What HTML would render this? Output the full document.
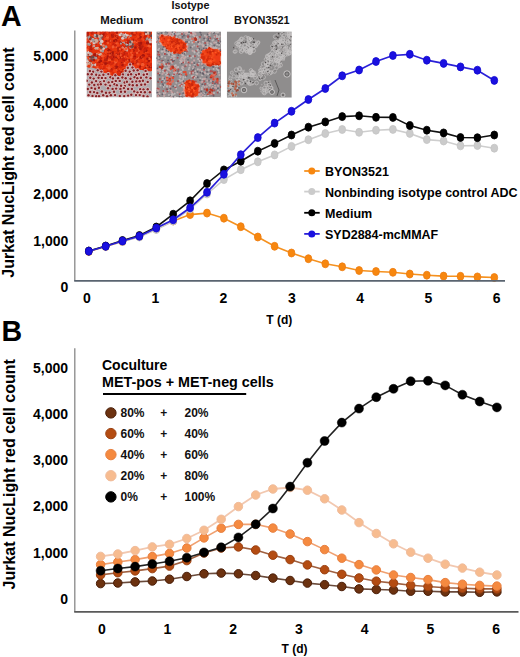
<!DOCTYPE html>
<html><head><meta charset="utf-8"><style>
html,body{margin:0;padding:0;background:#fff;width:520px;height:657px;overflow:hidden}
svg{display:block}
.b{font-family:"Liberation Sans",sans-serif;font-weight:bold;fill:#000}
.c{font-family:"Liberation Sans",sans-serif;font-weight:bold;fill:#111}
</style></head><body>
<svg width="520" height="657" viewBox="0 0 520 657"><rect width="520" height="657" fill="#fff"/><text x="1.1" y="25.5" class="b" font-size="28.6">A</text><text x="1.4" y="341.2" class="b" font-size="28.6">B</text><text transform="translate(13.7,162.5) rotate(-90)" text-anchor="middle" class="b" font-size="16">Jurkat NucLight red cell count</text><text transform="translate(14.6,474.3) rotate(-90)" text-anchor="middle" class="b" font-size="16">Jurkat NucLight red cell count</text><text x="68.3" y="61.4" text-anchor="end" class="b" font-size="14">5,000</text><text x="68.3" y="108" text-anchor="end" class="b" font-size="14">4,000</text><text x="68.3" y="155" text-anchor="end" class="b" font-size="14">3,000</text><text x="68.3" y="199" text-anchor="end" class="b" font-size="14">2,000</text><text x="68.3" y="246" text-anchor="end" class="b" font-size="14">1,000</text><text x="68.3" y="292" text-anchor="end" class="b" font-size="14">0</text><text x="68.1" y="373" text-anchor="end" class="b" font-size="14">5,000</text><text x="68.1" y="419.2" text-anchor="end" class="b" font-size="14">4,000</text><text x="68.1" y="465.2" text-anchor="end" class="b" font-size="14">3,000</text><text x="68.1" y="511.2" text-anchor="end" class="b" font-size="14">2,000</text><text x="68.1" y="558" text-anchor="end" class="b" font-size="14">1,000</text><text x="68.1" y="604" text-anchor="end" class="b" font-size="14">0</text><text x="87" y="302.8" text-anchor="middle" class="b" font-size="14">0</text><text x="101.8" y="633.9" text-anchor="middle" class="b" font-size="14">0</text><text x="155.3" y="302.8" text-anchor="middle" class="b" font-size="14">1</text><text x="167.5" y="633.9" text-anchor="middle" class="b" font-size="14">1</text><text x="223.5" y="302.8" text-anchor="middle" class="b" font-size="14">2</text><text x="233.2" y="633.9" text-anchor="middle" class="b" font-size="14">2</text><text x="291.8" y="302.8" text-anchor="middle" class="b" font-size="14">3</text><text x="299" y="633.9" text-anchor="middle" class="b" font-size="14">3</text><text x="360.1" y="302.8" text-anchor="middle" class="b" font-size="14">4</text><text x="364.7" y="633.9" text-anchor="middle" class="b" font-size="14">4</text><text x="428.3" y="302.8" text-anchor="middle" class="b" font-size="14">5</text><text x="430.4" y="633.9" text-anchor="middle" class="b" font-size="14">5</text><text x="496.6" y="302.8" text-anchor="middle" class="b" font-size="14">6</text><text x="496.1" y="633.9" text-anchor="middle" class="b" font-size="14">6</text><text x="279.3" y="323.5" text-anchor="middle" class="b" font-size="12">T (d)</text><text x="294.5" y="653" text-anchor="middle" class="b" font-size="12">T (d)</text><defs><filter id="soft" x="0" y="0" width="1" height="1"><feGaussianBlur stdDeviation="0.45"/></filter></defs><clipPath id="c1"><rect x="86.5" y="31.4" width="65.5" height="66"/></clipPath><g clip-path="url(#c1)"><g filter="url(#soft)"><rect x="86.5" y="31.4" width="65.5" height="66" fill="#aeaaae"/><path d="M86.5 31.4 L152 31.4 L152 71 L144 70 L137 70 L134 67 L130 63 L126 68 L124 72 L118.6 75.5 L111.7 75 L104 72.5 L97 69 L92 67.5 L86.5 67Z" fill="#e4300e"/><circle cx="116.1" cy="68.3" r="1.2" fill="#b82010"/><circle cx="119.8" cy="70.2" r="1.5" fill="#c82008"/><circle cx="117.7" cy="71.9" r="0.9" fill="#c82008"/><circle cx="106.4" cy="37.4" r="1.6" fill="#b82010"/><circle cx="112.4" cy="61.3" r="1.4" fill="#e83810"/><circle cx="96.8" cy="32.4" r="0.9" fill="#a81808"/><circle cx="107.9" cy="70.4" r="1.3" fill="#c82008"/><circle cx="128.4" cy="64.4" r="0.9" fill="#e83810"/><circle cx="129.4" cy="58.2" r="1.7" fill="#a81808"/><circle cx="107.2" cy="46.6" r="0.8" fill="#d82a0c"/><circle cx="123.4" cy="38.5" r="1.2" fill="#d8c8c4"/><circle cx="86.5" cy="45.2" r="1.2" fill="#f04018"/><circle cx="150.7" cy="57.6" r="1.3" fill="#f04018"/><circle cx="108.6" cy="51.9" r="1.7" fill="#f04018"/><circle cx="136.2" cy="39.2" r="1.4" fill="#c82008"/><circle cx="87.2" cy="62.1" r="1.1" fill="#d0a898"/><circle cx="136.9" cy="59.1" r="0.9" fill="#f25a30"/><circle cx="114.1" cy="45.4" r="1.6" fill="#d82a0c"/><circle cx="150.4" cy="70.5" r="1" fill="#f04018"/><circle cx="128.5" cy="38" r="1.2" fill="#c82008"/><circle cx="140.9" cy="56.9" r="0.9" fill="#f04018"/><circle cx="124.7" cy="47.4" r="1.4" fill="#d82a0c"/><circle cx="141" cy="40.4" r="1" fill="#f25a30"/><circle cx="140.1" cy="47.9" r="0.9" fill="#c82008"/><circle cx="131.5" cy="57" r="1.3" fill="#f25a30"/><circle cx="114.1" cy="38.3" r="1.3" fill="#f04018"/><circle cx="112.2" cy="59.2" r="1.2" fill="#a81808"/><circle cx="150.5" cy="39.7" r="1.4" fill="#d0a898"/><circle cx="99.9" cy="32.5" r="1.2" fill="#d82a0c"/><circle cx="102.8" cy="34.5" r="1.1" fill="#d82a0c"/><circle cx="124" cy="40.1" r="1.7" fill="#6a4a4a"/><circle cx="124.8" cy="40.7" r="1.3" fill="#b8b0b0"/><circle cx="109.9" cy="52" r="0.8" fill="#f04018"/><circle cx="128.2" cy="63.2" r="1.1" fill="#e83810"/><circle cx="95.4" cy="36.2" r="1.5" fill="#d8c8c4"/><circle cx="146.4" cy="54.6" r="1.2" fill="#e83810"/><circle cx="148.3" cy="33.4" r="1.4" fill="#b8b0b0"/><circle cx="111.5" cy="69.9" r="0.9" fill="#a81808"/><circle cx="92.4" cy="39" r="1.5" fill="#6a4a4a"/><circle cx="124.6" cy="60.5" r="1.3" fill="#b82010"/><circle cx="120.5" cy="65.4" r="1.3" fill="#d82a0c"/><circle cx="118" cy="46.6" r="0.9" fill="#e83810"/><circle cx="110.6" cy="40.9" r="1" fill="#a81808"/><circle cx="129.7" cy="60.6" r="1.1" fill="#c82008"/><circle cx="130.1" cy="44.5" r="1.6" fill="#a09a9c"/><circle cx="111.7" cy="69.9" r="1" fill="#d82a0c"/><circle cx="95.3" cy="54.5" r="0.8" fill="#b82010"/><circle cx="140.3" cy="38.8" r="1" fill="#f25a30"/><circle cx="100.5" cy="58.7" r="1.3" fill="#e83810"/><circle cx="104.7" cy="71.5" r="1.4" fill="#e83810"/><circle cx="123.9" cy="51.8" r="1.3" fill="#b82010"/><circle cx="128.5" cy="58.1" r="0.8" fill="#c82008"/><circle cx="140.8" cy="47.1" r="1.5" fill="#c82008"/><circle cx="151" cy="39" r="1.4" fill="#d0a898"/><circle cx="131.3" cy="44.6" r="1.5" fill="#a09a9c"/><circle cx="136" cy="66.7" r="1" fill="#f04018"/><circle cx="104.3" cy="54.2" r="1.7" fill="#e83810"/><circle cx="132.3" cy="46.2" r="1" fill="#6a4a4a"/><circle cx="116.2" cy="72.7" r="1.1" fill="#f04018"/><circle cx="116.9" cy="74.4" r="0.9" fill="#c82008"/><circle cx="147" cy="39.5" r="1.7" fill="#6a4a4a"/><circle cx="150.5" cy="66.8" r="1.6" fill="#b82010"/><circle cx="87.5" cy="64.7" r="1.3" fill="#d8c8c4"/><circle cx="136.8" cy="63.6" r="1" fill="#f04018"/><circle cx="143.3" cy="59.7" r="1" fill="#f04018"/><circle cx="95.7" cy="41.2" r="1.6" fill="#d0a898"/><circle cx="92.1" cy="46" r="1.6" fill="#d8c8c4"/><circle cx="123.3" cy="42.2" r="1.1" fill="#d0a898"/><circle cx="106.4" cy="40.7" r="1.3" fill="#a81808"/><circle cx="124" cy="44.7" r="0.9" fill="#d0a898"/><circle cx="111.2" cy="66.9" r="1.3" fill="#f04018"/><circle cx="123.4" cy="63.8" r="1" fill="#e83810"/><circle cx="147.5" cy="61.7" r="1.6" fill="#b82010"/><circle cx="104.1" cy="62.6" r="1.1" fill="#c82008"/><circle cx="146.8" cy="66" r="1" fill="#f04018"/><circle cx="88" cy="44.2" r="0.8" fill="#c82008"/><circle cx="102.5" cy="64.3" r="1.5" fill="#f25a30"/><circle cx="94.5" cy="65.1" r="1.5" fill="#a09a9c"/><circle cx="144.1" cy="32.9" r="1.2" fill="#e83810"/><circle cx="121.2" cy="41.9" r="1.4" fill="#d0a898"/><circle cx="107.2" cy="52.2" r="1" fill="#c82008"/><circle cx="95.3" cy="47.2" r="1.1" fill="#d82a0c"/><circle cx="138.8" cy="37.7" r="1.4" fill="#a81808"/><circle cx="94.1" cy="64.8" r="1.7" fill="#a81808"/><circle cx="118.1" cy="33" r="1.3" fill="#b82010"/><circle cx="120.2" cy="68.9" r="1" fill="#c82008"/><circle cx="94" cy="42.8" r="1.6" fill="#d8c8c4"/><circle cx="92.7" cy="35.5" r="0.9" fill="#f25a30"/><circle cx="92.8" cy="57.2" r="1.2" fill="#d8c8c4"/><circle cx="125.9" cy="32.3" r="0.8" fill="#e83810"/><circle cx="99.6" cy="58.3" r="1.5" fill="#d82a0c"/><circle cx="113" cy="44.3" r="0.9" fill="#c82008"/><circle cx="138.4" cy="52.8" r="1.5" fill="#f04018"/><circle cx="127.7" cy="58.1" r="1" fill="#a81808"/><circle cx="124.8" cy="53.9" r="1" fill="#b82010"/><circle cx="91.1" cy="54" r="1.6" fill="#b8b0b0"/><circle cx="89.7" cy="49.4" r="1.1" fill="#e83810"/><circle cx="100.7" cy="58.2" r="1.3" fill="#c82008"/><circle cx="134.9" cy="48.3" r="1.3" fill="#f25a30"/><circle cx="87.2" cy="48.5" r="1.6" fill="#d82a0c"/><circle cx="122.5" cy="64.9" r="1.3" fill="#a81808"/><circle cx="139.5" cy="36.4" r="1.4" fill="#a81808"/><circle cx="149.1" cy="56.9" r="1.1" fill="#c82008"/><circle cx="122" cy="70.8" r="1.7" fill="#f25a30"/><circle cx="114.1" cy="66.2" r="1.1" fill="#a81808"/><circle cx="121.2" cy="63.3" r="1.3" fill="#d82a0c"/><circle cx="105.9" cy="32.3" r="1.3" fill="#c82008"/><circle cx="128" cy="58.4" r="1.2" fill="#e83810"/><circle cx="148.4" cy="36.3" r="1.4" fill="#f25a30"/><circle cx="89.5" cy="37.9" r="0.9" fill="#f25a30"/><circle cx="149.4" cy="47.6" r="0.9" fill="#e83810"/><circle cx="127.4" cy="61.5" r="1.6" fill="#c82008"/><circle cx="109.9" cy="41.6" r="1.2" fill="#d82a0c"/><circle cx="130.2" cy="61.5" r="1.4" fill="#d82a0c"/><circle cx="131.2" cy="55.4" r="1.3" fill="#e83810"/><circle cx="134.6" cy="47.1" r="1.3" fill="#f04018"/><circle cx="106.7" cy="64.9" r="1.1" fill="#b82010"/><circle cx="123.5" cy="70.5" r="1.1" fill="#e83810"/><circle cx="119.4" cy="74.5" r="1.6" fill="#c82008"/><circle cx="89.1" cy="35.4" r="1" fill="#d82a0c"/><circle cx="88.3" cy="33.9" r="1.3" fill="#c82008"/><circle cx="91.2" cy="37.1" r="1" fill="#a81808"/><circle cx="150.8" cy="63.3" r="1" fill="#d82a0c"/><circle cx="141.4" cy="36.3" r="1.2" fill="#f04018"/><circle cx="136.9" cy="60.7" r="1" fill="#e83810"/><circle cx="139.5" cy="55.8" r="1.6" fill="#e83810"/><circle cx="125.6" cy="50.6" r="1.6" fill="#b82010"/><circle cx="114.5" cy="55.8" r="1.2" fill="#f04018"/><circle cx="107.7" cy="67.3" r="1.3" fill="#f25a30"/><circle cx="91.5" cy="45.5" r="1.4" fill="#f04018"/><circle cx="107.6" cy="60.5" r="1.6" fill="#a81808"/><circle cx="106.5" cy="52.4" r="1.7" fill="#f25a30"/><circle cx="134.3" cy="65.5" r="1.1" fill="#f04018"/><circle cx="110.4" cy="55.4" r="1.3" fill="#f25a30"/><circle cx="110.6" cy="57.2" r="1.6" fill="#c82008"/><circle cx="123.4" cy="43.1" r="1.1" fill="#b82010"/><circle cx="88" cy="65.4" r="1.1" fill="#d0a898"/><circle cx="114.2" cy="69.8" r="1.5" fill="#d82a0c"/><circle cx="92" cy="36.8" r="0.9" fill="#d82a0c"/><circle cx="128" cy="40.9" r="1.2" fill="#e83810"/><circle cx="133.1" cy="63.7" r="1.1" fill="#a81808"/><circle cx="116.6" cy="54.5" r="1.7" fill="#b82010"/><circle cx="114.1" cy="59.2" r="1" fill="#c82008"/><circle cx="131.3" cy="52.6" r="1.2" fill="#f25a30"/><circle cx="90.4" cy="51.8" r="1.5" fill="#a09a9c"/><circle cx="98.3" cy="35.5" r="1.3" fill="#d0a898"/><circle cx="138.9" cy="52" r="1" fill="#c82008"/><circle cx="100.7" cy="46.9" r="1.3" fill="#a81808"/><circle cx="148.2" cy="67.7" r="1" fill="#b82010"/><circle cx="108.9" cy="67.5" r="1.2" fill="#f04018"/><circle cx="101" cy="34.7" r="1.5" fill="#b82010"/><circle cx="145.8" cy="61.1" r="1.4" fill="#c82008"/><circle cx="126.2" cy="41.8" r="1" fill="#d8c8c4"/><circle cx="127.1" cy="65.5" r="0.9" fill="#f04018"/><circle cx="137" cy="31.5" r="1.6" fill="#b82010"/><circle cx="96.3" cy="39.9" r="1.5" fill="#d0a898"/><circle cx="92.9" cy="63.1" r="1.3" fill="#d0a898"/><circle cx="119.6" cy="32.7" r="1.2" fill="#c82008"/><circle cx="146.5" cy="37.4" r="0.8" fill="#c82008"/><circle cx="113.6" cy="64" r="1.7" fill="#b82010"/><circle cx="107.2" cy="58.2" r="1.1" fill="#a81808"/><circle cx="93.4" cy="57.4" r="1.4" fill="#b8b0b0"/><circle cx="87.3" cy="56.3" r="1.1" fill="#c82008"/><circle cx="122.9" cy="37.1" r="1.5" fill="#6a4a4a"/><circle cx="92.5" cy="40.7" r="1" fill="#a09a9c"/><circle cx="125.3" cy="37.3" r="1.7" fill="#a09a9c"/><circle cx="147.2" cy="40.6" r="1.6" fill="#a09a9c"/><circle cx="111.8" cy="53.3" r="1.4" fill="#f25a30"/><circle cx="121.2" cy="48.6" r="1.1" fill="#c82008"/><circle cx="129.1" cy="38.4" r="1.2" fill="#d0a898"/><circle cx="105.7" cy="38.2" r="0.9" fill="#e83810"/><circle cx="122.4" cy="54.7" r="1.3" fill="#a81808"/><circle cx="124.1" cy="44.5" r="1.4" fill="#e83810"/><circle cx="147.8" cy="68.8" r="1.4" fill="#f04018"/><circle cx="99.5" cy="36.9" r="1.2" fill="#d0a898"/><circle cx="108.3" cy="37.5" r="1.1" fill="#b82010"/><circle cx="116.8" cy="39.6" r="0.9" fill="#e83810"/><circle cx="145.7" cy="67.3" r="0.9" fill="#a81808"/><circle cx="146.4" cy="42.5" r="1.7" fill="#e83810"/><circle cx="102.3" cy="69.3" r="0.9" fill="#b82010"/><circle cx="116.3" cy="58" r="1.7" fill="#b82010"/><circle cx="134.8" cy="56.6" r="1.4" fill="#a81808"/><circle cx="136.5" cy="41.9" r="1.2" fill="#f25a30"/><circle cx="95.9" cy="56.9" r="1.2" fill="#a81808"/><circle cx="108.5" cy="40.1" r="1.3" fill="#c82008"/><circle cx="108.3" cy="73.8" r="1.4" fill="#f04018"/><circle cx="138.1" cy="58" r="1.3" fill="#f25a30"/><circle cx="117.3" cy="58.6" r="1.6" fill="#a81808"/><circle cx="123.5" cy="58.3" r="1.2" fill="#d82a0c"/><circle cx="142.5" cy="58.4" r="0.9" fill="#f25a30"/><circle cx="108.1" cy="65.8" r="1.6" fill="#f25a30"/><circle cx="107.5" cy="35" r="1.4" fill="#e83810"/><circle cx="114.9" cy="56.2" r="1.5" fill="#d82a0c"/><circle cx="106.5" cy="70.6" r="1" fill="#f04018"/><circle cx="141.8" cy="47.4" r="1.2" fill="#b82010"/><circle cx="121" cy="47.2" r="1.4" fill="#d82a0c"/><circle cx="143.6" cy="55.7" r="1.2" fill="#a81808"/><circle cx="139.2" cy="46" r="1.2" fill="#e83810"/><circle cx="94.5" cy="36.1" r="1" fill="#a09a9c"/><circle cx="86.5" cy="47.5" r="0.8" fill="#d82a0c"/><circle cx="97.8" cy="60.5" r="1.5" fill="#f25a30"/><circle cx="112.5" cy="54.9" r="1" fill="#a81808"/><circle cx="106.6" cy="61.4" r="1.1" fill="#d82a0c"/><circle cx="150.5" cy="62.6" r="1" fill="#c82008"/><circle cx="90.4" cy="52.2" r="0.8" fill="#f25a30"/><circle cx="123.2" cy="66.6" r="1" fill="#c82008"/><circle cx="144.2" cy="34.7" r="1.1" fill="#f04018"/><circle cx="104.4" cy="59.1" r="1.1" fill="#c82008"/><circle cx="113.7" cy="42.6" r="1.1" fill="#b82010"/><circle cx="133" cy="44.4" r="1.3" fill="#a09a9c"/><circle cx="105.9" cy="49.4" r="1.4" fill="#b82010"/><circle cx="101.5" cy="51.3" r="1" fill="#e83810"/><circle cx="116.8" cy="36.4" r="0.9" fill="#a81808"/><circle cx="145.9" cy="31.9" r="1.1" fill="#d0a898"/><circle cx="139.1" cy="37.2" r="1.7" fill="#d82a0c"/><circle cx="98.9" cy="43.2" r="1" fill="#f04018"/><circle cx="88.7" cy="61.9" r="0.8" fill="#f25a30"/><circle cx="144.9" cy="35.4" r="1.3" fill="#f04018"/><circle cx="128.7" cy="55.1" r="1.2" fill="#e83810"/><circle cx="88.6" cy="50.6" r="1.6" fill="#b82010"/><circle cx="148.8" cy="42.9" r="1.5" fill="#b82010"/><circle cx="93.8" cy="60.1" r="1.5" fill="#a81808"/><circle cx="102" cy="63.7" r="1.6" fill="#c82008"/><circle cx="126" cy="48.6" r="1.4" fill="#b8b0b0"/><circle cx="143.7" cy="43.3" r="1.3" fill="#c82008"/><circle cx="142.6" cy="33.4" r="1.6" fill="#f04018"/><circle cx="123.8" cy="67.3" r="1.4" fill="#b82010"/><circle cx="127.3" cy="35" r="1.6" fill="#d8c8c4"/><circle cx="136.6" cy="64.3" r="1.5" fill="#e83810"/><circle cx="97.7" cy="48.2" r="1.5" fill="#d0a898"/><circle cx="90.5" cy="58.5" r="1.5" fill="#a09a9c"/><circle cx="149.2" cy="39.9" r="1.7" fill="#a81808"/><circle cx="96" cy="61.5" r="0.8" fill="#f04018"/><circle cx="113.3" cy="66.1" r="1.2" fill="#f04018"/><circle cx="106" cy="59.4" r="1.7" fill="#f04018"/><circle cx="105.9" cy="39.2" r="1" fill="#b82010"/><circle cx="110.3" cy="53.6" r="1" fill="#a81808"/><circle cx="147.8" cy="45.5" r="1.5" fill="#f25a30"/><circle cx="100.6" cy="54.3" r="1.5" fill="#d0a898"/><circle cx="118" cy="57.8" r="1.2" fill="#a81808"/><circle cx="106.7" cy="60.9" r="1.4" fill="#e83810"/><circle cx="143" cy="44.9" r="1.2" fill="#f25a30"/><circle cx="89.6" cy="49.6" r="1.4" fill="#d82a0c"/><circle cx="120" cy="68.8" r="1.4" fill="#e83810"/><circle cx="104.1" cy="55.2" r="1.5" fill="#c82008"/><circle cx="137.4" cy="40.4" r="1.5" fill="#c82008"/><circle cx="145.9" cy="32.7" r="1.3" fill="#6a4a4a"/><circle cx="142.5" cy="56.6" r="1.5" fill="#d82a0c"/><circle cx="120.5" cy="35" r="1.3" fill="#a09a9c"/><circle cx="98.8" cy="65.3" r="0.8" fill="#c82008"/><circle cx="107" cy="59.4" r="1.4" fill="#a81808"/><circle cx="120.4" cy="67.6" r="1.5" fill="#d82a0c"/><circle cx="130.1" cy="41.1" r="1.3" fill="#d8c8c4"/><circle cx="115.9" cy="40.4" r="1.6" fill="#a81808"/><circle cx="101.3" cy="50.7" r="1" fill="#a09a9c"/><circle cx="118.1" cy="32.1" r="1.7" fill="#b82010"/><circle cx="146.7" cy="45.7" r="1.1" fill="#e83810"/><circle cx="94.3" cy="63.9" r="1.1" fill="#d8c8c4"/><circle cx="132.6" cy="46" r="1.2" fill="#c82008"/><circle cx="102.2" cy="37.5" r="1.5" fill="#6a4a4a"/><circle cx="117.8" cy="48.4" r="1.3" fill="#b82010"/><circle cx="132.4" cy="32.9" r="0.9" fill="#f25a30"/><circle cx="104.3" cy="56.3" r="1.3" fill="#b82010"/><circle cx="117.2" cy="52.9" r="0.9" fill="#d82a0c"/><circle cx="88.8" cy="52.8" r="1.1" fill="#d8c8c4"/><circle cx="130.3" cy="43.7" r="1.2" fill="#d0a898"/><circle cx="145.3" cy="33.4" r="1.5" fill="#c82008"/><circle cx="113.4" cy="58.8" r="0.9" fill="#d82a0c"/><circle cx="116.9" cy="61.1" r="0.8" fill="#f25a30"/><circle cx="95.4" cy="64.9" r="1.3" fill="#d8c8c4"/><circle cx="104.2" cy="48.4" r="0.9" fill="#d0a898"/><circle cx="122.1" cy="57.4" r="1.3" fill="#c82008"/><circle cx="138.7" cy="48.8" r="1.6" fill="#f04018"/><circle cx="118.6" cy="68.6" r="1.2" fill="#d82a0c"/><circle cx="119.1" cy="74.1" r="1.1" fill="#d82a0c"/><circle cx="98.1" cy="65.3" r="1.6" fill="#c82008"/><circle cx="144.5" cy="51.9" r="1.2" fill="#b82010"/><circle cx="137.1" cy="63.1" r="1.4" fill="#c82008"/><circle cx="113.5" cy="63.2" r="1" fill="#d82a0c"/><circle cx="107.9" cy="53.4" r="1" fill="#b82010"/><circle cx="123.4" cy="39.9" r="1.4" fill="#e83810"/><circle cx="139" cy="39.7" r="1.4" fill="#f25a30"/><circle cx="150.3" cy="62.5" r="1.6" fill="#e83810"/><circle cx="150.1" cy="40.2" r="1" fill="#f25a30"/><circle cx="130.1" cy="56.9" r="1.7" fill="#e83810"/><circle cx="94.3" cy="34.2" r="1.1" fill="#d82a0c"/><circle cx="97.7" cy="35.8" r="1.1" fill="#d8c8c4"/><circle cx="133.8" cy="58.3" r="1.7" fill="#c82008"/><circle cx="96.1" cy="43" r="1.6" fill="#d8c8c4"/><circle cx="114.8" cy="41.4" r="1" fill="#f04018"/><circle cx="123.8" cy="49.5" r="1" fill="#f25a30"/><circle cx="101.4" cy="63.2" r="1.3" fill="#d82a0c"/><circle cx="123.1" cy="41.4" r="1.4" fill="#d8c8c4"/><circle cx="86.8" cy="53.6" r="1.7" fill="#a09a9c"/><circle cx="113.3" cy="33.5" r="1.5" fill="#d82a0c"/><circle cx="112.4" cy="35.2" r="1.4" fill="#a81808"/><circle cx="140.7" cy="48.1" r="1.6" fill="#c82008"/><circle cx="134" cy="43" r="1.7" fill="#f04018"/><circle cx="104.3" cy="33" r="1.1" fill="#a81808"/><circle cx="120.2" cy="32.1" r="0.9" fill="#c82008"/><circle cx="103.9" cy="47.6" r="1.2" fill="#f25a30"/><circle cx="101.4" cy="57" r="1.3" fill="#d82a0c"/><circle cx="127.6" cy="61.1" r="1.1" fill="#d82a0c"/><circle cx="145.8" cy="52.6" r="1" fill="#f04018"/><circle cx="100.5" cy="43.3" r="1.3" fill="#a09a9c"/><circle cx="131.1" cy="43.1" r="1.2" fill="#a09a9c"/><circle cx="98.4" cy="32.9" r="1.3" fill="#f25a30"/><circle cx="112.9" cy="52.6" r="1.6" fill="#a81808"/><circle cx="136.4" cy="32.8" r="1.1" fill="#c82008"/><circle cx="135.9" cy="38.6" r="1.2" fill="#d82a0c"/><circle cx="149.6" cy="45.9" r="1.5" fill="#f25a30"/><circle cx="91.1" cy="57.1" r="1.5" fill="#c82008"/><circle cx="120.9" cy="32.1" r="1.4" fill="#e83810"/><circle cx="111.3" cy="73.9" r="1.4" fill="#c82008"/><circle cx="109.1" cy="60.4" r="1.4" fill="#e83810"/><circle cx="119.6" cy="68.9" r="0.9" fill="#f04018"/><circle cx="115.1" cy="62.2" r="1.1" fill="#b82010"/><circle cx="101.6" cy="71" r="0.8" fill="#a81808"/><circle cx="146.8" cy="66.3" r="1.2" fill="#f25a30"/><circle cx="147.5" cy="41.4" r="1.1" fill="#f25a30"/><circle cx="98.8" cy="62.4" r="1.2" fill="#a81808"/><circle cx="143.3" cy="39.8" r="0.9" fill="#f25a30"/><circle cx="138.2" cy="40.8" r="1.5" fill="#f04018"/><circle cx="133.1" cy="47.9" r="1" fill="#f25a30"/><circle cx="87.4" cy="59.6" r="1" fill="#a09a9c"/><circle cx="118.6" cy="47.4" r="1.2" fill="#b82010"/><circle cx="150.2" cy="35.7" r="1.1" fill="#b82010"/><circle cx="93.1" cy="33.8" r="1.7" fill="#d82a0c"/><circle cx="100.9" cy="50.4" r="1.2" fill="#d0a898"/><circle cx="145.6" cy="36.1" r="1.3" fill="#c82008"/><circle cx="150" cy="68.4" r="1.1" fill="#f25a30"/><circle cx="129.6" cy="45.2" r="1" fill="#a09a9c"/><circle cx="124.5" cy="34.1" r="1.7" fill="#d8c8c4"/><circle cx="126.5" cy="55" r="0.8" fill="#c82008"/><circle cx="91" cy="45" r="1.1" fill="#b82010"/><circle cx="113.2" cy="41.1" r="1" fill="#e83810"/><circle cx="111" cy="71.8" r="1.2" fill="#d82a0c"/><circle cx="101.9" cy="69.6" r="0.9" fill="#d82a0c"/><circle cx="101.3" cy="62.9" r="1.5" fill="#c82008"/><circle cx="125.9" cy="61" r="1.1" fill="#f04018"/><circle cx="108.3" cy="70" r="1.7" fill="#e83810"/><circle cx="130.5" cy="47.6" r="1.4" fill="#a09a9c"/><circle cx="143.2" cy="57" r="1.1" fill="#d82a0c"/><circle cx="125.2" cy="67.4" r="1.2" fill="#f04018"/><circle cx="87.6" cy="33.4" r="1.4" fill="#a81808"/><circle cx="148.7" cy="32.9" r="0.9" fill="#f25a30"/><circle cx="97.7" cy="64.8" r="1.4" fill="#f25a30"/><circle cx="151.8" cy="35.8" r="1.5" fill="#6a4a4a"/><circle cx="147.5" cy="65.6" r="1" fill="#a81808"/><circle cx="110.7" cy="40.8" r="0.9" fill="#f25a30"/><circle cx="138.5" cy="31.6" r="1.4" fill="#e83810"/><circle cx="114.9" cy="41.7" r="1.6" fill="#d82a0c"/><circle cx="88.1" cy="54.6" r="1.7" fill="#d0a898"/><circle cx="137.3" cy="37.6" r="1.3" fill="#a81808"/><circle cx="90.9" cy="47.1" r="1.3" fill="#a81808"/><circle cx="102.7" cy="58.7" r="1.7" fill="#f04018"/><circle cx="125.1" cy="42.6" r="1.6" fill="#a09a9c"/><circle cx="120.9" cy="58.2" r="1.7" fill="#a81808"/><circle cx="133.2" cy="39.2" r="0.8" fill="#b82010"/><circle cx="96.8" cy="66.5" r="1.2" fill="#f04018"/><circle cx="137.3" cy="57.1" r="0.9" fill="#d82a0c"/><circle cx="103.6" cy="38.8" r="1.6" fill="#d82a0c"/><circle cx="123.2" cy="40.5" r="1.2" fill="#f04018"/><circle cx="103.4" cy="55.7" r="1.5" fill="#f25a30"/><circle cx="111.7" cy="74.2" r="1.2" fill="#d82a0c"/><circle cx="90.5" cy="66.2" r="1.6" fill="#6a4a4a"/><circle cx="88.6" cy="55.1" r="1.5" fill="#a81808"/><circle cx="118.4" cy="32" r="1.3" fill="#f25a30"/><circle cx="109.9" cy="47.7" r="1.4" fill="#a81808"/><circle cx="141.5" cy="45.2" r="1.3" fill="#b82010"/><circle cx="107.1" cy="64.2" r="1.5" fill="#a81808"/><circle cx="100.5" cy="70.3" r="1.5" fill="#b82010"/><circle cx="112.9" cy="50.3" r="0.9" fill="#e83810"/><circle cx="112.5" cy="46.3" r="1.1" fill="#d82a0c"/><circle cx="128.3" cy="32.9" r="1.5" fill="#e83810"/><circle cx="124.5" cy="31.8" r="1.2" fill="#e83810"/><circle cx="108.5" cy="72.7" r="0.9" fill="#b82010"/><circle cx="137.7" cy="60.5" r="0.9" fill="#b82010"/><circle cx="139" cy="60.8" r="1.5" fill="#e83810"/><circle cx="129.3" cy="38.9" r="1.2" fill="#f04018"/><circle cx="117.4" cy="33.5" r="1.6" fill="#f25a30"/><circle cx="118.9" cy="60.2" r="1.1" fill="#b82010"/><circle cx="137.5" cy="38.3" r="1.6" fill="#e83810"/><circle cx="137.1" cy="52.8" r="1.1" fill="#f04018"/><circle cx="97.2" cy="54.5" r="1.4" fill="#d0a898"/><circle cx="116.2" cy="70.3" r="1.1" fill="#f25a30"/><circle cx="124.7" cy="63.1" r="1.1" fill="#f25a30"/><circle cx="132.2" cy="46.8" r="1.4" fill="#6a4a4a"/><circle cx="103.3" cy="35.6" r="1" fill="#b82010"/><circle cx="102.4" cy="45.5" r="1.3" fill="#f04018"/><circle cx="116.4" cy="63.5" r="1" fill="#c82008"/><circle cx="119.3" cy="41.3" r="1.3" fill="#d82a0c"/><circle cx="122.6" cy="53.4" r="1.2" fill="#c82008"/><circle cx="150.1" cy="54.9" r="0.9" fill="#d82a0c"/><circle cx="137.9" cy="45.8" r="1.6" fill="#c82008"/><circle cx="134.8" cy="54.1" r="1.5" fill="#c82008"/><circle cx="133.6" cy="50.6" r="1.5" fill="#b82010"/><circle cx="150.8" cy="38.7" r="1.3" fill="#a09a9c"/><circle cx="103.1" cy="50.7" r="1.1" fill="#a09a9c"/><circle cx="91.5" cy="33.3" r="1" fill="#b82010"/><circle cx="103.5" cy="35" r="1.1" fill="#b82010"/><circle cx="138.1" cy="46.8" r="1.4" fill="#f25a30"/><circle cx="109.1" cy="45.7" r="1.3" fill="#e83810"/><circle cx="123.6" cy="54.4" r="0.9" fill="#c82008"/><circle cx="122.5" cy="69.3" r="1.5" fill="#e83810"/><circle cx="106.3" cy="31.6" r="1.7" fill="#a81808"/><circle cx="99.3" cy="55.6" r="0.9" fill="#a09a9c"/><circle cx="130.1" cy="35.9" r="1" fill="#d0a898"/><circle cx="122" cy="60.2" r="1" fill="#e83810"/><circle cx="121" cy="54.8" r="1.6" fill="#f25a30"/><circle cx="144.1" cy="38.1" r="1.2" fill="#c82008"/><circle cx="91.7" cy="63.5" r="1" fill="#d0a898"/><circle cx="145.4" cy="48.3" r="1.4" fill="#c82008"/><circle cx="87.8" cy="63.7" r="1.4" fill="#d0a898"/><circle cx="92.2" cy="65.7" r="0.9" fill="#f04018"/><circle cx="106" cy="51.3" r="1.2" fill="#f04018"/><circle cx="96.3" cy="43.7" r="1.3" fill="#b82010"/><circle cx="86.5" cy="35.9" r="1" fill="#b82010"/><circle cx="112.4" cy="46.7" r="1.1" fill="#d82a0c"/><circle cx="109.2" cy="32.4" r="1" fill="#b82010"/><circle cx="89.6" cy="55.8" r="1.4" fill="#a81808"/><circle cx="116.3" cy="46.9" r="1" fill="#f25a30"/><circle cx="96.3" cy="48.1" r="1" fill="#d8c8c4"/><circle cx="124.1" cy="32.9" r="1" fill="#d82a0c"/><circle cx="106.2" cy="53.2" r="1" fill="#e83810"/><circle cx="88.8" cy="47.8" r="0.9" fill="#f04018"/><circle cx="136.5" cy="47.5" r="0.8" fill="#c82008"/><circle cx="123" cy="40.5" r="1.6" fill="#f04018"/><circle cx="151.4" cy="57" r="1.2" fill="#c82008"/><circle cx="130.4" cy="46.7" r="1.1" fill="#c82008"/><circle cx="105.3" cy="70.6" r="0.9" fill="#e83810"/><circle cx="89.9" cy="33.6" r="1.2" fill="#f04018"/><circle cx="96.9" cy="35.9" r="1.7" fill="#6a4a4a"/><circle cx="147.5" cy="54" r="0.9" fill="#c82008"/><circle cx="99.1" cy="40.4" r="1.5" fill="#b82010"/><circle cx="148.7" cy="61.3" r="1.5" fill="#d82a0c"/><circle cx="147" cy="41.1" r="0.9" fill="#b82010"/><circle cx="98.6" cy="54.3" r="1.2" fill="#d8c8c4"/><circle cx="124.7" cy="49.5" r="1.3" fill="#d0a898"/><circle cx="139.1" cy="48.7" r="0.9" fill="#f04018"/><circle cx="101.1" cy="36.5" r="1" fill="#d0a898"/><circle cx="93.4" cy="63.3" r="1.2" fill="#a81808"/><circle cx="117" cy="44" r="1.7" fill="#f25a30"/><circle cx="112.7" cy="34.8" r="0.8" fill="#c82008"/><circle cx="149.5" cy="33" r="1.4" fill="#6a4a4a"/><circle cx="90.6" cy="33" r="0.8" fill="#d82a0c"/><circle cx="106.4" cy="34.1" r="1.6" fill="#d82a0c"/><circle cx="97.4" cy="40.9" r="1.2" fill="#d0a898"/><circle cx="121.9" cy="61.8" r="1.7" fill="#d82a0c"/><circle cx="129.6" cy="62.3" r="1.7" fill="#a81808"/><circle cx="105.4" cy="42.7" r="1.3" fill="#c82008"/><circle cx="108.8" cy="73.6" r="1.4" fill="#e83810"/><circle cx="109.2" cy="68.3" r="1.5" fill="#f25a30"/><circle cx="112.8" cy="64.3" r="1.4" fill="#b82010"/><circle cx="116.8" cy="37.3" r="1.4" fill="#f25a30"/><circle cx="90.5" cy="40.8" r="1.3" fill="#d0a898"/><circle cx="138.8" cy="48.2" r="1.3" fill="#e83810"/><circle cx="114.4" cy="68" r="1.2" fill="#f04018"/><circle cx="118.1" cy="50.6" r="1.4" fill="#b82010"/><circle cx="115.7" cy="51.1" r="1.6" fill="#e83810"/><circle cx="139" cy="43" r="1.2" fill="#b82010"/><circle cx="133.3" cy="34.3" r="0.8" fill="#b82010"/><circle cx="120" cy="54" r="1.4" fill="#b82010"/><circle cx="130.7" cy="57.8" r="1.6" fill="#e83810"/><circle cx="150.4" cy="41.9" r="1.6" fill="#d8c8c4"/><circle cx="106.8" cy="43.7" r="1.5" fill="#e83810"/><circle cx="130.3" cy="60.2" r="1.5" fill="#f25a30"/><circle cx="128.4" cy="63.9" r="1.4" fill="#f25a30"/><circle cx="94.2" cy="41.5" r="1.1" fill="#6a4a4a"/><circle cx="146.2" cy="50.6" r="1.4" fill="#a81808"/><circle cx="108.3" cy="49.8" r="1.7" fill="#a81808"/><circle cx="90.8" cy="37.8" r="1.2" fill="#f04018"/><circle cx="135.3" cy="47.9" r="1.6" fill="#c82008"/><circle cx="110.4" cy="60" r="0.9" fill="#f25a30"/><circle cx="89.9" cy="54.9" r="1.2" fill="#d0a898"/><circle cx="113.1" cy="46.9" r="1.6" fill="#f25a30"/><circle cx="91.7" cy="59.7" r="1.5" fill="#6a4a4a"/><circle cx="103" cy="67.1" r="1.3" fill="#f04018"/><circle cx="90.2" cy="41.3" r="1.5" fill="#d8c8c4"/><circle cx="89.2" cy="35.2" r="1.2" fill="#f04018"/><circle cx="93.5" cy="62.7" r="1.3" fill="#f04018"/><circle cx="86.6" cy="62.1" r="0.9" fill="#b82010"/><circle cx="114.4" cy="69.2" r="1" fill="#e83810"/><circle cx="139.9" cy="47.2" r="1.4" fill="#b82010"/><circle cx="94.9" cy="35" r="1.2" fill="#b8b0b0"/><circle cx="127" cy="45.1" r="1.7" fill="#6a4a4a"/><circle cx="128.3" cy="53.6" r="1" fill="#f04018"/><circle cx="143.2" cy="65" r="1.5" fill="#f25a30"/><circle cx="143.5" cy="44" r="1.5" fill="#f04018"/><circle cx="132.9" cy="61" r="1.4" fill="#d82a0c"/><circle cx="99.9" cy="60.1" r="1.4" fill="#c82008"/><circle cx="113.4" cy="51.4" r="0.9" fill="#b82010"/><circle cx="144.5" cy="36.3" r="1.1" fill="#c82008"/><circle cx="115" cy="74.5" r="1.3" fill="#c82008"/><circle cx="109.1" cy="59.6" r="1.4" fill="#f04018"/><circle cx="101" cy="57.7" r="1.5" fill="#c82008"/><circle cx="114.9" cy="64.3" r="1.5" fill="#f04018"/><circle cx="141.3" cy="57.2" r="1.7" fill="#a81808"/><circle cx="133.2" cy="53.8" r="1.3" fill="#d82a0c"/><circle cx="123.3" cy="67.3" r="0.9" fill="#f04018"/><circle cx="137.6" cy="52.8" r="1.3" fill="#e83810"/><circle cx="138.5" cy="64" r="1.1" fill="#f25a30"/><circle cx="139.3" cy="59.1" r="0.9" fill="#c82008"/><circle cx="89.7" cy="61.9" r="1.4" fill="#6a4a4a"/><circle cx="149" cy="54.7" r="0.8" fill="#b82010"/><circle cx="97.5" cy="55.4" r="1.1" fill="#c82008"/><circle cx="104.4" cy="55.1" r="1.3" fill="#a81808"/><circle cx="121.8" cy="57.7" r="0.9" fill="#f25a30"/><circle cx="147.6" cy="47.9" r="0.8" fill="#c82008"/><circle cx="88.3" cy="44" r="1.5" fill="#b8b0b0"/><circle cx="142.8" cy="45.3" r="1.1" fill="#e83810"/><circle cx="132.4" cy="33.2" r="1.5" fill="#b82010"/><circle cx="104.9" cy="64.7" r="1" fill="#d82a0c"/><circle cx="108.9" cy="60.4" r="1" fill="#f25a30"/><circle cx="136.5" cy="62.6" r="1.4" fill="#a81808"/><circle cx="143.6" cy="46.3" r="0.9" fill="#d82a0c"/><circle cx="148.1" cy="33" r="1.2" fill="#d0a898"/><circle cx="143" cy="35.5" r="1.2" fill="#f04018"/><circle cx="122.8" cy="34.3" r="0.9" fill="#d8c8c4"/><circle cx="137.6" cy="46" r="1.1" fill="#f04018"/><circle cx="110.1" cy="47.8" r="1.1" fill="#d82a0c"/><circle cx="87.5" cy="55.4" r="1.1" fill="#a09a9c"/><circle cx="117.2" cy="65.2" r="1.3" fill="#d82a0c"/><circle cx="138.9" cy="60.7" r="1.3" fill="#e83810"/><circle cx="113.6" cy="57.1" r="1" fill="#a81808"/><circle cx="115.6" cy="69.4" r="1.5" fill="#b82010"/><circle cx="141.8" cy="50.2" r="1.1" fill="#d82a0c"/><circle cx="127.1" cy="50.2" r="1.4" fill="#d0a898"/><circle cx="116.3" cy="57.6" r="1" fill="#a81808"/><circle cx="143.7" cy="44.2" r="1" fill="#f04018"/><circle cx="150.1" cy="67.3" r="1.3" fill="#a81808"/><circle cx="89" cy="50.5" r="1.7" fill="#d82a0c"/><circle cx="87.4" cy="41.2" r="1.4" fill="#f25a30"/><circle cx="135.7" cy="60.9" r="1.3" fill="#f25a30"/><circle cx="122.3" cy="35.1" r="1.2" fill="#f04018"/><circle cx="100.7" cy="60.9" r="1.5" fill="#a81808"/><circle cx="126.8" cy="32.2" r="1.4" fill="#e83810"/><circle cx="100.5" cy="36.2" r="1" fill="#d82a0c"/><circle cx="144.9" cy="65.9" r="1" fill="#e83810"/><circle cx="101.2" cy="42.3" r="1.5" fill="#a09a9c"/><circle cx="107.4" cy="39" r="1.6" fill="#f04018"/><circle cx="98.6" cy="64.1" r="1" fill="#f04018"/><circle cx="130.7" cy="35.7" r="1.2" fill="#a09a9c"/><circle cx="147.8" cy="52.5" r="0.9" fill="#f04018"/><circle cx="118.7" cy="56.7" r="1" fill="#a81808"/><circle cx="94.2" cy="55.1" r="1.1" fill="#a81808"/><circle cx="146.4" cy="43.3" r="0.8" fill="#a81808"/><circle cx="127.5" cy="61" r="1.5" fill="#f25a30"/><circle cx="88.7" cy="43.9" r="1.4" fill="#6a4a4a"/><circle cx="133.8" cy="34.8" r="0.9" fill="#b82010"/><circle cx="104.6" cy="72" r="1" fill="#f04018"/><circle cx="128.9" cy="41" r="1.6" fill="#c82008"/><circle cx="88.9" cy="38.8" r="1.3" fill="#a09a9c"/><circle cx="115.1" cy="36.3" r="1" fill="#a81808"/><circle cx="97.5" cy="66.7" r="1.2" fill="#f25a30"/><circle cx="92.8" cy="31.8" r="0.8" fill="#d82a0c"/><circle cx="126.8" cy="44.2" r="1.2" fill="#b8b0b0"/><circle cx="105.5" cy="50.3" r="0.9" fill="#e83810"/><circle cx="146" cy="34.1" r="1.1" fill="#d8c8c4"/><circle cx="151.8" cy="37.9" r="1" fill="#e83810"/><circle cx="136.6" cy="38.8" r="1.5" fill="#f04018"/><circle cx="143.2" cy="55.3" r="1.4" fill="#a81808"/><circle cx="144.8" cy="49.7" r="1.6" fill="#c82008"/><circle cx="95.9" cy="58" r="1.5" fill="#a09a9c"/><circle cx="129.4" cy="60.1" r="1.1" fill="#a81808"/><circle cx="107.6" cy="71.5" r="1" fill="#c82008"/><circle cx="88.5" cy="43.7" r="1.1" fill="#d0a898"/><circle cx="142.1" cy="44.5" r="1.3" fill="#a81808"/><circle cx="134.5" cy="39" r="0.8" fill="#e83810"/><circle cx="108" cy="49.6" r="1.4" fill="#a81808"/><circle cx="101.7" cy="63.2" r="1.2" fill="#e83810"/><circle cx="104.1" cy="68.5" r="1.1" fill="#c82008"/><circle cx="135.1" cy="62" r="1.4" fill="#e83810"/><circle cx="149.3" cy="39.7" r="1.2" fill="#b8b0b0"/><circle cx="141.8" cy="67.4" r="1.3" fill="#c82008"/><circle cx="90.3" cy="37.9" r="1.4" fill="#6a4a4a"/><circle cx="103.3" cy="48.3" r="1.7" fill="#d8c8c4"/><circle cx="117.7" cy="38.1" r="0.9" fill="#a81808"/><circle cx="90.7" cy="66.5" r="1.5" fill="#d0a898"/><circle cx="110.9" cy="74.3" r="1.6" fill="#d82a0c"/><circle cx="122.8" cy="69.8" r="0.8" fill="#b82010"/><circle cx="121.8" cy="53" r="1.5" fill="#f25a30"/><circle cx="128" cy="62.3" r="1.2" fill="#f04018"/><circle cx="142.3" cy="63.2" r="0.9" fill="#a81808"/><circle cx="103.9" cy="67" r="1.3" fill="#d82a0c"/><circle cx="138.4" cy="50.5" r="1.3" fill="#f25a30"/><circle cx="114" cy="49.8" r="1.2" fill="#e83810"/><circle cx="112.6" cy="63.1" r="0.9" fill="#d82a0c"/><circle cx="148.9" cy="60.7" r="1.2" fill="#a81808"/><circle cx="115.6" cy="50.9" r="1.1" fill="#d82a0c"/><circle cx="86.7" cy="42.5" r="0.9" fill="#c82008"/><circle cx="135.6" cy="35.7" r="0.9" fill="#e83810"/><circle cx="108.3" cy="43.5" r="1.1" fill="#f04018"/><circle cx="114.3" cy="36.4" r="0.8" fill="#a81808"/><circle cx="129.2" cy="62.4" r="1.5" fill="#b82010"/><circle cx="98.2" cy="64.1" r="1.6" fill="#d82a0c"/><circle cx="89.2" cy="64.7" r="1.3" fill="#d0a898"/><circle cx="122.3" cy="50.1" r="1.3" fill="#c82008"/><circle cx="107.3" cy="42.5" r="1" fill="#e83810"/><circle cx="101.2" cy="35.5" r="1" fill="#a09a9c"/><circle cx="140.6" cy="64.2" r="1.2" fill="#e83810"/><circle cx="99.5" cy="36.5" r="1.4" fill="#d0a898"/><circle cx="113.1" cy="74.2" r="1.6" fill="#d82a0c"/><circle cx="137.7" cy="39.5" r="1.1" fill="#d82a0c"/><circle cx="141.8" cy="56.9" r="0.8" fill="#e83810"/><circle cx="111.7" cy="68.9" r="1" fill="#b82010"/><circle cx="150.7" cy="66.4" r="0.9" fill="#e83810"/><circle cx="109.6" cy="62.6" r="1.5" fill="#c82008"/><circle cx="106.5" cy="63.1" r="1.4" fill="#c82008"/><circle cx="139.1" cy="52.9" r="0.8" fill="#c82008"/><circle cx="114" cy="36.9" r="1.3" fill="#e83810"/><circle cx="87.5" cy="61.3" r="1.2" fill="#d8c8c4"/><circle cx="120.3" cy="60.3" r="1.7" fill="#d82a0c"/><circle cx="143.4" cy="69.3" r="1.1" fill="#c82008"/><circle cx="127.7" cy="43" r="0.9" fill="#a81808"/><circle cx="113.4" cy="41.7" r="1.3" fill="#d82a0c"/><circle cx="130.3" cy="41.8" r="1.5" fill="#6a4a4a"/><circle cx="136.6" cy="60.8" r="0.9" fill="#b82010"/><circle cx="89.6" cy="42" r="0.9" fill="#d82a0c"/><circle cx="95.7" cy="42.5" r="1.2" fill="#d0a898"/><circle cx="91" cy="49" r="1.5" fill="#a81808"/><circle cx="98.4" cy="53.1" r="1.2" fill="#f25a30"/><circle cx="93.5" cy="40.5" r="1.3" fill="#d0a898"/><circle cx="127.5" cy="62.8" r="1.7" fill="#e83810"/><circle cx="100.2" cy="39.4" r="1.6" fill="#a09a9c"/><circle cx="92.5" cy="31.7" r="0.9" fill="#b82010"/><circle cx="109.6" cy="47.3" r="1.6" fill="#e83810"/><circle cx="121.7" cy="54.4" r="0.8" fill="#f25a30"/><circle cx="132.2" cy="41.6" r="1.2" fill="#d0a898"/><circle cx="88.6" cy="36.6" r="1.6" fill="#a09a9c"/><circle cx="88.5" cy="52.3" r="1.5" fill="#d8c8c4"/><circle cx="127" cy="53.6" r="0.9" fill="#c82008"/><circle cx="138.3" cy="36.9" r="1.1" fill="#c82008"/><circle cx="117.3" cy="37.4" r="1.1" fill="#b82010"/><circle cx="116.1" cy="54.8" r="0.9" fill="#f25a30"/><circle cx="90.7" cy="51.1" r="1.7" fill="#d82a0c"/><circle cx="147.9" cy="42.7" r="1" fill="#d82a0c"/><circle cx="139.2" cy="39.4" r="1.6" fill="#d82a0c"/><circle cx="107.4" cy="37.2" r="1.6" fill="#f25a30"/><circle cx="119.9" cy="34.7" r="1.5" fill="#d8c8c4"/><circle cx="112.6" cy="36.5" r="1.5" fill="#b82010"/><circle cx="91.2" cy="47.6" r="1.2" fill="#d82a0c"/><circle cx="106.6" cy="49.2" r="1.2" fill="#d82a0c"/><circle cx="123.5" cy="50.6" r="1.2" fill="#f04018"/><circle cx="138.7" cy="37.5" r="0.8" fill="#a81808"/><circle cx="105.9" cy="51.1" r="1" fill="#f04018"/><circle cx="134.6" cy="33.3" r="1.2" fill="#f04018"/><circle cx="120.9" cy="33" r="1.2" fill="#f04018"/><circle cx="92.9" cy="56.9" r="1.5" fill="#6a4a4a"/><circle cx="116.7" cy="66.6" r="1.6" fill="#a81808"/><circle cx="140.6" cy="66.8" r="1.6" fill="#a81808"/><circle cx="89.7" cy="62.8" r="1" fill="#d0a898"/><circle cx="123.4" cy="40.9" r="0.9" fill="#f25a30"/><circle cx="114.8" cy="53.1" r="1.1" fill="#e83810"/><circle cx="149.4" cy="58.4" r="1.5" fill="#f25a30"/><circle cx="121.1" cy="33.6" r="1" fill="#d8c8c4"/><circle cx="124.5" cy="56.6" r="0.9" fill="#f25a30"/><circle cx="115.7" cy="49.4" r="1.3" fill="#e83810"/><circle cx="98.4" cy="56.8" r="1.2" fill="#a81808"/><circle cx="115" cy="70.7" r="1.6" fill="#f04018"/><circle cx="101.5" cy="47.5" r="1.4" fill="#6a4a4a"/><circle cx="107" cy="32.7" r="1.6" fill="#f04018"/><circle cx="93" cy="39.2" r="1.3" fill="#d8c8c4"/><circle cx="115.6" cy="49.8" r="1.3" fill="#e83810"/><circle cx="94.9" cy="54.6" r="1.5" fill="#a81808"/><circle cx="95.4" cy="48.4" r="1" fill="#c82008"/><circle cx="123.6" cy="36.3" r="1.5" fill="#b82010"/><circle cx="90.4" cy="57.4" r="0.9" fill="#6a4a4a"/><circle cx="142.5" cy="44.6" r="1.4" fill="#d82a0c"/><circle cx="110.6" cy="73.6" r="1.5" fill="#f04018"/><circle cx="96.3" cy="60.6" r="0.9" fill="#e83810"/><circle cx="86.7" cy="57.7" r="1" fill="#a09a9c"/><circle cx="125.2" cy="40.2" r="1.6" fill="#e83810"/><circle cx="126.7" cy="54.8" r="1.4" fill="#d82a0c"/><circle cx="142.1" cy="67.7" r="1.4" fill="#f04018"/><circle cx="151.3" cy="61.7" r="1.3" fill="#f04018"/><circle cx="125.9" cy="42.6" r="1.1" fill="#d82a0c"/><circle cx="112.5" cy="32.1" r="1.6" fill="#d82a0c"/><circle cx="107.2" cy="35.7" r="1.3" fill="#f04018"/><circle cx="92.5" cy="65" r="1.2" fill="#b8b0b0"/><circle cx="150.5" cy="44.3" r="1.1" fill="#a81808"/><circle cx="107.8" cy="65.9" r="1.6" fill="#f25a30"/><circle cx="105.6" cy="63.6" r="1.4" fill="#a81808"/><circle cx="132.2" cy="55" r="1.1" fill="#f25a30"/><circle cx="135" cy="35" r="1" fill="#c82008"/><circle cx="121.5" cy="72.1" r="1.3" fill="#b82010"/><circle cx="119.9" cy="49.1" r="1.1" fill="#f25a30"/><circle cx="103.5" cy="45.8" r="1.2" fill="#d0a898"/><circle cx="123.3" cy="45.2" r="1" fill="#e83810"/><circle cx="140.5" cy="37.3" r="1.5" fill="#a81808"/><circle cx="118.1" cy="65.2" r="0.9" fill="#e83810"/><circle cx="133.5" cy="66.2" r="1.5" fill="#f04018"/><circle cx="142.6" cy="64.1" r="1.4" fill="#f25a30"/><circle cx="89.1" cy="66.1" r="1.7" fill="#e83810"/><circle cx="108" cy="43" r="1.1" fill="#f25a30"/><circle cx="137" cy="69.6" r="1.3" fill="#f25a30"/><circle cx="131.6" cy="50.8" r="1.5" fill="#f04018"/><circle cx="110.5" cy="44" r="0.9" fill="#f04018"/><circle cx="137.4" cy="63.6" r="0.9" fill="#f25a30"/><circle cx="105.9" cy="46.8" r="1.6" fill="#a09a9c"/><circle cx="113.6" cy="67.6" r="1.1" fill="#d82a0c"/><circle cx="98.8" cy="59.8" r="0.8" fill="#f25a30"/><circle cx="102.5" cy="41.7" r="1.6" fill="#f04018"/><circle cx="121.9" cy="34.8" r="1" fill="#a09a9c"/><circle cx="105.8" cy="34.2" r="1.6" fill="#d82a0c"/><circle cx="143.3" cy="34.5" r="1" fill="#f25a30"/><circle cx="142.4" cy="46.3" r="1.3" fill="#d82a0c"/><circle cx="90.2" cy="60.5" r="1.2" fill="#d82a0c"/><circle cx="140.5" cy="48.9" r="1.3" fill="#a81808"/><circle cx="101.1" cy="44.5" r="1.1" fill="#d8c8c4"/><circle cx="151.2" cy="65" r="1.2" fill="#d82a0c"/><circle cx="89.8" cy="39.4" r="1.2" fill="#b82010"/><circle cx="102" cy="35.5" r="1.1" fill="#d0a898"/><circle cx="86.8" cy="39.7" r="1.1" fill="#f04018"/><circle cx="87.4" cy="50.1" r="1.3" fill="#f04018"/><circle cx="140.7" cy="40.5" r="1.2" fill="#d82a0c"/><circle cx="112.7" cy="65.8" r="1.6" fill="#e83810"/><circle cx="139.3" cy="45.7" r="1" fill="#d82a0c"/><circle cx="115.7" cy="61.7" r="1.7" fill="#f25a30"/><circle cx="105.5" cy="59.9" r="1.7" fill="#b82010"/><circle cx="105.7" cy="44.1" r="1.1" fill="#d82a0c"/><circle cx="144.7" cy="69" r="0.9" fill="#a81808"/><circle cx="123.8" cy="35.7" r="1.5" fill="#b8b0b0"/><circle cx="117.9" cy="45.2" r="1.6" fill="#f04018"/><circle cx="116.5" cy="60.5" r="1.7" fill="#f04018"/><circle cx="133.7" cy="40.5" r="0.9" fill="#a81808"/><circle cx="114.3" cy="40.5" r="0.9" fill="#b82010"/><circle cx="91.3" cy="60.8" r="1" fill="#b82010"/><circle cx="89.6" cy="44.6" r="1.4" fill="#a09a9c"/><circle cx="103.5" cy="34.5" r="1.1" fill="#a81808"/><circle cx="141.8" cy="65.2" r="1" fill="#f25a30"/><circle cx="87.5" cy="33.3" r="1.5" fill="#b82010"/><circle cx="112.7" cy="74.1" r="1.3" fill="#d82a0c"/><circle cx="104.8" cy="71.4" r="1" fill="#d82a0c"/><circle cx="139.6" cy="45.4" r="1.1" fill="#a81808"/><circle cx="149" cy="69.8" r="1.5" fill="#d82a0c"/><circle cx="137" cy="69.8" r="1" fill="#c82008"/><circle cx="104.4" cy="55.4" r="1.5" fill="#f04018"/><circle cx="107.7" cy="56.4" r="1.1" fill="#a81808"/><circle cx="151.3" cy="57.3" r="1.4" fill="#c82008"/><circle cx="101.2" cy="33.2" r="0.9" fill="#d82a0c"/><circle cx="140.2" cy="33.7" r="1.3" fill="#c82008"/><circle cx="122.7" cy="47" r="1.1" fill="#6a4a4a"/><circle cx="87.9" cy="57.6" r="1" fill="#f25a30"/><circle cx="138.2" cy="37" r="1.4" fill="#c82008"/><circle cx="140.6" cy="31.9" r="0.9" fill="#e83810"/><circle cx="120.8" cy="42.7" r="1.5" fill="#a81808"/><circle cx="137.9" cy="62.5" r="1.1" fill="#c82008"/><circle cx="136.8" cy="50.4" r="1.5" fill="#d82a0c"/><circle cx="122.5" cy="54.9" r="1.7" fill="#c82008"/><circle cx="127.2" cy="56.8" r="0.9" fill="#f04018"/><circle cx="142.3" cy="46.6" r="1.2" fill="#b82010"/><circle cx="132.6" cy="59.6" r="1.2" fill="#e83810"/><circle cx="97.4" cy="65.2" r="1.1" fill="#d82a0c"/><circle cx="88.3" cy="41.5" r="1" fill="#c82008"/><circle cx="146" cy="61" r="1.5" fill="#e83810"/><circle cx="110.7" cy="50.3" r="0.9" fill="#b82010"/><circle cx="121.8" cy="62.5" r="0.8" fill="#a81808"/><circle cx="123.5" cy="59.4" r="1.7" fill="#c82008"/><circle cx="125.7" cy="49.3" r="0.9" fill="#d0a898"/><circle cx="128.9" cy="63.6" r="1.2" fill="#d82a0c"/><circle cx="115.5" cy="45.2" r="1.2" fill="#c82008"/><circle cx="125.9" cy="49.2" r="1.4" fill="#f25a30"/><circle cx="147.6" cy="43.1" r="1.7" fill="#a81808"/><circle cx="122.3" cy="53.5" r="1.2" fill="#d82a0c"/><circle cx="151.2" cy="64.2" r="1.3" fill="#d82a0c"/><circle cx="127.3" cy="56.7" r="1.2" fill="#f25a30"/><circle cx="114.2" cy="40.9" r="1.2" fill="#a81808"/><circle cx="101.8" cy="41.4" r="1.7" fill="#d8c8c4"/><circle cx="87.5" cy="34.9" r="1.6" fill="#b82010"/><circle cx="147.2" cy="38.4" r="1.2" fill="#a09a9c"/><circle cx="131.3" cy="57.2" r="1.2" fill="#f25a30"/><circle cx="102.2" cy="56" r="1.4" fill="#f25a30"/><circle cx="113.7" cy="59.6" r="1" fill="#c82008"/><circle cx="104.4" cy="70.2" r="1.4" fill="#f04018"/><circle cx="90.1" cy="53.2" r="1.1" fill="#b8b0b0"/><circle cx="116.3" cy="65" r="1" fill="#c82008"/><circle cx="142.5" cy="38.6" r="1.3" fill="#f04018"/><circle cx="99.3" cy="48.8" r="1.1" fill="#f25a30"/><circle cx="122.8" cy="46.7" r="1.4" fill="#c82008"/><circle cx="93.3" cy="39.9" r="1.4" fill="#a09a9c"/><circle cx="103.1" cy="31.9" r="1.2" fill="#d82a0c"/><circle cx="118.7" cy="57.8" r="1.2" fill="#f04018"/><circle cx="137.1" cy="52.9" r="1.1" fill="#f25a30"/><circle cx="120.9" cy="54.9" r="1" fill="#f25a30"/><circle cx="116.5" cy="69.9" r="0.8" fill="#f25a30"/><circle cx="107.4" cy="65.8" r="1.4" fill="#e83810"/><circle cx="122.6" cy="38.3" r="1.5" fill="#d8c8c4"/><circle cx="114.6" cy="70.7" r="1.5" fill="#f04018"/><circle cx="94.2" cy="46" r="1" fill="#b8b0b0"/><circle cx="123" cy="51.4" r="0.8" fill="#e83810"/><circle cx="90.9" cy="46.8" r="1.5" fill="#b82010"/><circle cx="117" cy="32.6" r="1.3" fill="#a81808"/><circle cx="120.9" cy="43.6" r="1.1" fill="#a09a9c"/><circle cx="138.1" cy="64" r="1.4" fill="#f25a30"/><circle cx="122.7" cy="47.7" r="1.1" fill="#d8c8c4"/><circle cx="126.3" cy="59.7" r="1" fill="#c82008"/><circle cx="145.6" cy="31.8" r="1.2" fill="#6a4a4a"/><circle cx="115.8" cy="59.7" r="1.6" fill="#e83810"/><circle cx="144.8" cy="69.9" r="1.2" fill="#f25a30"/><circle cx="115.8" cy="74.4" r="1" fill="#d82a0c"/><circle cx="104.1" cy="46.7" r="1.1" fill="#f25a30"/><circle cx="87.2" cy="49.8" r="1.3" fill="#f25a30"/><circle cx="138" cy="36.4" r="1.5" fill="#f04018"/><circle cx="104.8" cy="32.7" r="0.9" fill="#c82008"/><circle cx="141.1" cy="43.2" r="1.6" fill="#a81808"/><circle cx="136" cy="46.3" r="1.5" fill="#d82a0c"/><circle cx="95.7" cy="48.3" r="1.4" fill="#d0a898"/><circle cx="117.9" cy="56.4" r="1.3" fill="#f04018"/><circle cx="143.7" cy="43.3" r="1.5" fill="#d82a0c"/><circle cx="110.6" cy="64" r="1.2" fill="#d82a0c"/><circle cx="122.6" cy="48.3" r="1" fill="#f25a30"/><circle cx="99" cy="57.1" r="1.3" fill="#e83810"/><circle cx="134.8" cy="58" r="1.3" fill="#c82008"/><circle cx="129.6" cy="50.3" r="1.5" fill="#d82a0c"/><circle cx="132.9" cy="44.3" r="1" fill="#6a4a4a"/><circle cx="134.4" cy="41.7" r="1.1" fill="#f25a30"/><circle cx="102.6" cy="51.4" r="1.2" fill="#a09a9c"/><circle cx="147.4" cy="58.7" r="1.2" fill="#a81808"/><circle cx="112.7" cy="55.1" r="1.2" fill="#b82010"/><circle cx="138.6" cy="32" r="1.6" fill="#e83810"/><circle cx="127.9" cy="41.1" r="1.4" fill="#c82008"/><circle cx="135.4" cy="47.4" r="1.1" fill="#a81808"/><circle cx="149.2" cy="54.4" r="0.9" fill="#c82008"/><circle cx="127.6" cy="56.3" r="1" fill="#c82008"/><circle cx="105.3" cy="38.9" r="1.4" fill="#f04018"/><circle cx="130.1" cy="64.4" r="2" fill="#dcbcbc"/><circle cx="130.1" cy="64.4" r="1.2" fill="#862428"/><circle cx="127.8" cy="67.7" r="2" fill="#dcbcbc"/><circle cx="127.8" cy="67.7" r="1.2" fill="#862428"/><circle cx="132.5" cy="67.5" r="2" fill="#dcbcbc"/><circle cx="132.5" cy="67.5" r="1.2" fill="#862428"/><circle cx="89.9" cy="71" r="2" fill="#dcbcbc"/><circle cx="89.9" cy="71" r="1.2" fill="#862428"/><circle cx="93.1" cy="71.7" r="2" fill="#dcbcbc"/><circle cx="93.1" cy="71.7" r="1.2" fill="#862428"/><circle cx="97.7" cy="70.3" r="2" fill="#dcbcbc"/><circle cx="97.7" cy="70.3" r="1.2" fill="#862428"/><circle cx="101.4" cy="71.6" r="2" fill="#dcbcbc"/><circle cx="101.4" cy="71.6" r="1.2" fill="#862428"/><circle cx="125.6" cy="70.8" r="2" fill="#dcbcbc"/><circle cx="125.6" cy="70.8" r="1.2" fill="#862428"/><circle cx="129.7" cy="71.7" r="2" fill="#dcbcbc"/><circle cx="129.7" cy="71.7" r="1.2" fill="#862428"/><circle cx="133.7" cy="70.5" r="2" fill="#dcbcbc"/><circle cx="133.7" cy="70.5" r="1.2" fill="#862428"/><circle cx="137.6" cy="70.3" r="2" fill="#dcbcbc"/><circle cx="137.6" cy="70.3" r="1.2" fill="#862428"/><circle cx="145.6" cy="70.9" r="2" fill="#dcbcbc"/><circle cx="145.6" cy="70.9" r="1.2" fill="#862428"/><circle cx="87.8" cy="74.2" r="2" fill="#dcbcbc"/><circle cx="87.8" cy="74.2" r="1.2" fill="#862428"/><circle cx="91.7" cy="74.3" r="2" fill="#dcbcbc"/><circle cx="91.7" cy="74.3" r="1.2" fill="#862428"/><circle cx="96.2" cy="74.7" r="2" fill="#dcbcbc"/><circle cx="96.2" cy="74.7" r="1.2" fill="#862428"/><circle cx="99.4" cy="75.4" r="2" fill="#dcbcbc"/><circle cx="99.4" cy="75.4" r="1.2" fill="#862428"/><circle cx="103.4" cy="74.7" r="2" fill="#dcbcbc"/><circle cx="103.4" cy="74.7" r="1.2" fill="#862428"/><circle cx="108.3" cy="74.1" r="2" fill="#dcbcbc"/><circle cx="108.3" cy="74.1" r="1.2" fill="#862428"/><circle cx="115.3" cy="75.3" r="2" fill="#dcbcbc"/><circle cx="115.3" cy="75.3" r="1.2" fill="#862428"/><circle cx="122.9" cy="74.4" r="2" fill="#dcbcbc"/><circle cx="122.9" cy="74.4" r="1.2" fill="#862428"/><circle cx="128.2" cy="74.8" r="2" fill="#dcbcbc"/><circle cx="128.2" cy="74.8" r="1.2" fill="#862428"/><circle cx="131.1" cy="74.2" r="2" fill="#dcbcbc"/><circle cx="131.1" cy="74.2" r="1.2" fill="#862428"/><circle cx="136" cy="74.9" r="2" fill="#dcbcbc"/><circle cx="136" cy="74.9" r="1.2" fill="#862428"/><circle cx="138.9" cy="74" r="2" fill="#dcbcbc"/><circle cx="138.9" cy="74" r="1.2" fill="#862428"/><circle cx="143.7" cy="74.7" r="2" fill="#dcbcbc"/><circle cx="143.7" cy="74.7" r="1.2" fill="#862428"/><circle cx="147.1" cy="74.1" r="2" fill="#dcbcbc"/><circle cx="147.1" cy="74.1" r="1.2" fill="#862428"/><circle cx="90.3" cy="77.8" r="2" fill="#dcbcbc"/><circle cx="90.3" cy="77.8" r="1.2" fill="#862428"/><circle cx="93.7" cy="78.6" r="2" fill="#dcbcbc"/><circle cx="93.7" cy="78.6" r="1.2" fill="#862428"/><circle cx="98.5" cy="77.8" r="2" fill="#dcbcbc"/><circle cx="98.5" cy="77.8" r="1.2" fill="#862428"/><circle cx="101.9" cy="77.9" r="2" fill="#dcbcbc"/><circle cx="101.9" cy="77.9" r="1.2" fill="#862428"/><circle cx="105.5" cy="78.1" r="2" fill="#dcbcbc"/><circle cx="105.5" cy="78.1" r="1.2" fill="#862428"/><circle cx="110.4" cy="77.3" r="2" fill="#dcbcbc"/><circle cx="110.4" cy="77.3" r="1.2" fill="#862428"/><circle cx="112.9" cy="78.4" r="2" fill="#dcbcbc"/><circle cx="112.9" cy="78.4" r="1.2" fill="#862428"/><circle cx="118.1" cy="78.2" r="2" fill="#dcbcbc"/><circle cx="118.1" cy="78.2" r="1.2" fill="#862428"/><circle cx="122.4" cy="77.5" r="2" fill="#dcbcbc"/><circle cx="122.4" cy="77.5" r="1.2" fill="#862428"/><circle cx="125.7" cy="78.2" r="2" fill="#dcbcbc"/><circle cx="125.7" cy="78.2" r="1.2" fill="#862428"/><circle cx="130.5" cy="78.8" r="2" fill="#dcbcbc"/><circle cx="130.5" cy="78.8" r="1.2" fill="#862428"/><circle cx="134.6" cy="77.3" r="2" fill="#dcbcbc"/><circle cx="134.6" cy="77.3" r="1.2" fill="#862428"/><circle cx="137.3" cy="78.2" r="2" fill="#dcbcbc"/><circle cx="137.3" cy="78.2" r="1.2" fill="#862428"/><circle cx="140.9" cy="77.8" r="2" fill="#dcbcbc"/><circle cx="140.9" cy="77.8" r="1.2" fill="#862428"/><circle cx="146.4" cy="77.4" r="2" fill="#dcbcbc"/><circle cx="146.4" cy="77.4" r="1.2" fill="#862428"/><circle cx="150.5" cy="78.3" r="2" fill="#dcbcbc"/><circle cx="150.5" cy="78.3" r="1.2" fill="#862428"/><circle cx="86.8" cy="80.8" r="2" fill="#dcbcbc"/><circle cx="86.8" cy="80.8" r="1.2" fill="#862428"/><circle cx="91.9" cy="82.5" r="2" fill="#dcbcbc"/><circle cx="91.9" cy="82.5" r="1.2" fill="#862428"/><circle cx="96.1" cy="81.1" r="2" fill="#dcbcbc"/><circle cx="96.1" cy="81.1" r="1.2" fill="#862428"/><circle cx="100.3" cy="82.2" r="2" fill="#dcbcbc"/><circle cx="100.3" cy="82.2" r="1.2" fill="#862428"/><circle cx="104" cy="81.1" r="2" fill="#dcbcbc"/><circle cx="104" cy="81.1" r="1.2" fill="#862428"/><circle cx="108.6" cy="82.4" r="2" fill="#dcbcbc"/><circle cx="108.6" cy="82.4" r="1.2" fill="#862428"/><circle cx="112.3" cy="81.9" r="2" fill="#dcbcbc"/><circle cx="112.3" cy="81.9" r="1.2" fill="#862428"/><circle cx="115.8" cy="80.9" r="2" fill="#dcbcbc"/><circle cx="115.8" cy="80.9" r="1.2" fill="#862428"/><circle cx="119.7" cy="80.9" r="2" fill="#dcbcbc"/><circle cx="119.7" cy="80.9" r="1.2" fill="#862428"/><circle cx="124.6" cy="82.5" r="2" fill="#dcbcbc"/><circle cx="124.6" cy="82.5" r="1.2" fill="#862428"/><circle cx="126.9" cy="81.7" r="2" fill="#dcbcbc"/><circle cx="126.9" cy="81.7" r="1.2" fill="#862428"/><circle cx="132.4" cy="81.7" r="2" fill="#dcbcbc"/><circle cx="132.4" cy="81.7" r="1.2" fill="#862428"/><circle cx="136.3" cy="81.4" r="2" fill="#dcbcbc"/><circle cx="136.3" cy="81.4" r="1.2" fill="#862428"/><circle cx="139.7" cy="81.2" r="2" fill="#dcbcbc"/><circle cx="139.7" cy="81.2" r="1.2" fill="#862428"/><circle cx="142.9" cy="80.8" r="2" fill="#dcbcbc"/><circle cx="142.9" cy="80.8" r="1.2" fill="#862428"/><circle cx="147.7" cy="81.9" r="2" fill="#dcbcbc"/><circle cx="147.7" cy="81.9" r="1.2" fill="#862428"/><circle cx="89.2" cy="84.6" r="2" fill="#dcbcbc"/><circle cx="89.2" cy="84.6" r="1.2" fill="#862428"/><circle cx="94.3" cy="85" r="2" fill="#dcbcbc"/><circle cx="94.3" cy="85" r="1.2" fill="#862428"/><circle cx="98.1" cy="84.6" r="2" fill="#dcbcbc"/><circle cx="98.1" cy="84.6" r="1.2" fill="#862428"/><circle cx="100.8" cy="84.3" r="2" fill="#dcbcbc"/><circle cx="100.8" cy="84.3" r="1.2" fill="#862428"/><circle cx="105.5" cy="84.6" r="2" fill="#dcbcbc"/><circle cx="105.5" cy="84.6" r="1.2" fill="#862428"/><circle cx="110" cy="85.6" r="2" fill="#dcbcbc"/><circle cx="110" cy="85.6" r="1.2" fill="#862428"/><circle cx="114.5" cy="84.2" r="2" fill="#dcbcbc"/><circle cx="114.5" cy="84.2" r="1.2" fill="#862428"/><circle cx="116.8" cy="85.2" r="2" fill="#dcbcbc"/><circle cx="116.8" cy="85.2" r="1.2" fill="#862428"/><circle cx="121.1" cy="85.8" r="2" fill="#dcbcbc"/><circle cx="121.1" cy="85.8" r="1.2" fill="#862428"/><circle cx="124.9" cy="85.9" r="2" fill="#dcbcbc"/><circle cx="124.9" cy="85.9" r="1.2" fill="#862428"/><circle cx="129.4" cy="84.8" r="2" fill="#dcbcbc"/><circle cx="129.4" cy="84.8" r="1.2" fill="#862428"/><circle cx="132.8" cy="85.2" r="2" fill="#dcbcbc"/><circle cx="132.8" cy="85.2" r="1.2" fill="#862428"/><circle cx="136.9" cy="85.3" r="2" fill="#dcbcbc"/><circle cx="136.9" cy="85.3" r="1.2" fill="#862428"/><circle cx="141.3" cy="84.8" r="2" fill="#dcbcbc"/><circle cx="141.3" cy="84.8" r="1.2" fill="#862428"/><circle cx="145" cy="84.4" r="2" fill="#dcbcbc"/><circle cx="145" cy="84.4" r="1.2" fill="#862428"/><circle cx="87.8" cy="89" r="2" fill="#dcbcbc"/><circle cx="87.8" cy="89" r="1.2" fill="#862428"/><circle cx="91.5" cy="87.9" r="2" fill="#dcbcbc"/><circle cx="91.5" cy="87.9" r="1.2" fill="#862428"/><circle cx="95.1" cy="88.8" r="2" fill="#dcbcbc"/><circle cx="95.1" cy="88.8" r="1.2" fill="#862428"/><circle cx="98.9" cy="87.7" r="2" fill="#dcbcbc"/><circle cx="98.9" cy="87.7" r="1.2" fill="#862428"/><circle cx="108" cy="88.2" r="2" fill="#dcbcbc"/><circle cx="108" cy="88.2" r="1.2" fill="#862428"/><circle cx="112.6" cy="88.9" r="2" fill="#dcbcbc"/><circle cx="112.6" cy="88.9" r="1.2" fill="#862428"/><circle cx="116.1" cy="88.6" r="2" fill="#dcbcbc"/><circle cx="116.1" cy="88.6" r="1.2" fill="#862428"/><circle cx="120.4" cy="89" r="2" fill="#dcbcbc"/><circle cx="120.4" cy="89" r="1.2" fill="#862428"/><circle cx="123.9" cy="88.1" r="2" fill="#dcbcbc"/><circle cx="123.9" cy="88.1" r="1.2" fill="#862428"/><circle cx="128.1" cy="89" r="2" fill="#dcbcbc"/><circle cx="128.1" cy="89" r="1.2" fill="#862428"/><circle cx="131.9" cy="89" r="2" fill="#dcbcbc"/><circle cx="131.9" cy="89" r="1.2" fill="#862428"/><circle cx="140.2" cy="89.2" r="2" fill="#dcbcbc"/><circle cx="140.2" cy="89.2" r="1.2" fill="#862428"/><circle cx="143.5" cy="89.4" r="2" fill="#dcbcbc"/><circle cx="143.5" cy="89.4" r="1.2" fill="#862428"/><circle cx="147.7" cy="89.2" r="2" fill="#dcbcbc"/><circle cx="147.7" cy="89.2" r="1.2" fill="#862428"/><circle cx="90.2" cy="92" r="2" fill="#dcbcbc"/><circle cx="90.2" cy="92" r="1.2" fill="#862428"/><circle cx="94" cy="92.1" r="2" fill="#dcbcbc"/><circle cx="94" cy="92.1" r="1.2" fill="#862428"/><circle cx="97.3" cy="93" r="2" fill="#dcbcbc"/><circle cx="97.3" cy="93" r="1.2" fill="#862428"/><circle cx="101.9" cy="91.5" r="2" fill="#dcbcbc"/><circle cx="101.9" cy="91.5" r="1.2" fill="#862428"/><circle cx="106" cy="92.8" r="2" fill="#dcbcbc"/><circle cx="106" cy="92.8" r="1.2" fill="#862428"/><circle cx="109.6" cy="92.8" r="2" fill="#dcbcbc"/><circle cx="109.6" cy="92.8" r="1.2" fill="#862428"/><circle cx="114" cy="91.8" r="2" fill="#dcbcbc"/><circle cx="114" cy="91.8" r="1.2" fill="#862428"/><circle cx="121" cy="91.7" r="2" fill="#dcbcbc"/><circle cx="121" cy="91.7" r="1.2" fill="#862428"/><circle cx="125" cy="91.7" r="2" fill="#dcbcbc"/><circle cx="125" cy="91.7" r="1.2" fill="#862428"/><circle cx="134.2" cy="91.4" r="2" fill="#dcbcbc"/><circle cx="134.2" cy="91.4" r="1.2" fill="#862428"/><circle cx="137.5" cy="92.5" r="2" fill="#dcbcbc"/><circle cx="137.5" cy="92.5" r="1.2" fill="#862428"/><circle cx="141" cy="92.1" r="2" fill="#dcbcbc"/><circle cx="141" cy="92.1" r="1.2" fill="#862428"/><circle cx="144.9" cy="92.3" r="2" fill="#dcbcbc"/><circle cx="144.9" cy="92.3" r="1.2" fill="#862428"/><circle cx="149.9" cy="92.2" r="2" fill="#dcbcbc"/><circle cx="149.9" cy="92.2" r="1.2" fill="#862428"/><circle cx="88.5" cy="95.2" r="2" fill="#dcbcbc"/><circle cx="88.5" cy="95.2" r="1.2" fill="#862428"/><circle cx="92.5" cy="95.9" r="2" fill="#dcbcbc"/><circle cx="92.5" cy="95.9" r="1.2" fill="#862428"/><circle cx="96.2" cy="96.3" r="2" fill="#dcbcbc"/><circle cx="96.2" cy="96.3" r="1.2" fill="#862428"/><circle cx="99" cy="96.2" r="2" fill="#dcbcbc"/><circle cx="99" cy="96.2" r="1.2" fill="#862428"/><circle cx="103.2" cy="95.3" r="2" fill="#dcbcbc"/><circle cx="103.2" cy="95.3" r="1.2" fill="#862428"/><circle cx="107" cy="96.3" r="2" fill="#dcbcbc"/><circle cx="107" cy="96.3" r="1.2" fill="#862428"/><circle cx="110.9" cy="95.2" r="2" fill="#dcbcbc"/><circle cx="110.9" cy="95.2" r="1.2" fill="#862428"/><circle cx="115.1" cy="95.1" r="2" fill="#dcbcbc"/><circle cx="115.1" cy="95.1" r="1.2" fill="#862428"/><circle cx="119.8" cy="95.9" r="2" fill="#dcbcbc"/><circle cx="119.8" cy="95.9" r="1.2" fill="#862428"/><circle cx="124.2" cy="96.1" r="2" fill="#dcbcbc"/><circle cx="124.2" cy="96.1" r="1.2" fill="#862428"/><circle cx="128.1" cy="95.6" r="2" fill="#dcbcbc"/><circle cx="128.1" cy="95.6" r="1.2" fill="#862428"/><circle cx="131.3" cy="94.7" r="2" fill="#dcbcbc"/><circle cx="131.3" cy="94.7" r="1.2" fill="#862428"/><circle cx="136" cy="95.1" r="2" fill="#dcbcbc"/><circle cx="136" cy="95.1" r="1.2" fill="#862428"/><circle cx="139.7" cy="95.1" r="2" fill="#dcbcbc"/><circle cx="139.7" cy="95.1" r="1.2" fill="#862428"/><circle cx="143.5" cy="96" r="2" fill="#dcbcbc"/><circle cx="143.5" cy="96" r="1.2" fill="#862428"/><circle cx="147.5" cy="96.4" r="2" fill="#dcbcbc"/><circle cx="147.5" cy="96.4" r="1.2" fill="#862428"/></g></g><clipPath id="c2"><rect x="156.3" y="31.4" width="64.8" height="66"/></clipPath><g clip-path="url(#c2)"><g filter="url(#soft)"><rect x="156.3" y="31.4" width="64.8" height="66" fill="#948e90"/><path d="M158.9 38.2 L160.9 34.9 L165.5 35.6 L170 36.2 L174.6 36.9 L179.8 39.5 L185.1 41.5 L187.7 46 L186.4 50 L181.1 52.6 L174.6 53.2 L169.4 50.6 L164.2 46.7 L160.2 42.8Z" fill="#ee3a14" stroke="#e09080" stroke-width="1.6" stroke-linejoin="round"/><path d="M201.1 52.6 L205 48.6 L209.6 47.3 L215.5 49.3 L221.1 50.6 L221.1 65 L207.6 65.5 L202.4 61.7 L200.4 57.1Z" fill="#ee3a14" stroke="#e09080" stroke-width="1.6" stroke-linejoin="round"/><path d="M184.5 83 L188 80.5 L193 81.5 L198 84 L199.5 89 L198 95 L192 97.4 L186 96.5 L184 91Z" fill="#ee3a14" stroke="#e09080" stroke-width="1.6" stroke-linejoin="round"/><circle cx="218.4" cy="40.7" r="1" fill="#b05050"/><circle cx="221" cy="43.6" r="1" fill="#bdb6b6"/><circle cx="171.3" cy="94.7" r="1" fill="#bdb6b6"/><circle cx="195.3" cy="92.9" r="1.4" fill="#c82808"/><circle cx="176.4" cy="43.9" r="1.3" fill="#f24a1c"/><circle cx="173" cy="94.5" r="1" fill="#bdb6b6"/><circle cx="168.3" cy="34.6" r="1.1" fill="#c4a4a4"/><circle cx="158.4" cy="92.5" r="1.1" fill="#c4a4a4"/><circle cx="215.7" cy="51.7" r="1.2" fill="#ff5a28"/><circle cx="157.9" cy="69.4" r="1.1" fill="#c4a4a4"/><circle cx="190.5" cy="81.4" r="1.2" fill="#e84018"/><circle cx="162.2" cy="60.7" r="1" fill="#b05050"/><circle cx="169.1" cy="47.2" r="0.9" fill="#f24a1c"/><circle cx="214.3" cy="42.7" r="1.1" fill="#c4a4a4"/><circle cx="178.9" cy="53.1" r="0.9" fill="#66606a"/><circle cx="168.7" cy="33.8" r="1.1" fill="#c4a4a4"/><circle cx="207.9" cy="74.1" r="1" fill="#bdb6b6"/><circle cx="201.2" cy="34.8" r="0.9" fill="#66606a"/><circle cx="210" cy="92.2" r="1.2" fill="#e04a30"/><circle cx="220.5" cy="80.5" r="1.1" fill="#c4a4a4"/><circle cx="203.4" cy="73.9" r="0.9" fill="#66606a"/><circle cx="217.4" cy="32.6" r="1.1" fill="#c4a4a4"/><circle cx="197.4" cy="53.9" r="1" fill="#bdb6b6"/><circle cx="201.1" cy="60.1" r="1" fill="#bdb6b6"/><circle cx="159" cy="95.2" r="0.9" fill="#66606a"/><circle cx="164" cy="45.7" r="1.2" fill="#ff5a28"/><circle cx="193.9" cy="72.2" r="0.9" fill="#66606a"/><circle cx="163.9" cy="91.3" r="1.1" fill="#c4a4a4"/><circle cx="168" cy="47.1" r="0.8" fill="#e84018"/><circle cx="169.5" cy="63.7" r="0.9" fill="#66606a"/><circle cx="204.9" cy="78.8" r="1.1" fill="#c4a4a4"/><circle cx="172.4" cy="46.6" r="1.6" fill="#ff5a28"/><circle cx="216.6" cy="68.8" r="1" fill="#bdb6b6"/><circle cx="218.6" cy="52.4" r="1.2" fill="#f24a1c"/><circle cx="195.4" cy="34.2" r="1.1" fill="#c4a4a4"/><circle cx="158.2" cy="82" r="1" fill="#b05050"/><circle cx="171.4" cy="66.7" r="1.2" fill="#d87060"/><circle cx="201.8" cy="71.6" r="1" fill="#bdb6b6"/><circle cx="173.3" cy="48.5" r="0.9" fill="#e84018"/><circle cx="210.6" cy="65.1" r="1.5" fill="#c82808"/><circle cx="219.4" cy="44" r="0.9" fill="#66606a"/><circle cx="212.9" cy="81.7" r="0.9" fill="#66606a"/><circle cx="198.8" cy="44.3" r="1" fill="#bdb6b6"/><circle cx="159.6" cy="56.5" r="1" fill="#bdb6b6"/><circle cx="189.8" cy="95.4" r="1" fill="#d82e0a"/><circle cx="179.8" cy="94.3" r="1" fill="#b05050"/><circle cx="177.1" cy="82" r="1" fill="#bdb6b6"/><circle cx="173" cy="51.4" r="1.6" fill="#ff5a28"/><circle cx="198.6" cy="52.6" r="1" fill="#bdb6b6"/><circle cx="175.6" cy="33" r="1" fill="#bdb6b6"/><circle cx="163" cy="60.8" r="0.9" fill="#66606a"/><circle cx="167.7" cy="62.9" r="0.9" fill="#66606a"/><circle cx="179.2" cy="85.1" r="1" fill="#bdb6b6"/><circle cx="191.4" cy="89.3" r="1.6" fill="#ff5a28"/><circle cx="186.4" cy="49.9" r="1" fill="#e84018"/><circle cx="164.6" cy="47.2" r="1" fill="#bdb6b6"/><circle cx="209.5" cy="38.9" r="1.1" fill="#c4a4a4"/><circle cx="208.2" cy="64.7" r="1.4" fill="#f24a1c"/><circle cx="169.7" cy="40.1" r="1.6" fill="#e84018"/><circle cx="184.4" cy="67" r="0.9" fill="#66606a"/><circle cx="186" cy="87.7" r="1.1" fill="#c82808"/><circle cx="174.8" cy="32.1" r="1" fill="#b05050"/><circle cx="194.2" cy="51.4" r="1" fill="#bdb6b6"/><circle cx="200.9" cy="93" r="0.9" fill="#66606a"/><circle cx="182.1" cy="68.2" r="1" fill="#bdb6b6"/><circle cx="182.6" cy="92" r="1.1" fill="#c4a4a4"/><circle cx="209.6" cy="48.7" r="1.5" fill="#d82e0a"/><circle cx="193.4" cy="71.1" r="1" fill="#bdb6b6"/><circle cx="171.1" cy="58.8" r="1" fill="#bdb6b6"/><circle cx="176.3" cy="82.7" r="1" fill="#bdb6b6"/><circle cx="200.4" cy="78.5" r="1" fill="#bdb6b6"/><circle cx="173.2" cy="32" r="0.9" fill="#66606a"/><circle cx="189.2" cy="42" r="1" fill="#bdb6b6"/><circle cx="180.3" cy="62.8" r="1" fill="#bdb6b6"/><circle cx="161.7" cy="64.5" r="1.2" fill="#d87060"/><circle cx="197.6" cy="71.9" r="0.9" fill="#66606a"/><circle cx="219.1" cy="48.8" r="1.1" fill="#c4a4a4"/><circle cx="177.6" cy="57.7" r="1" fill="#b05050"/><circle cx="158.2" cy="54.5" r="1" fill="#b05050"/><circle cx="185" cy="85.2" r="1.2" fill="#f24a1c"/><circle cx="211.7" cy="57.1" r="0.9" fill="#ff5a28"/><circle cx="192.7" cy="91" r="1.7" fill="#ff5a28"/><circle cx="163.4" cy="62" r="1" fill="#bdb6b6"/><circle cx="182.5" cy="43.4" r="0.9" fill="#d82e0a"/><circle cx="157.6" cy="38.9" r="1" fill="#bdb6b6"/><circle cx="180.1" cy="36.8" r="1.1" fill="#c4a4a4"/><circle cx="170.7" cy="43.9" r="0.9" fill="#c82808"/><circle cx="215.8" cy="61.8" r="1.6" fill="#e84018"/><circle cx="187.3" cy="33.1" r="1" fill="#bdb6b6"/><circle cx="163.9" cy="54.5" r="1" fill="#bdb6b6"/><circle cx="171.1" cy="54.6" r="0.9" fill="#66606a"/><circle cx="166" cy="74.8" r="1" fill="#bdb6b6"/><circle cx="214" cy="63.2" r="0.9" fill="#c82808"/><circle cx="212.5" cy="40.4" r="1" fill="#bdb6b6"/><circle cx="164.9" cy="52.5" r="1" fill="#bdb6b6"/><circle cx="194.1" cy="86.5" r="0.9" fill="#ff5a28"/><circle cx="183.4" cy="82.1" r="1" fill="#b05050"/><circle cx="187.8" cy="62" r="1.1" fill="#c4a4a4"/><circle cx="165.1" cy="65.3" r="1" fill="#bdb6b6"/><circle cx="177.1" cy="34.4" r="1" fill="#bdb6b6"/><circle cx="159.9" cy="67.1" r="1.2" fill="#b83020"/><circle cx="174.1" cy="52.6" r="1.3" fill="#f24a1c"/><circle cx="193.9" cy="33" r="1" fill="#bdb6b6"/><circle cx="208.2" cy="56.3" r="1.1" fill="#f24a1c"/><circle cx="189.7" cy="64.5" r="0.9" fill="#66606a"/><circle cx="217.7" cy="71.5" r="0.9" fill="#66606a"/><circle cx="170" cy="71.1" r="1" fill="#bdb6b6"/><circle cx="209.5" cy="56.8" r="1.6" fill="#ff5a28"/><circle cx="203.1" cy="94.8" r="0.9" fill="#66606a"/><circle cx="213.5" cy="55.6" r="1.1" fill="#f24a1c"/><circle cx="178.7" cy="52.1" r="1.2" fill="#ff5a28"/><circle cx="171.5" cy="59.8" r="1" fill="#b05050"/><circle cx="180.6" cy="85.3" r="1.1" fill="#c4a4a4"/><circle cx="190.3" cy="82.8" r="1.5" fill="#f24a1c"/><circle cx="218.2" cy="38.9" r="1" fill="#bdb6b6"/><circle cx="174.3" cy="40.8" r="1.3" fill="#e84018"/><circle cx="184.8" cy="51.5" r="0.9" fill="#66606a"/><circle cx="211.5" cy="94.7" r="0.9" fill="#66606a"/><circle cx="172" cy="62.8" r="1.1" fill="#c4a4a4"/><circle cx="164.3" cy="63.3" r="1" fill="#bdb6b6"/><circle cx="203.4" cy="54.3" r="1.2" fill="#f24a1c"/><circle cx="217.7" cy="83.1" r="1" fill="#b05050"/><circle cx="172.4" cy="54.3" r="1" fill="#bdb6b6"/><circle cx="181" cy="96.4" r="0.9" fill="#66606a"/><circle cx="159.7" cy="48.8" r="0.9" fill="#66606a"/><circle cx="158" cy="81.3" r="0.9" fill="#66606a"/><circle cx="193.3" cy="84.5" r="0.9" fill="#e84018"/><circle cx="189.4" cy="88.3" r="0.8" fill="#ff5a28"/><circle cx="181.6" cy="43.9" r="1.5" fill="#f24a1c"/><circle cx="169" cy="65.5" r="1.1" fill="#c4a4a4"/><circle cx="203.1" cy="46.6" r="1.1" fill="#c4a4a4"/><circle cx="174.7" cy="43.6" r="1.1" fill="#c82808"/><circle cx="159.5" cy="58.4" r="0.9" fill="#66606a"/><circle cx="172.4" cy="92.4" r="1" fill="#b05050"/><circle cx="174.9" cy="36.5" r="1" fill="#bdb6b6"/><circle cx="221.1" cy="54.4" r="1.3" fill="#ff5a28"/><circle cx="207.2" cy="60.8" r="1.1" fill="#d82e0a"/><circle cx="166.6" cy="89.2" r="1" fill="#b05050"/><circle cx="193.6" cy="93" r="1.3" fill="#e84018"/><circle cx="172.9" cy="81.2" r="1.2" fill="#d87060"/><circle cx="194.1" cy="60.4" r="1.1" fill="#c4a4a4"/><circle cx="210.7" cy="53.5" r="1.5" fill="#d82e0a"/><circle cx="172.8" cy="34.1" r="1" fill="#bdb6b6"/><circle cx="159.2" cy="89.2" r="1.1" fill="#c4a4a4"/><circle cx="213.6" cy="79.8" r="1.2" fill="#d87060"/><circle cx="205.6" cy="73.4" r="1" fill="#bdb6b6"/><circle cx="190" cy="73.1" r="1" fill="#bdb6b6"/><circle cx="214.6" cy="63.5" r="0.9" fill="#c82808"/><circle cx="183.9" cy="72.1" r="1.2" fill="#e04a30"/><circle cx="177" cy="39.5" r="1.6" fill="#c82808"/><circle cx="182.4" cy="66.9" r="1" fill="#bdb6b6"/><circle cx="206.7" cy="77.1" r="0.9" fill="#66606a"/><circle cx="195.7" cy="92.9" r="1.2" fill="#ff5a28"/><circle cx="210.3" cy="38.2" r="1" fill="#b05050"/><circle cx="200.9" cy="52.9" r="0.9" fill="#66606a"/><circle cx="185.3" cy="50.5" r="1.4" fill="#e84018"/><circle cx="172.3" cy="93.2" r="1" fill="#bdb6b6"/><circle cx="210.1" cy="53.1" r="1.4" fill="#d82e0a"/><circle cx="207.7" cy="34.3" r="0.9" fill="#66606a"/><circle cx="198.1" cy="64.9" r="1.1" fill="#c4a4a4"/><circle cx="174.6" cy="58.7" r="1.1" fill="#c4a4a4"/><circle cx="212.6" cy="87" r="1" fill="#bdb6b6"/><circle cx="188.9" cy="81" r="1.3" fill="#e84018"/><circle cx="164.4" cy="78.7" r="0.9" fill="#66606a"/><circle cx="174.4" cy="38" r="1.7" fill="#e84018"/><circle cx="164.8" cy="68.6" r="1" fill="#bdb6b6"/><circle cx="157.4" cy="93" r="1" fill="#b05050"/><circle cx="169.6" cy="70.6" r="0.9" fill="#66606a"/><circle cx="160.5" cy="85.5" r="1" fill="#bdb6b6"/><circle cx="216.7" cy="88.4" r="1.1" fill="#c4a4a4"/><circle cx="171.7" cy="92.2" r="1.1" fill="#c4a4a4"/><circle cx="208.8" cy="80.6" r="0.9" fill="#66606a"/><circle cx="187.1" cy="38.1" r="1.1" fill="#c4a4a4"/><circle cx="162.3" cy="69.1" r="1" fill="#b05050"/><circle cx="158.3" cy="52" r="1" fill="#b05050"/><circle cx="179.6" cy="72.5" r="1" fill="#bdb6b6"/><circle cx="193.6" cy="97" r="1" fill="#b05050"/><circle cx="190.4" cy="65" r="0.9" fill="#66606a"/><circle cx="170.3" cy="42" r="0.8" fill="#f24a1c"/><circle cx="173.7" cy="46.9" r="1" fill="#f24a1c"/><circle cx="181.9" cy="51" r="1.6" fill="#f24a1c"/><circle cx="187.7" cy="56.2" r="1" fill="#bdb6b6"/><circle cx="216" cy="32" r="1" fill="#bdb6b6"/><circle cx="180.2" cy="81" r="1" fill="#bdb6b6"/><circle cx="174" cy="41.6" r="1.5" fill="#d82e0a"/><circle cx="203" cy="41.8" r="1" fill="#bdb6b6"/><circle cx="192.7" cy="70.9" r="0.9" fill="#66606a"/><circle cx="196.4" cy="41.2" r="1.1" fill="#c4a4a4"/><circle cx="190.9" cy="86.3" r="0.8" fill="#f24a1c"/><circle cx="167.2" cy="77.5" r="1.2" fill="#e04a30"/><circle cx="167.6" cy="64.8" r="1.1" fill="#c4a4a4"/><circle cx="187.9" cy="81.8" r="1" fill="#ff5a28"/><circle cx="201.6" cy="82.3" r="1" fill="#bdb6b6"/><circle cx="161.5" cy="39" r="0.8" fill="#ff5a28"/><circle cx="188.6" cy="36.4" r="0.9" fill="#66606a"/><circle cx="190" cy="80.2" r="0.9" fill="#66606a"/><circle cx="216.9" cy="39" r="0.9" fill="#66606a"/><circle cx="176.1" cy="68.3" r="1" fill="#bdb6b6"/><circle cx="158.1" cy="50.1" r="1" fill="#bdb6b6"/><circle cx="202.6" cy="82.3" r="1" fill="#b05050"/><circle cx="207" cy="89.5" r="1.2" fill="#b83020"/><circle cx="179.7" cy="42.8" r="1.1" fill="#ff5a28"/><circle cx="215.3" cy="72.8" r="1.2" fill="#d87060"/><circle cx="177.3" cy="50.1" r="1.3" fill="#f24a1c"/><circle cx="182.5" cy="97.4" r="0.9" fill="#66606a"/><circle cx="208.1" cy="58.5" r="1.2" fill="#d82e0a"/><circle cx="214.1" cy="59.9" r="1.7" fill="#f24a1c"/><circle cx="174.1" cy="60.3" r="0.9" fill="#66606a"/><circle cx="201.9" cy="89.5" r="1" fill="#bdb6b6"/><circle cx="162.5" cy="49.4" r="0.9" fill="#66606a"/><circle cx="199.9" cy="43.9" r="1" fill="#bdb6b6"/><circle cx="167.9" cy="47.8" r="1.6" fill="#f24a1c"/><circle cx="167.4" cy="53.1" r="1" fill="#bdb6b6"/><circle cx="175.2" cy="70" r="1.2" fill="#b83020"/><circle cx="205.8" cy="47" r="1.1" fill="#c4a4a4"/><circle cx="206.1" cy="50.6" r="0.8" fill="#d82e0a"/><circle cx="167.1" cy="83.6" r="1.2" fill="#d87060"/><circle cx="191.4" cy="40.4" r="1" fill="#bdb6b6"/><circle cx="218.3" cy="70.7" r="1" fill="#bdb6b6"/><circle cx="179.4" cy="40.2" r="1.4" fill="#d82e0a"/><circle cx="215" cy="39.4" r="0.9" fill="#66606a"/><circle cx="183.6" cy="49.1" r="1.6" fill="#ff5a28"/><circle cx="160.5" cy="41.9" r="1.3" fill="#ff5a28"/><circle cx="185.7" cy="43.1" r="1.2" fill="#e84018"/><circle cx="168.6" cy="51.6" r="0.9" fill="#66606a"/><circle cx="193" cy="56.3" r="1" fill="#bdb6b6"/><circle cx="212.3" cy="90.5" r="1.2" fill="#b83020"/><circle cx="192" cy="62.7" r="1" fill="#b05050"/><circle cx="204.8" cy="72.7" r="1.1" fill="#c4a4a4"/><circle cx="157.6" cy="92.6" r="0.9" fill="#66606a"/><circle cx="212.1" cy="87.8" r="1.1" fill="#c4a4a4"/><circle cx="202.5" cy="79.2" r="1" fill="#bdb6b6"/><circle cx="172.9" cy="75.4" r="1" fill="#bdb6b6"/><circle cx="183.2" cy="76.9" r="1" fill="#bdb6b6"/><circle cx="200.7" cy="32.8" r="0.9" fill="#66606a"/><circle cx="182.9" cy="69.7" r="1" fill="#bdb6b6"/><circle cx="168.1" cy="90.4" r="1" fill="#bdb6b6"/><circle cx="181" cy="71.7" r="1" fill="#bdb6b6"/><circle cx="213" cy="88.3" r="0.9" fill="#66606a"/><circle cx="192.4" cy="69.1" r="0.9" fill="#66606a"/><circle cx="216" cy="42.4" r="1" fill="#bdb6b6"/><circle cx="197.6" cy="38.1" r="1" fill="#bdb6b6"/><circle cx="189" cy="32.9" r="1" fill="#bdb6b6"/><circle cx="186.6" cy="75.8" r="0.9" fill="#66606a"/><circle cx="156.8" cy="93.7" r="1" fill="#bdb6b6"/><circle cx="158.1" cy="35" r="1.1" fill="#c4a4a4"/><circle cx="163.9" cy="72.7" r="1.1" fill="#c4a4a4"/><circle cx="211" cy="46.7" r="1.1" fill="#c4a4a4"/><circle cx="180.4" cy="77.3" r="1" fill="#bdb6b6"/><circle cx="185.6" cy="34.4" r="0.9" fill="#66606a"/><circle cx="168.4" cy="35.8" r="1" fill="#b05050"/><circle cx="194.9" cy="66.3" r="0.9" fill="#66606a"/><circle cx="167.6" cy="32.5" r="0.9" fill="#66606a"/><circle cx="221.1" cy="41.5" r="0.9" fill="#66606a"/><circle cx="186.1" cy="74.4" r="1.2" fill="#e04a30"/><circle cx="177.5" cy="92.5" r="1.1" fill="#c4a4a4"/><circle cx="184.4" cy="60.7" r="1.1" fill="#c4a4a4"/><circle cx="183.1" cy="79" r="1" fill="#bdb6b6"/><circle cx="203.6" cy="68" r="0.9" fill="#66606a"/><circle cx="199.1" cy="92.4" r="1" fill="#b05050"/><circle cx="181.3" cy="50.1" r="1.4" fill="#c82808"/><circle cx="156.5" cy="90.6" r="0.9" fill="#66606a"/><circle cx="165.3" cy="37.9" r="1.2" fill="#f24a1c"/><circle cx="170.1" cy="87.7" r="1" fill="#b05050"/><circle cx="163.3" cy="90.9" r="1" fill="#b05050"/><circle cx="200.3" cy="72.6" r="0.9" fill="#66606a"/><circle cx="216.6" cy="49.6" r="1.1" fill="#ff5a28"/><circle cx="196.4" cy="50.8" r="1" fill="#b05050"/><circle cx="202.2" cy="44.2" r="1" fill="#bdb6b6"/><circle cx="169.8" cy="85.3" r="1.2" fill="#d87060"/><circle cx="217.5" cy="89.6" r="0.9" fill="#66606a"/><circle cx="175.9" cy="50.3" r="1.2" fill="#ff5a28"/><circle cx="188.1" cy="42.1" r="1" fill="#bdb6b6"/><circle cx="163.6" cy="44" r="1.1" fill="#d82e0a"/><circle cx="175.3" cy="50.2" r="0.9" fill="#d82e0a"/><circle cx="204.6" cy="86.9" r="1.1" fill="#c4a4a4"/><circle cx="211.6" cy="93.3" r="1.2" fill="#d87060"/><circle cx="191.5" cy="90.5" r="1.2" fill="#e84018"/><circle cx="204.1" cy="81.2" r="1" fill="#b05050"/><circle cx="160" cy="43.3" r="1" fill="#bdb6b6"/><circle cx="160.3" cy="43.8" r="1" fill="#bdb6b6"/><circle cx="182.1" cy="54.8" r="1.1" fill="#c4a4a4"/><circle cx="159.4" cy="73.5" r="1" fill="#bdb6b6"/><circle cx="165.4" cy="70.6" r="1" fill="#b05050"/><circle cx="193.8" cy="41.9" r="1.2" fill="#d87060"/><circle cx="164.3" cy="48.1" r="1" fill="#bdb6b6"/><circle cx="209.3" cy="56.5" r="1.1" fill="#d82e0a"/><circle cx="193.8" cy="68.1" r="0.9" fill="#66606a"/><circle cx="196.8" cy="93.4" r="1.3" fill="#c82808"/><circle cx="167.1" cy="75.8" r="1.1" fill="#c4a4a4"/><circle cx="176.5" cy="40.7" r="1" fill="#f24a1c"/><circle cx="183.2" cy="81.4" r="0.9" fill="#66606a"/><circle cx="192.8" cy="33.1" r="1" fill="#bdb6b6"/><circle cx="200" cy="37" r="1" fill="#b05050"/><circle cx="207.4" cy="51.2" r="1.1" fill="#e84018"/><circle cx="193" cy="34.8" r="1.1" fill="#c4a4a4"/><circle cx="157.3" cy="62.2" r="1" fill="#bdb6b6"/><circle cx="167.7" cy="43.1" r="1.2" fill="#ff5a28"/><circle cx="157.3" cy="88.6" r="1" fill="#b05050"/><circle cx="173.5" cy="97.2" r="0.9" fill="#66606a"/><circle cx="195.7" cy="94.3" r="1.1" fill="#e84018"/><circle cx="214.4" cy="90.3" r="1" fill="#b05050"/><circle cx="189.5" cy="88.7" r="1.1" fill="#c82808"/><circle cx="213.2" cy="76.4" r="1.2" fill="#e04a30"/><circle cx="196.3" cy="41.2" r="1" fill="#bdb6b6"/><circle cx="156.5" cy="52.4" r="1" fill="#bdb6b6"/><circle cx="194.9" cy="37.8" r="1.2" fill="#b83020"/><circle cx="168.9" cy="82.2" r="1.2" fill="#d87060"/><circle cx="219.4" cy="92" r="1" fill="#bdb6b6"/><circle cx="187.3" cy="93.8" r="1.4" fill="#e84018"/><circle cx="190.8" cy="87" r="1.2" fill="#c82808"/><circle cx="193.1" cy="83.8" r="1.3" fill="#f24a1c"/><circle cx="194.9" cy="56.3" r="1" fill="#b05050"/><circle cx="157.8" cy="63.6" r="1" fill="#bdb6b6"/><circle cx="167.3" cy="89.3" r="0.9" fill="#66606a"/><circle cx="169.9" cy="80.5" r="1.2" fill="#b83020"/><circle cx="164.6" cy="50.3" r="1" fill="#bdb6b6"/><circle cx="219.8" cy="82.8" r="1.1" fill="#c4a4a4"/><circle cx="209.5" cy="41.1" r="0.9" fill="#66606a"/><circle cx="176.1" cy="88.7" r="1" fill="#bdb6b6"/><circle cx="167" cy="86.3" r="1" fill="#bdb6b6"/><circle cx="217.3" cy="64.9" r="1.3" fill="#d82e0a"/><circle cx="167.5" cy="91.6" r="1" fill="#b05050"/><circle cx="204.9" cy="95.8" r="1" fill="#bdb6b6"/><circle cx="185.2" cy="32.7" r="1.1" fill="#c4a4a4"/><circle cx="159.8" cy="63.9" r="1" fill="#bdb6b6"/><circle cx="168.6" cy="75.5" r="1" fill="#bdb6b6"/><circle cx="166.2" cy="50.4" r="0.9" fill="#66606a"/><circle cx="200" cy="69.8" r="1.1" fill="#c4a4a4"/><circle cx="160.4" cy="37.6" r="1" fill="#e84018"/><circle cx="166.2" cy="42.9" r="0.9" fill="#f24a1c"/><circle cx="183.9" cy="35.5" r="0.9" fill="#66606a"/><circle cx="175.8" cy="65.2" r="1" fill="#bdb6b6"/><circle cx="217.9" cy="33.8" r="0.9" fill="#66606a"/><circle cx="183.5" cy="87.4" r="1" fill="#bdb6b6"/><circle cx="210.9" cy="43.4" r="1" fill="#bdb6b6"/><circle cx="190.6" cy="80.4" r="1.1" fill="#c4a4a4"/><circle cx="163.3" cy="33.6" r="1" fill="#bdb6b6"/><circle cx="174.6" cy="74.4" r="1" fill="#bdb6b6"/><circle cx="215.3" cy="74.2" r="1.2" fill="#b83020"/><circle cx="198.7" cy="55.4" r="1" fill="#bdb6b6"/><circle cx="209" cy="74.1" r="1" fill="#bdb6b6"/><circle cx="192.3" cy="88.9" r="1" fill="#d82e0a"/><circle cx="221" cy="63.2" r="1.1" fill="#d82e0a"/><circle cx="165.1" cy="46.7" r="0.9" fill="#c82808"/><circle cx="158.2" cy="73.4" r="1" fill="#b05050"/><circle cx="207.3" cy="80.7" r="1.1" fill="#c4a4a4"/><circle cx="187.7" cy="60.5" r="1" fill="#bdb6b6"/><circle cx="173.2" cy="67.8" r="1.2" fill="#e04a30"/><circle cx="196.8" cy="93.9" r="1.5" fill="#ff5a28"/><circle cx="167.9" cy="54.4" r="1" fill="#bdb6b6"/><circle cx="171.8" cy="35.5" r="1" fill="#b05050"/><circle cx="184.1" cy="62.1" r="1.1" fill="#c4a4a4"/><circle cx="212.5" cy="71.6" r="1" fill="#b05050"/><circle cx="182" cy="34.1" r="1" fill="#b05050"/><circle cx="158.6" cy="38.5" r="0.9" fill="#66606a"/><circle cx="214.4" cy="45.5" r="0.9" fill="#66606a"/><circle cx="198.5" cy="62.6" r="0.9" fill="#66606a"/><circle cx="175.2" cy="68.7" r="1.2" fill="#d87060"/><circle cx="217.4" cy="79" r="1.2" fill="#b83020"/><circle cx="160" cy="71.3" r="1" fill="#bdb6b6"/><circle cx="176.3" cy="45.1" r="1" fill="#c82808"/><circle cx="209.4" cy="65" r="1.6" fill="#d82e0a"/><circle cx="187.7" cy="92.1" r="0.9" fill="#c82808"/><circle cx="203.9" cy="69.8" r="1.1" fill="#c4a4a4"/><circle cx="208" cy="94.6" r="1.2" fill="#b83020"/><circle cx="207.2" cy="54.3" r="0.9" fill="#e84018"/><circle cx="204.9" cy="62.4" r="0.9" fill="#e84018"/><circle cx="161.6" cy="51.5" r="1" fill="#bdb6b6"/><circle cx="171.4" cy="77.3" r="1.2" fill="#d87060"/><circle cx="181.4" cy="40.7" r="1" fill="#d82e0a"/><circle cx="193" cy="76.1" r="1" fill="#bdb6b6"/><circle cx="158.7" cy="88.9" r="1" fill="#b05050"/><circle cx="168.6" cy="40.1" r="1.4" fill="#ff5a28"/><circle cx="169.9" cy="86.1" r="1" fill="#bdb6b6"/><circle cx="173.4" cy="76.9" r="0.9" fill="#66606a"/><circle cx="193.8" cy="77.1" r="1" fill="#b05050"/><circle cx="206.9" cy="60.3" r="1" fill="#c82808"/><circle cx="217.9" cy="88.5" r="0.9" fill="#66606a"/><circle cx="195.1" cy="70.9" r="1" fill="#bdb6b6"/><circle cx="170.3" cy="41.2" r="0.9" fill="#d82e0a"/><circle cx="181.6" cy="52.1" r="1.1" fill="#f24a1c"/><circle cx="175.7" cy="44.5" r="1" fill="#c82808"/><circle cx="212.7" cy="64.3" r="1.3" fill="#c82808"/><circle cx="178.1" cy="70.9" r="0.9" fill="#66606a"/><circle cx="191.6" cy="81.4" r="1.4" fill="#e84018"/><circle cx="192.1" cy="96.6" r="1.2" fill="#e84018"/><circle cx="164.4" cy="54.1" r="0.9" fill="#66606a"/><circle cx="197.9" cy="69.3" r="1" fill="#bdb6b6"/><circle cx="171.3" cy="82.5" r="1.2" fill="#d87060"/><circle cx="163.5" cy="33.5" r="1" fill="#bdb6b6"/><circle cx="171.3" cy="41" r="1" fill="#e84018"/><circle cx="195.2" cy="77.3" r="1" fill="#b05050"/><circle cx="185.6" cy="57.1" r="1" fill="#bdb6b6"/><circle cx="165.1" cy="80.6" r="1" fill="#bdb6b6"/><circle cx="182.1" cy="32.1" r="1.1" fill="#c4a4a4"/><circle cx="199.2" cy="49" r="0.9" fill="#66606a"/><circle cx="204.7" cy="69.8" r="1" fill="#bdb6b6"/><circle cx="208.7" cy="61.5" r="1" fill="#ff5a28"/><circle cx="167.1" cy="68.3" r="1" fill="#bdb6b6"/><circle cx="186.3" cy="33.9" r="0.9" fill="#66606a"/><circle cx="167.3" cy="45.3" r="1.4" fill="#ff5a28"/><circle cx="188.6" cy="91" r="1.4" fill="#c82808"/><circle cx="189.8" cy="82.8" r="1.3" fill="#ff5a28"/><circle cx="175.1" cy="35.5" r="0.9" fill="#66606a"/><circle cx="173.5" cy="61.1" r="0.9" fill="#66606a"/><circle cx="217.9" cy="32.8" r="1" fill="#bdb6b6"/><circle cx="220.9" cy="54.5" r="1.5" fill="#e84018"/><circle cx="183.1" cy="93.1" r="0.9" fill="#66606a"/><circle cx="179.4" cy="96.8" r="0.9" fill="#66606a"/><circle cx="190" cy="88.2" r="1.2" fill="#d82e0a"/><circle cx="159.5" cy="54.5" r="1.1" fill="#c4a4a4"/><circle cx="181" cy="61.1" r="1" fill="#bdb6b6"/><circle cx="180.3" cy="85.8" r="1" fill="#b05050"/><circle cx="197.9" cy="49.7" r="1" fill="#bdb6b6"/><circle cx="188.8" cy="69.3" r="1" fill="#bdb6b6"/><circle cx="180" cy="33.6" r="1" fill="#bdb6b6"/><circle cx="212.1" cy="75.2" r="1.2" fill="#d87060"/><circle cx="207.9" cy="50.9" r="1.2" fill="#c82808"/><circle cx="172.8" cy="67.5" r="1.2" fill="#b83020"/><circle cx="174" cy="73" r="1" fill="#bdb6b6"/><circle cx="214" cy="93.1" r="1" fill="#bdb6b6"/><circle cx="175.6" cy="44.2" r="1" fill="#d82e0a"/><circle cx="164.5" cy="38.6" r="0.9" fill="#c82808"/><circle cx="212.5" cy="52.9" r="1.1" fill="#ff5a28"/><circle cx="164.9" cy="81.5" r="0.9" fill="#66606a"/><circle cx="192.5" cy="46.7" r="1" fill="#bdb6b6"/><circle cx="170.3" cy="37.1" r="1.4" fill="#f24a1c"/><circle cx="169.6" cy="32.4" r="1.1" fill="#c4a4a4"/><circle cx="159.4" cy="60.5" r="0.9" fill="#66606a"/><circle cx="162.1" cy="56.5" r="1" fill="#bdb6b6"/><circle cx="171.8" cy="43.8" r="0.9" fill="#e84018"/><circle cx="216.4" cy="35.9" r="1.1" fill="#c4a4a4"/><circle cx="159" cy="70.6" r="1.1" fill="#c4a4a4"/><circle cx="184.3" cy="83.6" r="0.9" fill="#66606a"/><circle cx="163.5" cy="46.9" r="0.9" fill="#66606a"/><circle cx="204" cy="93.3" r="1" fill="#bdb6b6"/><circle cx="178.9" cy="47.3" r="0.9" fill="#ff5a28"/><circle cx="170.9" cy="33" r="1.1" fill="#c4a4a4"/><circle cx="164.3" cy="53.7" r="1" fill="#bdb6b6"/><circle cx="185.2" cy="52" r="0.9" fill="#66606a"/><circle cx="203.7" cy="59.3" r="0.9" fill="#d82e0a"/><circle cx="175.4" cy="33.4" r="1" fill="#b05050"/><circle cx="156.4" cy="58.2" r="0.9" fill="#66606a"/><circle cx="194.5" cy="36.4" r="1" fill="#bdb6b6"/><circle cx="190.2" cy="38.4" r="1.1" fill="#c4a4a4"/><circle cx="207.4" cy="42.8" r="1.1" fill="#c4a4a4"/><circle cx="158.4" cy="43.2" r="0.9" fill="#66606a"/><circle cx="192.7" cy="91.8" r="1" fill="#d82e0a"/><circle cx="195.6" cy="39.9" r="1.2" fill="#b83020"/><circle cx="180.1" cy="75.6" r="1.1" fill="#c4a4a4"/><circle cx="192.3" cy="86.9" r="1.3" fill="#ff5a28"/><circle cx="212.7" cy="59.7" r="1.2" fill="#ff5a28"/><circle cx="203.6" cy="62.2" r="1.1" fill="#f24a1c"/><circle cx="159.3" cy="44.1" r="0.9" fill="#66606a"/><circle cx="184.2" cy="62.5" r="1" fill="#bdb6b6"/><circle cx="177.8" cy="67.5" r="1" fill="#bdb6b6"/><circle cx="210.6" cy="89.6" r="1.2" fill="#b83020"/><circle cx="221" cy="50.9" r="1.5" fill="#c82808"/><circle cx="161.4" cy="56.8" r="1" fill="#bdb6b6"/><circle cx="170.1" cy="46.1" r="0.9" fill="#c82808"/><circle cx="169.7" cy="52.4" r="1" fill="#bdb6b6"/><circle cx="194.3" cy="45.6" r="1" fill="#bdb6b6"/><circle cx="214.4" cy="63.3" r="0.9" fill="#f24a1c"/><circle cx="195.9" cy="95.3" r="1.5" fill="#e84018"/><circle cx="183" cy="44.7" r="0.9" fill="#c82808"/><circle cx="183.9" cy="44.7" r="1.5" fill="#c82808"/><circle cx="211.6" cy="49.8" r="1.2" fill="#f24a1c"/><circle cx="220.4" cy="54.8" r="1.5" fill="#e84018"/><circle cx="202.7" cy="45.2" r="1.1" fill="#c4a4a4"/><circle cx="187.9" cy="37.2" r="1" fill="#b05050"/><circle cx="194" cy="87.3" r="0.9" fill="#e84018"/><circle cx="169" cy="53.3" r="1.1" fill="#c4a4a4"/><circle cx="206.3" cy="57.4" r="1" fill="#f24a1c"/><circle cx="181.2" cy="62.8" r="1.1" fill="#c4a4a4"/><circle cx="219" cy="68.2" r="1" fill="#b05050"/><circle cx="193" cy="94.4" r="1.4" fill="#c82808"/><circle cx="180.2" cy="74.1" r="1" fill="#b05050"/><circle cx="207.7" cy="83.4" r="1" fill="#bdb6b6"/><circle cx="211" cy="77.3" r="1.2" fill="#b83020"/><circle cx="158.9" cy="58" r="1" fill="#bdb6b6"/><circle cx="168.9" cy="67.3" r="1.1" fill="#c4a4a4"/><circle cx="193.5" cy="81.9" r="1.6" fill="#d82e0a"/><circle cx="163.3" cy="42.1" r="1.5" fill="#f24a1c"/><circle cx="167.4" cy="80.1" r="1.2" fill="#b83020"/><circle cx="195.9" cy="76.6" r="1" fill="#bdb6b6"/><circle cx="173.4" cy="57" r="1.1" fill="#c4a4a4"/><circle cx="209.8" cy="63.4" r="1.3" fill="#e84018"/><circle cx="213.6" cy="79" r="1.2" fill="#e04a30"/><circle cx="170.2" cy="35.1" r="1.1" fill="#c4a4a4"/><circle cx="178.7" cy="41.5" r="0.9" fill="#ff5a28"/><circle cx="218.2" cy="68.3" r="0.9" fill="#66606a"/><circle cx="185.3" cy="44.2" r="0.8" fill="#d82e0a"/><circle cx="217.2" cy="51" r="1.3" fill="#d82e0a"/><circle cx="177.5" cy="81.5" r="0.9" fill="#66606a"/><circle cx="215.6" cy="66" r="1" fill="#bdb6b6"/><circle cx="172.8" cy="61.6" r="1" fill="#b05050"/><circle cx="178.5" cy="43.3" r="1.6" fill="#c82808"/><circle cx="165.5" cy="79.4" r="1" fill="#bdb6b6"/><circle cx="189.8" cy="56.1" r="1" fill="#b05050"/><circle cx="208.5" cy="70.1" r="1" fill="#bdb6b6"/><circle cx="194.7" cy="89" r="1.2" fill="#f24a1c"/><circle cx="218" cy="91.2" r="1" fill="#bdb6b6"/><circle cx="185.3" cy="77.3" r="1" fill="#bdb6b6"/><circle cx="198" cy="65.2" r="1" fill="#b05050"/><circle cx="158.5" cy="33.6" r="0.9" fill="#66606a"/><circle cx="187" cy="94.8" r="1" fill="#d82e0a"/><circle cx="219.1" cy="45" r="1" fill="#bdb6b6"/><circle cx="197.2" cy="73.9" r="1.1" fill="#c4a4a4"/><circle cx="179.7" cy="75.4" r="1" fill="#bdb6b6"/><circle cx="169.9" cy="95.4" r="0.9" fill="#66606a"/><circle cx="185.5" cy="72.1" r="1.2" fill="#e04a30"/><circle cx="193.3" cy="70.9" r="1" fill="#b05050"/><circle cx="179.2" cy="52.6" r="1.4" fill="#d82e0a"/><circle cx="201.1" cy="93.3" r="1.1" fill="#c4a4a4"/><circle cx="199.5" cy="84.5" r="1" fill="#bdb6b6"/><circle cx="169.7" cy="79" r="1.2" fill="#b83020"/><circle cx="167.1" cy="37.6" r="1.7" fill="#e84018"/><circle cx="169" cy="94.9" r="1" fill="#bdb6b6"/><circle cx="209.3" cy="47.6" r="0.9" fill="#c82808"/><circle cx="173.7" cy="33.1" r="1" fill="#bdb6b6"/><circle cx="216.6" cy="48" r="1" fill="#bdb6b6"/><circle cx="201.9" cy="87.9" r="1" fill="#bdb6b6"/><circle cx="176.4" cy="67.3" r="1.1" fill="#c4a4a4"/><circle cx="182.9" cy="56.8" r="1" fill="#b05050"/><circle cx="179" cy="74.3" r="0.9" fill="#66606a"/><circle cx="202.3" cy="81.8" r="1.1" fill="#c4a4a4"/><circle cx="163.1" cy="69.3" r="1" fill="#bdb6b6"/><circle cx="210.6" cy="84.6" r="1" fill="#bdb6b6"/><circle cx="172.5" cy="31.9" r="0.9" fill="#66606a"/><circle cx="175.4" cy="87.3" r="1" fill="#b05050"/><circle cx="197.8" cy="77.2" r="0.9" fill="#66606a"/><circle cx="208.1" cy="37" r="1" fill="#b05050"/><circle cx="210.6" cy="61.5" r="1.6" fill="#ff5a28"/><circle cx="199.1" cy="97" r="1" fill="#bdb6b6"/><circle cx="207" cy="71.8" r="0.9" fill="#66606a"/><circle cx="189.4" cy="83.9" r="1.3" fill="#e84018"/><circle cx="159.6" cy="75" r="0.9" fill="#66606a"/><circle cx="181.9" cy="84.3" r="1" fill="#b05050"/><circle cx="213.4" cy="95" r="1" fill="#b05050"/><circle cx="177.4" cy="41.1" r="1.4" fill="#c82808"/><circle cx="202.9" cy="85.8" r="1" fill="#bdb6b6"/><circle cx="201.2" cy="91.3" r="0.9" fill="#66606a"/><circle cx="186.9" cy="95.3" r="1.7" fill="#d82e0a"/><circle cx="191.5" cy="33.7" r="1" fill="#b05050"/><circle cx="217.7" cy="92.6" r="1" fill="#b05050"/><circle cx="198.1" cy="85.1" r="0.8" fill="#f24a1c"/><circle cx="177.8" cy="49.9" r="1" fill="#f24a1c"/><circle cx="203.6" cy="45.6" r="1" fill="#bdb6b6"/><circle cx="180.2" cy="60.3" r="1" fill="#bdb6b6"/><circle cx="201.7" cy="54.8" r="1.1" fill="#e84018"/><circle cx="181.2" cy="41.8" r="0.9" fill="#f24a1c"/><circle cx="180.4" cy="52.5" r="1.4" fill="#e84018"/><circle cx="203.8" cy="48.5" r="0.9" fill="#66606a"/><circle cx="189.8" cy="64.9" r="1.1" fill="#c4a4a4"/><circle cx="211.6" cy="44.4" r="1" fill="#bdb6b6"/><circle cx="175.1" cy="96.8" r="1" fill="#bdb6b6"/><circle cx="185.1" cy="52.7" r="1" fill="#bdb6b6"/><circle cx="172" cy="56.6" r="1" fill="#bdb6b6"/><circle cx="169.7" cy="80.1" r="1.2" fill="#e04a30"/><circle cx="178.6" cy="33.7" r="1" fill="#bdb6b6"/><circle cx="184.1" cy="53.8" r="0.9" fill="#66606a"/><circle cx="202.3" cy="84.4" r="0.9" fill="#66606a"/><circle cx="215.1" cy="78.6" r="1.2" fill="#d87060"/><circle cx="196.9" cy="36.9" r="1.1" fill="#c4a4a4"/><circle cx="217.7" cy="69.5" r="1" fill="#bdb6b6"/><circle cx="208.1" cy="95.5" r="1" fill="#bdb6b6"/><circle cx="220.9" cy="97.3" r="1" fill="#bdb6b6"/><circle cx="207.6" cy="52.3" r="0.9" fill="#c82808"/><circle cx="218.3" cy="53" r="1.2" fill="#d82e0a"/><circle cx="166.7" cy="72.1" r="1.1" fill="#c4a4a4"/><circle cx="200.1" cy="32.1" r="0.9" fill="#66606a"/><circle cx="217.6" cy="66.2" r="1" fill="#bdb6b6"/><circle cx="172.3" cy="52.9" r="1.1" fill="#c4a4a4"/><circle cx="174.8" cy="65.7" r="1" fill="#bdb6b6"/><circle cx="162.3" cy="35.8" r="1.4" fill="#c82808"/><circle cx="181.1" cy="74.3" r="1" fill="#bdb6b6"/><circle cx="159.8" cy="78.9" r="1" fill="#b05050"/><circle cx="186.5" cy="90.4" r="1.7" fill="#f24a1c"/><circle cx="206.2" cy="48.2" r="0.9" fill="#66606a"/><circle cx="178.4" cy="69.5" r="1" fill="#b05050"/><circle cx="205.5" cy="60.3" r="0.9" fill="#f24a1c"/><circle cx="181.2" cy="75.1" r="1" fill="#b05050"/><circle cx="172.4" cy="42.1" r="1.6" fill="#c82808"/><circle cx="196.9" cy="97.3" r="1" fill="#bdb6b6"/><circle cx="157.8" cy="51.6" r="0.9" fill="#66606a"/><circle cx="211.4" cy="50.4" r="1.3" fill="#e84018"/><circle cx="168.1" cy="60.4" r="0.9" fill="#66606a"/><circle cx="163.1" cy="87.1" r="0.9" fill="#66606a"/><circle cx="169.1" cy="46.5" r="1.3" fill="#e84018"/><circle cx="209.9" cy="74.6" r="0.9" fill="#66606a"/><circle cx="215" cy="83.5" r="0.9" fill="#66606a"/><circle cx="219.9" cy="62.1" r="1" fill="#c82808"/><circle cx="167.3" cy="79.1" r="1.2" fill="#d87060"/><circle cx="182" cy="80.7" r="1" fill="#bdb6b6"/><circle cx="157.2" cy="97.2" r="1" fill="#bdb6b6"/><circle cx="193.2" cy="56.5" r="1" fill="#bdb6b6"/><circle cx="162.4" cy="74" r="1.1" fill="#c4a4a4"/><circle cx="192.1" cy="62.4" r="1.1" fill="#c4a4a4"/><circle cx="210.2" cy="45.9" r="1" fill="#bdb6b6"/><circle cx="159.3" cy="54.8" r="1" fill="#b05050"/><circle cx="174.4" cy="46.7" r="1.6" fill="#ff5a28"/><circle cx="177.9" cy="45.8" r="1.3" fill="#ff5a28"/><circle cx="166.2" cy="43.7" r="1.6" fill="#e84018"/><circle cx="180.8" cy="95.4" r="1" fill="#bdb6b6"/><circle cx="192.2" cy="81.6" r="1" fill="#c82808"/><circle cx="185.5" cy="66" r="1" fill="#b05050"/><circle cx="158.9" cy="44.3" r="1" fill="#bdb6b6"/><circle cx="187.4" cy="87" r="1.6" fill="#f24a1c"/><circle cx="192.6" cy="50.8" r="1.1" fill="#c4a4a4"/><circle cx="211" cy="71.2" r="1" fill="#b05050"/><circle cx="213" cy="50.8" r="1.5" fill="#c82808"/><circle cx="199.4" cy="39.9" r="1.1" fill="#c4a4a4"/><circle cx="185.8" cy="83.4" r="1.5" fill="#e84018"/><circle cx="190.1" cy="65.4" r="1" fill="#bdb6b6"/><circle cx="186.1" cy="34.2" r="1.1" fill="#c4a4a4"/><circle cx="162.9" cy="71.4" r="1" fill="#bdb6b6"/><circle cx="174" cy="52.2" r="1" fill="#e84018"/><circle cx="202.7" cy="73.2" r="0.9" fill="#66606a"/><circle cx="205.6" cy="92.3" r="0.9" fill="#66606a"/><circle cx="171.3" cy="97.1" r="1.1" fill="#c4a4a4"/><circle cx="186.4" cy="83.5" r="0.8" fill="#f24a1c"/><circle cx="187.6" cy="50.3" r="1" fill="#bdb6b6"/><circle cx="168.8" cy="63.5" r="1" fill="#b05050"/><circle cx="214.6" cy="48.6" r="1" fill="#bdb6b6"/><circle cx="212.7" cy="84" r="1" fill="#bdb6b6"/><circle cx="165.3" cy="92.9" r="1.1" fill="#c4a4a4"/><circle cx="208.1" cy="50.9" r="0.8" fill="#f24a1c"/><circle cx="188.7" cy="88.8" r="1.7" fill="#e84018"/><circle cx="211.4" cy="75.9" r="1.2" fill="#e04a30"/><circle cx="162.4" cy="94.3" r="0.9" fill="#66606a"/><circle cx="189.1" cy="89" r="1.5" fill="#ff5a28"/><circle cx="174.1" cy="70.7" r="1.2" fill="#d87060"/><circle cx="203.5" cy="94.4" r="0.9" fill="#66606a"/><circle cx="191.4" cy="85.6" r="0.9" fill="#ff5a28"/><circle cx="209.9" cy="85.8" r="1.1" fill="#c4a4a4"/><circle cx="157.5" cy="90.4" r="1" fill="#bdb6b6"/><circle cx="172.9" cy="46.3" r="0.8" fill="#e84018"/><circle cx="210.6" cy="71.3" r="1" fill="#b05050"/><circle cx="174.9" cy="55.9" r="1" fill="#bdb6b6"/><circle cx="189.4" cy="67.7" r="1" fill="#bdb6b6"/><circle cx="157.1" cy="70.1" r="1.1" fill="#c4a4a4"/><circle cx="216.6" cy="54.7" r="0.9" fill="#c82808"/><circle cx="169.4" cy="74.9" r="0.9" fill="#66606a"/><circle cx="217.3" cy="38.6" r="1" fill="#b05050"/><circle cx="186.5" cy="38.2" r="1" fill="#bdb6b6"/><circle cx="209" cy="50.1" r="0.8" fill="#e84018"/><circle cx="173.2" cy="86.4" r="0.9" fill="#66606a"/><circle cx="193.8" cy="90.5" r="1.2" fill="#ff5a28"/><circle cx="187" cy="51.3" r="1" fill="#b05050"/><circle cx="202.4" cy="67.3" r="1" fill="#bdb6b6"/><circle cx="212.8" cy="83.2" r="1" fill="#b05050"/><circle cx="191.1" cy="87.9" r="1.7" fill="#d82e0a"/><circle cx="183.1" cy="62.4" r="1" fill="#b05050"/><circle cx="179.3" cy="45.9" r="0.9" fill="#f24a1c"/><circle cx="157.4" cy="42.5" r="1" fill="#bdb6b6"/><circle cx="197.2" cy="40" r="1.1" fill="#c4a4a4"/><circle cx="215.4" cy="36.2" r="1" fill="#b05050"/><circle cx="199.7" cy="95.1" r="1" fill="#bdb6b6"/><circle cx="191.5" cy="71.8" r="1" fill="#b05050"/><circle cx="163.8" cy="85.2" r="0.9" fill="#66606a"/><circle cx="210.7" cy="64.3" r="1.2" fill="#d82e0a"/><circle cx="192" cy="84.6" r="1.5" fill="#c82808"/><circle cx="163.6" cy="87" r="1" fill="#bdb6b6"/><circle cx="187.8" cy="92.6" r="1.4" fill="#f24a1c"/><circle cx="194.6" cy="77.9" r="1" fill="#bdb6b6"/><circle cx="172.2" cy="44.5" r="1" fill="#e84018"/><circle cx="165.1" cy="80.5" r="0.9" fill="#66606a"/><circle cx="188" cy="36.2" r="1" fill="#b05050"/><circle cx="217.1" cy="44.6" r="1" fill="#bdb6b6"/><circle cx="175.6" cy="43.5" r="1.4" fill="#c82808"/><circle cx="199.6" cy="43.2" r="1.1" fill="#c4a4a4"/><circle cx="216.9" cy="37.1" r="1" fill="#bdb6b6"/><circle cx="165.8" cy="31.6" r="0.9" fill="#66606a"/><circle cx="169.3" cy="70.3" r="1.1" fill="#c4a4a4"/><circle cx="191.8" cy="76.3" r="1" fill="#bdb6b6"/><circle cx="198.1" cy="59" r="1" fill="#bdb6b6"/><circle cx="198" cy="85.5" r="0.9" fill="#d82e0a"/><circle cx="213.6" cy="39.7" r="1" fill="#bdb6b6"/><circle cx="196.9" cy="46.4" r="1.1" fill="#c4a4a4"/><circle cx="191.5" cy="73.6" r="1" fill="#b05050"/><circle cx="190.4" cy="91.8" r="1.1" fill="#e84018"/><circle cx="218.7" cy="92.3" r="0.9" fill="#66606a"/><circle cx="185.9" cy="41.9" r="0.9" fill="#66606a"/><circle cx="181.8" cy="60.2" r="1" fill="#bdb6b6"/><circle cx="214.6" cy="50.3" r="1.2" fill="#d82e0a"/><circle cx="198.6" cy="59.2" r="1" fill="#bdb6b6"/><circle cx="214.5" cy="85.3" r="0.9" fill="#66606a"/><circle cx="210.9" cy="81.1" r="1.1" fill="#c4a4a4"/><circle cx="218.2" cy="42.8" r="0.9" fill="#66606a"/><circle cx="168.4" cy="74.2" r="1" fill="#b05050"/><circle cx="162.5" cy="66.5" r="1.2" fill="#b83020"/><circle cx="186" cy="93.4" r="1.2" fill="#ff5a28"/><circle cx="206.4" cy="36.7" r="1.1" fill="#c4a4a4"/><circle cx="219.4" cy="75.1" r="1.1" fill="#c4a4a4"/><circle cx="212.6" cy="59.4" r="0.9" fill="#d82e0a"/><circle cx="202.1" cy="75.3" r="1" fill="#bdb6b6"/><circle cx="214.8" cy="73.9" r="1.2" fill="#d87060"/><circle cx="190.8" cy="84.8" r="1.4" fill="#f24a1c"/><circle cx="204.7" cy="84.6" r="0.9" fill="#66606a"/><circle cx="164.8" cy="85.1" r="1" fill="#bdb6b6"/><circle cx="192.5" cy="38.9" r="1.2" fill="#d87060"/><circle cx="209.3" cy="33.7" r="1.1" fill="#c4a4a4"/><circle cx="196.2" cy="73.6" r="1" fill="#bdb6b6"/><circle cx="182.7" cy="53.9" r="1.1" fill="#c4a4a4"/><circle cx="215" cy="85.5" r="1.1" fill="#c4a4a4"/><circle cx="180.8" cy="40.7" r="1.3" fill="#e84018"/><circle cx="199.3" cy="94.3" r="1.1" fill="#c4a4a4"/><circle cx="212.8" cy="32.3" r="1" fill="#bdb6b6"/><circle cx="171.9" cy="45.2" r="1.4" fill="#f24a1c"/><circle cx="208" cy="64.4" r="1.5" fill="#c82808"/><circle cx="191.5" cy="91.7" r="1.4" fill="#d82e0a"/><circle cx="201.8" cy="57.4" r="1.3" fill="#d82e0a"/><circle cx="178.3" cy="33.6" r="1" fill="#bdb6b6"/><circle cx="190.7" cy="92.8" r="1.4" fill="#d82e0a"/><circle cx="190.7" cy="34.8" r="1.1" fill="#c4a4a4"/><circle cx="184.3" cy="94.9" r="1.1" fill="#c4a4a4"/><circle cx="182.8" cy="55.7" r="1" fill="#bdb6b6"/><circle cx="167.2" cy="73.3" r="1" fill="#bdb6b6"/><circle cx="211.8" cy="56.1" r="1.2" fill="#e84018"/><circle cx="191.5" cy="84.7" r="1.5" fill="#c82808"/><circle cx="195.8" cy="39.3" r="1.2" fill="#b83020"/><circle cx="192.9" cy="68.8" r="1" fill="#bdb6b6"/><circle cx="167.1" cy="54.3" r="0.9" fill="#66606a"/><circle cx="191.2" cy="57.7" r="1" fill="#bdb6b6"/><circle cx="215.5" cy="72" r="1" fill="#b05050"/><circle cx="208.8" cy="69.6" r="1" fill="#bdb6b6"/><circle cx="189.2" cy="83.7" r="1.1" fill="#c82808"/><circle cx="195.8" cy="81.5" r="1" fill="#b05050"/><circle cx="175.1" cy="40" r="1.2" fill="#d82e0a"/><circle cx="182.6" cy="41.5" r="0.9" fill="#ff5a28"/><circle cx="213.6" cy="95.8" r="0.9" fill="#66606a"/><circle cx="162.9" cy="77.6" r="1.1" fill="#c4a4a4"/><circle cx="170.4" cy="84.3" r="1.2" fill="#e04a30"/><circle cx="178.3" cy="47.9" r="1" fill="#ff5a28"/><circle cx="174.1" cy="74.2" r="1" fill="#b05050"/><circle cx="165.2" cy="64.2" r="1" fill="#bdb6b6"/><circle cx="189.6" cy="80.9" r="1.3" fill="#d82e0a"/><circle cx="208.6" cy="56.9" r="1.3" fill="#d82e0a"/><circle cx="184.2" cy="40" r="1.1" fill="#c4a4a4"/><circle cx="205.7" cy="45.3" r="0.9" fill="#66606a"/><circle cx="173.8" cy="55.8" r="1" fill="#bdb6b6"/><circle cx="165.3" cy="57.8" r="1" fill="#bdb6b6"/><circle cx="183.5" cy="47.4" r="1.5" fill="#c82808"/><circle cx="175.8" cy="33.8" r="1" fill="#bdb6b6"/><circle cx="161.7" cy="33.1" r="0.9" fill="#66606a"/><circle cx="172.3" cy="38.6" r="1.4" fill="#c82808"/><circle cx="172.2" cy="52.3" r="1" fill="#bdb6b6"/><circle cx="173.8" cy="46.3" r="1.6" fill="#d82e0a"/><circle cx="206.7" cy="86.6" r="1.1" fill="#c4a4a4"/><circle cx="218" cy="90.2" r="1" fill="#bdb6b6"/><circle cx="205" cy="56" r="1" fill="#e84018"/><circle cx="194.6" cy="64.4" r="1" fill="#bdb6b6"/><circle cx="159.2" cy="48.7" r="1" fill="#bdb6b6"/><circle cx="201.8" cy="50.1" r="0.9" fill="#66606a"/><circle cx="213.9" cy="33" r="0.9" fill="#66606a"/><circle cx="211.2" cy="94.3" r="1" fill="#bdb6b6"/><circle cx="202.6" cy="54" r="1.3" fill="#d82e0a"/><circle cx="174.9" cy="72.6" r="1.1" fill="#c4a4a4"/><circle cx="193" cy="77.8" r="1" fill="#b05050"/><circle cx="215.3" cy="50.5" r="1" fill="#d82e0a"/><circle cx="218.1" cy="63.9" r="1.6" fill="#c82808"/><circle cx="159.5" cy="61.3" r="1.1" fill="#c4a4a4"/><circle cx="170.2" cy="89.7" r="1" fill="#bdb6b6"/><circle cx="213.1" cy="54.8" r="1.4" fill="#f24a1c"/><circle cx="173.7" cy="59.3" r="1" fill="#bdb6b6"/><circle cx="208.4" cy="39" r="0.9" fill="#66606a"/><circle cx="195.9" cy="39.5" r="1.2" fill="#b83020"/><circle cx="166.2" cy="63.9" r="1" fill="#b05050"/><circle cx="213" cy="66.7" r="0.9" fill="#66606a"/><circle cx="204" cy="69.7" r="1" fill="#b05050"/><circle cx="187.2" cy="81.8" r="1.5" fill="#d82e0a"/><circle cx="203.8" cy="57.5" r="1.6" fill="#d82e0a"/><circle cx="203.4" cy="51.4" r="1.3" fill="#f24a1c"/><circle cx="209.7" cy="35.1" r="1" fill="#bdb6b6"/><circle cx="192.3" cy="91.1" r="1" fill="#d82e0a"/><circle cx="173.7" cy="34.8" r="1" fill="#bdb6b6"/><circle cx="213.6" cy="68.9" r="1" fill="#bdb6b6"/><circle cx="174.7" cy="93.8" r="1" fill="#bdb6b6"/><circle cx="202.5" cy="64.6" r="0.9" fill="#66606a"/><circle cx="171" cy="90.3" r="1.1" fill="#c4a4a4"/><circle cx="209.1" cy="84.9" r="1" fill="#bdb6b6"/><circle cx="174.9" cy="52.1" r="1.7" fill="#c82808"/><circle cx="213.3" cy="66.8" r="0.9" fill="#66606a"/><circle cx="204.4" cy="67.8" r="0.9" fill="#66606a"/><circle cx="162.6" cy="79.4" r="1" fill="#bdb6b6"/><circle cx="172.6" cy="66.7" r="1.2" fill="#b83020"/><circle cx="205.5" cy="39.8" r="1" fill="#bdb6b6"/><circle cx="172.1" cy="37.2" r="1.4" fill="#ff5a28"/><circle cx="198.9" cy="63.6" r="1" fill="#bdb6b6"/><circle cx="168.6" cy="46.7" r="1.7" fill="#f24a1c"/><circle cx="171.2" cy="51.1" r="1.3" fill="#e84018"/><circle cx="200" cy="80.2" r="0.9" fill="#66606a"/><circle cx="218.7" cy="72.5" r="1" fill="#bdb6b6"/><circle cx="209.8" cy="57.7" r="1.2" fill="#c82808"/><circle cx="178.3" cy="55.1" r="0.9" fill="#66606a"/><circle cx="214.2" cy="72.7" r="1.2" fill="#b83020"/><circle cx="193.2" cy="72.7" r="1.1" fill="#c4a4a4"/><circle cx="161.8" cy="68.1" r="1.2" fill="#b83020"/><circle cx="184.7" cy="45.8" r="1.1" fill="#d82e0a"/><circle cx="181.5" cy="42.5" r="1.2" fill="#d82e0a"/><circle cx="210.9" cy="93.5" r="1.2" fill="#d87060"/><circle cx="162.8" cy="84.1" r="0.9" fill="#66606a"/><circle cx="157.4" cy="68.4" r="0.9" fill="#66606a"/><circle cx="168.3" cy="53.7" r="1" fill="#bdb6b6"/><circle cx="169.8" cy="86.8" r="1.1" fill="#c4a4a4"/><circle cx="168" cy="69.4" r="1" fill="#bdb6b6"/><circle cx="162.6" cy="80.2" r="0.9" fill="#66606a"/><circle cx="186.8" cy="89.6" r="0.9" fill="#d82e0a"/><circle cx="214.1" cy="46.5" r="0.9" fill="#66606a"/><circle cx="207.7" cy="44.8" r="1" fill="#bdb6b6"/><circle cx="214.1" cy="75.3" r="1.2" fill="#d87060"/><circle cx="177.4" cy="53.2" r="1" fill="#b05050"/><circle cx="164.3" cy="51.2" r="1.1" fill="#c4a4a4"/><circle cx="176.2" cy="48.6" r="0.9" fill="#c82808"/><circle cx="158.2" cy="96.1" r="1" fill="#b05050"/><circle cx="169.2" cy="55.1" r="1" fill="#bdb6b6"/><circle cx="208.7" cy="36.8" r="1" fill="#bdb6b6"/><circle cx="181.7" cy="86" r="1" fill="#bdb6b6"/><circle cx="213.4" cy="47.2" r="1" fill="#bdb6b6"/><circle cx="208.2" cy="63.1" r="1.4" fill="#e84018"/><circle cx="193.8" cy="69.8" r="0.9" fill="#66606a"/><circle cx="170.9" cy="68.7" r="1.2" fill="#e04a30"/><circle cx="178.3" cy="80.9" r="1" fill="#b05050"/><circle cx="181.7" cy="63.6" r="0.9" fill="#66606a"/><circle cx="219.7" cy="36.3" r="1.1" fill="#c4a4a4"/><circle cx="220.2" cy="50.2" r="0.9" fill="#66606a"/><circle cx="203.8" cy="79" r="1.1" fill="#c4a4a4"/><circle cx="156.7" cy="92.7" r="0.9" fill="#66606a"/><circle cx="177.1" cy="45.5" r="0.9" fill="#f24a1c"/><circle cx="216.7" cy="35.2" r="1" fill="#bdb6b6"/><circle cx="177.2" cy="51.5" r="1.4" fill="#f24a1c"/><circle cx="164" cy="43.2" r="1.7" fill="#f24a1c"/><circle cx="187.3" cy="41.9" r="0.9" fill="#66606a"/><circle cx="156.7" cy="42.1" r="1" fill="#b05050"/><circle cx="196.2" cy="93.8" r="1.6" fill="#e84018"/><circle cx="181.8" cy="60.5" r="1.1" fill="#c4a4a4"/><circle cx="167.9" cy="45.4" r="1.1" fill="#d82e0a"/><circle cx="218.6" cy="63" r="1.4" fill="#e84018"/><circle cx="170.6" cy="88.9" r="0.9" fill="#66606a"/><circle cx="171.1" cy="61.6" r="1" fill="#bdb6b6"/><circle cx="159.5" cy="93.8" r="1" fill="#bdb6b6"/><circle cx="175.4" cy="37.5" r="0.8" fill="#d82e0a"/><circle cx="170.8" cy="37.1" r="1" fill="#e84018"/><circle cx="205.2" cy="84" r="1" fill="#b05050"/><circle cx="207.3" cy="46.9" r="1" fill="#bdb6b6"/><circle cx="207" cy="90.4" r="1.2" fill="#b83020"/><circle cx="187.4" cy="44.6" r="1" fill="#bdb6b6"/><circle cx="191.2" cy="80.9" r="1" fill="#b05050"/><circle cx="214.5" cy="48.2" r="1.1" fill="#c4a4a4"/><circle cx="163.9" cy="93.6" r="1" fill="#bdb6b6"/><circle cx="192" cy="96.8" r="1.5" fill="#c82808"/><circle cx="194.6" cy="52.4" r="1" fill="#bdb6b6"/><circle cx="201.9" cy="63.9" r="1.1" fill="#c4a4a4"/><circle cx="195.2" cy="31.4" r="1.1" fill="#c4a4a4"/><circle cx="209.7" cy="57.4" r="1.1" fill="#e84018"/><circle cx="161.8" cy="81.9" r="1" fill="#b05050"/><circle cx="197.9" cy="86.2" r="1.6" fill="#d82e0a"/><circle cx="211.6" cy="50.4" r="0.9" fill="#ff5a28"/><circle cx="209.8" cy="92.3" r="1.2" fill="#b83020"/><circle cx="200.2" cy="60.1" r="1" fill="#b05050"/><circle cx="218.4" cy="51" r="1.3" fill="#ff5a28"/><circle cx="188" cy="59.9" r="0.9" fill="#66606a"/><circle cx="216.1" cy="64.7" r="0.9" fill="#d82e0a"/><circle cx="208.1" cy="40.3" r="0.9" fill="#66606a"/><circle cx="182.6" cy="83.2" r="1.1" fill="#c4a4a4"/><circle cx="167.1" cy="86.5" r="1" fill="#bdb6b6"/><circle cx="168.2" cy="31.4" r="1.1" fill="#c4a4a4"/><circle cx="217.4" cy="80.7" r="1.2" fill="#e04a30"/><circle cx="209.9" cy="50.4" r="1" fill="#e84018"/><circle cx="171.8" cy="95.3" r="1" fill="#bdb6b6"/><circle cx="204.9" cy="35.4" r="1" fill="#bdb6b6"/><circle cx="168.7" cy="48.1" r="0.9" fill="#e84018"/><circle cx="214.6" cy="36.8" r="1.1" fill="#c4a4a4"/><circle cx="164.9" cy="53.9" r="1" fill="#b05050"/><circle cx="220.9" cy="86.3" r="0.9" fill="#66606a"/><circle cx="201" cy="96.6" r="1.1" fill="#c4a4a4"/><circle cx="164.1" cy="97" r="1" fill="#bdb6b6"/><circle cx="162.7" cy="79.3" r="1" fill="#bdb6b6"/><circle cx="176.8" cy="73.2" r="1" fill="#b05050"/><circle cx="169.6" cy="43" r="1.3" fill="#e84018"/><circle cx="192.3" cy="42.8" r="1" fill="#bdb6b6"/><circle cx="219.5" cy="92" r="1" fill="#bdb6b6"/><circle cx="158.3" cy="96.2" r="1.1" fill="#c4a4a4"/><circle cx="159.7" cy="56.7" r="0.9" fill="#66606a"/><circle cx="168" cy="83.6" r="1.2" fill="#e04a30"/><circle cx="210.2" cy="32.3" r="1.1" fill="#c4a4a4"/><circle cx="182.5" cy="53.1" r="0.9" fill="#66606a"/><circle cx="164.8" cy="53.8" r="1" fill="#b05050"/><circle cx="182" cy="57.6" r="1" fill="#bdb6b6"/><circle cx="205.1" cy="42.9" r="1" fill="#b05050"/><circle cx="172" cy="36.1" r="1" fill="#bdb6b6"/><circle cx="176.3" cy="37.2" r="1" fill="#bdb6b6"/><circle cx="173.8" cy="32.2" r="1" fill="#bdb6b6"/><circle cx="217.2" cy="65.9" r="1" fill="#bdb6b6"/><circle cx="185" cy="57.4" r="1.1" fill="#c4a4a4"/><circle cx="197.4" cy="64.4" r="1" fill="#b05050"/><circle cx="199.6" cy="60.9" r="1" fill="#bdb6b6"/><circle cx="216.1" cy="82.3" r="1" fill="#b05050"/><circle cx="172.5" cy="60.5" r="0.9" fill="#66606a"/><circle cx="181.5" cy="61.8" r="1" fill="#bdb6b6"/><circle cx="164.3" cy="95.5" r="1.1" fill="#c4a4a4"/><circle cx="176" cy="72.8" r="1" fill="#bdb6b6"/><circle cx="184.3" cy="85" r="1" fill="#bdb6b6"/><circle cx="220.8" cy="87" r="1" fill="#b05050"/><circle cx="184.4" cy="58.8" r="1" fill="#bdb6b6"/><circle cx="212.5" cy="56.8" r="1" fill="#f24a1c"/><circle cx="204.1" cy="38.5" r="0.9" fill="#66606a"/><circle cx="175.1" cy="86" r="1" fill="#bdb6b6"/><circle cx="197.6" cy="46.4" r="1" fill="#b05050"/><circle cx="193.6" cy="67" r="1.1" fill="#c4a4a4"/><circle cx="179.4" cy="47.8" r="0.8" fill="#c82808"/><circle cx="218.1" cy="85.9" r="1.1" fill="#c4a4a4"/><circle cx="191.3" cy="93.7" r="0.9" fill="#ff5a28"/><circle cx="194.3" cy="63.1" r="0.9" fill="#66606a"/><circle cx="188.6" cy="62.6" r="1" fill="#b05050"/><circle cx="190" cy="85.5" r="1.4" fill="#d82e0a"/><circle cx="189.1" cy="31.9" r="0.9" fill="#66606a"/><circle cx="190.1" cy="82.1" r="1.1" fill="#ff5a28"/><circle cx="193.5" cy="34" r="1.1" fill="#c4a4a4"/><circle cx="180.8" cy="76.2" r="1.1" fill="#c4a4a4"/><circle cx="163.1" cy="42.5" r="1.1" fill="#d82e0a"/><circle cx="173.1" cy="42" r="1" fill="#c82808"/><circle cx="186.5" cy="64.9" r="1.1" fill="#c4a4a4"/><circle cx="158.3" cy="90.5" r="1.1" fill="#c4a4a4"/><circle cx="195.2" cy="88.3" r="1.6" fill="#c82808"/><circle cx="191" cy="32.7" r="1" fill="#b05050"/><circle cx="170.1" cy="50.1" r="0.9" fill="#e84018"/><circle cx="192.1" cy="87.7" r="1.2" fill="#ff5a28"/><circle cx="218.7" cy="36.9" r="1" fill="#bdb6b6"/><circle cx="183.8" cy="58.1" r="1.1" fill="#c4a4a4"/><circle cx="186.9" cy="32.7" r="1.1" fill="#c4a4a4"/><circle cx="158.5" cy="32.3" r="1" fill="#bdb6b6"/><circle cx="182.6" cy="36.8" r="0.9" fill="#66606a"/><circle cx="216.6" cy="50.7" r="1.5" fill="#e84018"/><circle cx="183.4" cy="55.7" r="1" fill="#bdb6b6"/><circle cx="166.8" cy="48.3" r="0.9" fill="#c82808"/><circle cx="221" cy="54.2" r="1.1" fill="#d82e0a"/><circle cx="164.7" cy="81.1" r="1" fill="#bdb6b6"/><circle cx="187.7" cy="87.5" r="0.9" fill="#c82808"/><circle cx="173.3" cy="50.4" r="1.4" fill="#f24a1c"/><circle cx="208.9" cy="36.8" r="0.9" fill="#66606a"/><circle cx="174.9" cy="35.7" r="1" fill="#b05050"/><circle cx="193.5" cy="35.2" r="1" fill="#bdb6b6"/><circle cx="210.5" cy="63.4" r="1.2" fill="#f24a1c"/><circle cx="215.2" cy="87.6" r="1.1" fill="#c4a4a4"/><circle cx="215.1" cy="47.3" r="1" fill="#bdb6b6"/><circle cx="181.9" cy="44.6" r="0.9" fill="#f24a1c"/><circle cx="183.5" cy="67.4" r="1.1" fill="#c4a4a4"/><circle cx="178.1" cy="67" r="1" fill="#bdb6b6"/><circle cx="203.2" cy="73.9" r="0.9" fill="#66606a"/><circle cx="202.9" cy="95.1" r="1.1" fill="#c4a4a4"/><circle cx="193.5" cy="31.4" r="1" fill="#bdb6b6"/><circle cx="164.8" cy="70.7" r="1" fill="#b05050"/><circle cx="197.3" cy="92.2" r="1.3" fill="#e84018"/><circle cx="189.2" cy="91.7" r="0.9" fill="#ff5a28"/><circle cx="205.3" cy="53.7" r="1.3" fill="#f24a1c"/><circle cx="174" cy="43.2" r="1.5" fill="#e84018"/><circle cx="187.2" cy="92.8" r="1.5" fill="#d82e0a"/><circle cx="172.9" cy="78" r="1.2" fill="#e04a30"/><circle cx="176.9" cy="50.3" r="1.2" fill="#d82e0a"/><circle cx="212.8" cy="32.2" r="1" fill="#bdb6b6"/><circle cx="168.9" cy="50" r="0.9" fill="#f24a1c"/><circle cx="198.1" cy="42" r="0.9" fill="#66606a"/><circle cx="197.3" cy="50" r="1" fill="#bdb6b6"/><circle cx="174.5" cy="34" r="0.9" fill="#66606a"/><circle cx="190.6" cy="47.5" r="0.9" fill="#66606a"/><circle cx="204.8" cy="89.3" r="1" fill="#b05050"/><circle cx="159.9" cy="69.1" r="1" fill="#bdb6b6"/><circle cx="179.5" cy="79.7" r="1" fill="#bdb6b6"/><circle cx="181.2" cy="58.7" r="1.1" fill="#c4a4a4"/><circle cx="158.3" cy="61.3" r="1.1" fill="#c4a4a4"/><circle cx="189.2" cy="32" r="0.9" fill="#66606a"/><circle cx="210.3" cy="52.1" r="1.4" fill="#c82808"/><circle cx="162.2" cy="51.5" r="1" fill="#bdb6b6"/><circle cx="171.1" cy="38.2" r="1.1" fill="#d82e0a"/></g></g><clipPath id="c3"><rect x="226.8" y="31.4" width="65" height="66.3"/></clipPath><g clip-path="url(#c3)"><g filter="url(#soft)"><rect x="226.8" y="31.4" width="65" height="66.3" fill="#8f8d8d"/><circle cx="263.9" cy="73.3" r="0.9" fill="#a8a4a4"/><circle cx="244.8" cy="74.6" r="0.9" fill="#a8a4a4"/><circle cx="285.9" cy="43.8" r="0.8" fill="#504c4c"/><circle cx="266.9" cy="64.8" r="0.9" fill="#a8a4a4"/><circle cx="246.4" cy="51.9" r="1.3" fill="none" stroke="#c4c2c2" stroke-width="0.7"/><circle cx="230.4" cy="96.4" r="1.5" fill="none" stroke="#c4c2c2" stroke-width="0.7"/><circle cx="242.6" cy="49.5" r="1.7" fill="none" stroke="#c4c2c2" stroke-width="0.7"/><circle cx="228.9" cy="89.3" r="0.9" fill="#a8a4a4"/><circle cx="244.7" cy="44.9" r="1.8" fill="none" stroke="#c4c2c2" stroke-width="0.7"/><circle cx="277.8" cy="51.8" r="1.7" fill="none" stroke="#c4c2c2" stroke-width="0.7"/><circle cx="251.4" cy="83.1" r="2" fill="none" stroke="#c4c2c2" stroke-width="0.7"/><circle cx="232.5" cy="71.3" r="0.9" fill="#a8a4a4"/><circle cx="247.9" cy="38.4" r="1.9" fill="none" stroke="#c4c2c2" stroke-width="0.7"/><circle cx="267.3" cy="81.8" r="0.9" fill="#a8a4a4"/><circle cx="280.8" cy="60.2" r="0.9" fill="#a8a4a4"/><circle cx="275.6" cy="70.3" r="0.8" fill="#504c4c"/><circle cx="273.7" cy="46.5" r="1.5" fill="none" stroke="#c4c2c2" stroke-width="0.7"/><circle cx="264.7" cy="69.4" r="1.5" fill="none" stroke="#c4c2c2" stroke-width="0.7"/><circle cx="288.6" cy="36.1" r="0.9" fill="#a8a4a4"/><circle cx="279.7" cy="40.6" r="1.3" fill="none" stroke="#c4c2c2" stroke-width="0.7"/><circle cx="241.6" cy="38.9" r="1.9" fill="none" stroke="#c4c2c2" stroke-width="0.7"/><circle cx="256" cy="44.8" r="1.5" fill="none" stroke="#c4c2c2" stroke-width="0.7"/><circle cx="253.7" cy="40" r="0.9" fill="#a8a4a4"/><circle cx="243.2" cy="51.7" r="0.9" fill="#a8a4a4"/><circle cx="251.7" cy="50.1" r="0.9" fill="#a8a4a4"/><circle cx="249.3" cy="39.2" r="0.9" fill="#a8a4a4"/><circle cx="278.5" cy="65.6" r="0.9" fill="#a8a4a4"/><circle cx="231.8" cy="72.7" r="1.5" fill="none" stroke="#c4c2c2" stroke-width="0.7"/><circle cx="284.2" cy="59.9" r="0.9" fill="#a8a4a4"/><circle cx="245.3" cy="79.8" r="0.9" fill="#a8a4a4"/><circle cx="278.9" cy="60.8" r="1.4" fill="none" stroke="#c4c2c2" stroke-width="0.7"/><circle cx="276.8" cy="41.9" r="1.3" fill="none" stroke="#c4c2c2" stroke-width="0.7"/><circle cx="257.8" cy="43" r="1.9" fill="none" stroke="#c4c2c2" stroke-width="0.7"/><circle cx="260.8" cy="91.3" r="0.9" fill="#a8a4a4"/><circle cx="251.7" cy="70.3" r="0.9" fill="#a8a4a4"/><circle cx="261.9" cy="67.4" r="1.7" fill="none" stroke="#c4c2c2" stroke-width="0.7"/><circle cx="286.3" cy="47" r="1.5" fill="none" stroke="#c4c2c2" stroke-width="0.7"/><circle cx="282.6" cy="51.5" r="0.9" fill="#a8a4a4"/><circle cx="279.1" cy="44.3" r="2" fill="none" stroke="#c4c2c2" stroke-width="0.7"/><circle cx="242.8" cy="71.3" r="0.9" fill="#a8a4a4"/><circle cx="287.5" cy="54.6" r="1.3" fill="none" stroke="#c4c2c2" stroke-width="0.7"/><circle cx="269.1" cy="72.6" r="0.9" fill="#a8a4a4"/><circle cx="248.1" cy="74.5" r="1.5" fill="none" stroke="#c4c2c2" stroke-width="0.7"/><circle cx="234.3" cy="83.7" r="0.9" fill="#a8a4a4"/><circle cx="249.9" cy="48.3" r="1.3" fill="none" stroke="#c4c2c2" stroke-width="0.7"/><circle cx="248.5" cy="43.3" r="0.9" fill="#a8a4a4"/><circle cx="251" cy="51.4" r="1.6" fill="none" stroke="#c4c2c2" stroke-width="0.7"/><circle cx="261.6" cy="70.1" r="2" fill="none" stroke="#c4c2c2" stroke-width="0.7"/><circle cx="253.6" cy="42.4" r="0.8" fill="#504c4c"/><circle cx="245.6" cy="42.3" r="0.8" fill="#504c4c"/><circle cx="239.8" cy="73.8" r="0.9" fill="#a8a4a4"/><circle cx="247.2" cy="81.4" r="2.1" fill="none" stroke="#c4c2c2" stroke-width="0.7"/><circle cx="238.1" cy="75.5" r="1.7" fill="none" stroke="#c4c2c2" stroke-width="0.7"/><circle cx="276.5" cy="67.8" r="1.8" fill="none" stroke="#c4c2c2" stroke-width="0.7"/><circle cx="268.9" cy="71.9" r="0.9" fill="#a8a4a4"/><circle cx="267.1" cy="89.5" r="0.9" fill="#a8a4a4"/><circle cx="268.3" cy="90.6" r="1.5" fill="none" stroke="#c4c2c2" stroke-width="0.7"/><circle cx="240.2" cy="40.6" r="1.7" fill="none" stroke="#c4c2c2" stroke-width="0.7"/><circle cx="280.9" cy="47.8" r="0.9" fill="#a8a4a4"/><circle cx="258.9" cy="77" r="1.6" fill="none" stroke="#c4c2c2" stroke-width="0.7"/><circle cx="269.1" cy="58.6" r="0.9" fill="#a8a4a4"/><circle cx="263.1" cy="72.1" r="1.6" fill="none" stroke="#c4c2c2" stroke-width="0.7"/><circle cx="252.3" cy="48.4" r="2" fill="none" stroke="#c4c2c2" stroke-width="0.7"/><circle cx="241.3" cy="38.9" r="1.4" fill="none" stroke="#c4c2c2" stroke-width="0.7"/><circle cx="228.3" cy="91.9" r="0.8" fill="#504c4c"/><circle cx="252.6" cy="83.3" r="1.4" fill="none" stroke="#c4c2c2" stroke-width="0.7"/><circle cx="283.5" cy="54" r="1.8" fill="none" stroke="#c4c2c2" stroke-width="0.7"/><circle cx="234.6" cy="51.8" r="1.5" fill="none" stroke="#c4c2c2" stroke-width="0.7"/><circle cx="238.8" cy="74.7" r="1.3" fill="none" stroke="#c4c2c2" stroke-width="0.7"/><circle cx="241.3" cy="76.8" r="1.5" fill="none" stroke="#c4c2c2" stroke-width="0.7"/><circle cx="237.5" cy="73.9" r="0.8" fill="#504c4c"/><circle cx="237.4" cy="88.2" r="0.9" fill="#a8a4a4"/><circle cx="279.4" cy="58.1" r="1.6" fill="none" stroke="#c4c2c2" stroke-width="0.7"/><circle cx="277.1" cy="60.6" r="2.1" fill="none" stroke="#c4c2c2" stroke-width="0.7"/><circle cx="284.5" cy="49.4" r="0.8" fill="#504c4c"/><circle cx="290.4" cy="40.2" r="2.1" fill="none" stroke="#c4c2c2" stroke-width="0.7"/><circle cx="237.2" cy="82.7" r="0.9" fill="#a8a4a4"/><circle cx="277.5" cy="40.2" r="0.9" fill="#a8a4a4"/><circle cx="228.7" cy="83.4" r="0.8" fill="#504c4c"/><circle cx="275.2" cy="36.7" r="1.9" fill="none" stroke="#c4c2c2" stroke-width="0.7"/><circle cx="274.1" cy="42.9" r="1.7" fill="none" stroke="#c4c2c2" stroke-width="0.7"/><circle cx="287.5" cy="42.6" r="1.9" fill="none" stroke="#c4c2c2" stroke-width="0.7"/><circle cx="274.5" cy="55.8" r="1.6" fill="none" stroke="#c4c2c2" stroke-width="0.7"/><circle cx="272.5" cy="56.8" r="0.8" fill="#504c4c"/><circle cx="250.3" cy="74.7" r="2" fill="none" stroke="#c4c2c2" stroke-width="0.7"/><circle cx="287.7" cy="39" r="1.9" fill="none" stroke="#c4c2c2" stroke-width="0.7"/><circle cx="248.7" cy="38.4" r="1.6" fill="none" stroke="#c4c2c2" stroke-width="0.7"/><circle cx="247" cy="75.4" r="0.9" fill="#a8a4a4"/><circle cx="265.4" cy="88.9" r="0.9" fill="#a8a4a4"/><circle cx="286.3" cy="40.1" r="0.9" fill="#a8a4a4"/><circle cx="277.1" cy="56.6" r="1.9" fill="none" stroke="#c4c2c2" stroke-width="0.7"/><circle cx="267.6" cy="81.8" r="0.9" fill="#a8a4a4"/><circle cx="249.7" cy="83.5" r="0.9" fill="#a8a4a4"/><circle cx="265.9" cy="83.1" r="1.9" fill="none" stroke="#c4c2c2" stroke-width="0.7"/><circle cx="286" cy="40.7" r="0.8" fill="#504c4c"/><circle cx="281" cy="58.3" r="1.5" fill="none" stroke="#c4c2c2" stroke-width="0.7"/><circle cx="253.7" cy="47.6" r="0.8" fill="#504c4c"/><circle cx="241.2" cy="48.8" r="2" fill="none" stroke="#c4c2c2" stroke-width="0.7"/><circle cx="244.7" cy="43.4" r="0.9" fill="#a8a4a4"/><circle cx="290" cy="44.7" r="0.8" fill="#504c4c"/><circle cx="250.8" cy="73.1" r="0.9" fill="#a8a4a4"/><circle cx="272.5" cy="52" r="1.8" fill="none" stroke="#c4c2c2" stroke-width="0.7"/><circle cx="238.1" cy="81.3" r="2.1" fill="none" stroke="#c4c2c2" stroke-width="0.7"/><circle cx="268.2" cy="87.5" r="2" fill="none" stroke="#c4c2c2" stroke-width="0.7"/><circle cx="282.6" cy="46.9" r="0.8" fill="#504c4c"/><circle cx="280.5" cy="50.5" r="0.9" fill="#a8a4a4"/><circle cx="245.4" cy="76.4" r="0.9" fill="#a8a4a4"/><circle cx="271" cy="88" r="2.1" fill="none" stroke="#c4c2c2" stroke-width="0.7"/><circle cx="229.5" cy="76.2" r="0.9" fill="#a8a4a4"/><circle cx="279.2" cy="44.1" r="1.6" fill="none" stroke="#c4c2c2" stroke-width="0.7"/><circle cx="236.5" cy="87.9" r="0.9" fill="#a8a4a4"/><circle cx="275" cy="51.5" r="0.9" fill="#a8a4a4"/><circle cx="247.2" cy="49" r="1.5" fill="none" stroke="#c4c2c2" stroke-width="0.7"/><circle cx="244.8" cy="45.8" r="1.9" fill="none" stroke="#c4c2c2" stroke-width="0.7"/><circle cx="280.5" cy="53.4" r="0.9" fill="#a8a4a4"/><circle cx="283.3" cy="33.4" r="0.8" fill="#504c4c"/><circle cx="261.6" cy="67" r="0.9" fill="#a8a4a4"/><circle cx="230.5" cy="89.5" r="0.8" fill="#504c4c"/><circle cx="246.6" cy="48.6" r="0.8" fill="#504c4c"/><circle cx="233.4" cy="86.2" r="2" fill="none" stroke="#c4c2c2" stroke-width="0.7"/><circle cx="233.9" cy="47.6" r="0.8" fill="#504c4c"/><circle cx="268.6" cy="58.1" r="1.7" fill="none" stroke="#c4c2c2" stroke-width="0.7"/><circle cx="269.1" cy="64.5" r="0.8" fill="#504c4c"/><circle cx="264.1" cy="72.2" r="2" fill="none" stroke="#c4c2c2" stroke-width="0.7"/><circle cx="281.1" cy="42.6" r="1.8" fill="none" stroke="#c4c2c2" stroke-width="0.7"/><circle cx="285.1" cy="42.7" r="1.7" fill="none" stroke="#c4c2c2" stroke-width="0.7"/><circle cx="271.1" cy="62.1" r="0.9" fill="#a8a4a4"/><circle cx="291.2" cy="35.8" r="1.9" fill="none" stroke="#c4c2c2" stroke-width="0.7"/><circle cx="248.7" cy="47.9" r="0.8" fill="#504c4c"/><circle cx="272.3" cy="48.4" r="1.3" fill="none" stroke="#c4c2c2" stroke-width="0.7"/><circle cx="260.1" cy="73.4" r="1.9" fill="none" stroke="#c4c2c2" stroke-width="0.7"/><circle cx="270.4" cy="85.2" r="0.8" fill="#504c4c"/><circle cx="261.9" cy="86.9" r="0.8" fill="#504c4c"/><circle cx="239.3" cy="49.7" r="0.9" fill="#a8a4a4"/><circle cx="256.3" cy="41.5" r="0.9" fill="#a8a4a4"/><circle cx="245" cy="79.3" r="1.4" fill="none" stroke="#c4c2c2" stroke-width="0.7"/><circle cx="271.1" cy="87.9" r="1.5" fill="none" stroke="#c4c2c2" stroke-width="0.7"/><circle cx="263.6" cy="93.7" r="0.9" fill="#a8a4a4"/><circle cx="263.1" cy="65.7" r="0.8" fill="#504c4c"/><circle cx="244.1" cy="41.5" r="0.9" fill="#a8a4a4"/><circle cx="260" cy="70.3" r="1.5" fill="none" stroke="#c4c2c2" stroke-width="0.7"/><circle cx="249.7" cy="84.1" r="1.5" fill="none" stroke="#c4c2c2" stroke-width="0.7"/><circle cx="276.1" cy="45.9" r="0.8" fill="#504c4c"/><circle cx="240.9" cy="46.3" r="1.6" fill="none" stroke="#c4c2c2" stroke-width="0.7"/><circle cx="253.4" cy="38.8" r="0.8" fill="#504c4c"/><circle cx="271.8" cy="46.2" r="1.3" fill="none" stroke="#c4c2c2" stroke-width="0.7"/><circle cx="280.1" cy="41.9" r="1.5" fill="none" stroke="#c4c2c2" stroke-width="0.7"/><circle cx="290.4" cy="33" r="1.6" fill="none" stroke="#c4c2c2" stroke-width="0.7"/><circle cx="282.7" cy="38.2" r="2" fill="none" stroke="#c4c2c2" stroke-width="0.7"/><circle cx="277.6" cy="43.3" r="0.8" fill="#504c4c"/><circle cx="232.6" cy="91.3" r="1.8" fill="none" stroke="#c4c2c2" stroke-width="0.7"/><circle cx="272.2" cy="71.4" r="0.9" fill="#a8a4a4"/><circle cx="244.6" cy="75.6" r="1.9" fill="none" stroke="#c4c2c2" stroke-width="0.7"/><circle cx="275.8" cy="62.3" r="0.9" fill="#a8a4a4"/><circle cx="240.6" cy="45.3" r="0.9" fill="#a8a4a4"/><circle cx="280.7" cy="46.7" r="0.9" fill="#a8a4a4"/><circle cx="282" cy="50.2" r="0.9" fill="#a8a4a4"/><circle cx="287.4" cy="33.1" r="0.9" fill="#a8a4a4"/><circle cx="250.9" cy="47.7" r="2.1" fill="none" stroke="#c4c2c2" stroke-width="0.7"/><circle cx="272.3" cy="60.3" r="0.9" fill="#a8a4a4"/><circle cx="267.2" cy="55.9" r="1.7" fill="none" stroke="#c4c2c2" stroke-width="0.7"/><circle cx="287.2" cy="40" r="0.9" fill="#a8a4a4"/><circle cx="289.2" cy="53.2" r="1.9" fill="none" stroke="#c4c2c2" stroke-width="0.7"/><circle cx="232.1" cy="71.7" r="0.9" fill="#a8a4a4"/><circle cx="236.7" cy="89.5" r="1.9" fill="none" stroke="#c4c2c2" stroke-width="0.7"/><circle cx="268.4" cy="82.7" r="0.8" fill="#504c4c"/><circle cx="261.7" cy="84.6" r="0.9" fill="#a8a4a4"/><circle cx="265" cy="69.5" r="0.8" fill="#504c4c"/><circle cx="265.6" cy="59.2" r="1.4" fill="none" stroke="#c4c2c2" stroke-width="0.7"/><circle cx="244.5" cy="76.8" r="1.9" fill="none" stroke="#c4c2c2" stroke-width="0.7"/><circle cx="278.5" cy="50.7" r="1.6" fill="none" stroke="#c4c2c2" stroke-width="0.7"/><circle cx="274.4" cy="49.2" r="1.6" fill="none" stroke="#c4c2c2" stroke-width="0.7"/><circle cx="268.1" cy="64.3" r="0.8" fill="#504c4c"/><circle cx="249.1" cy="40" r="1.9" fill="none" stroke="#c4c2c2" stroke-width="0.7"/><circle cx="278.5" cy="33.6" r="0.8" fill="#504c4c"/><circle cx="288.9" cy="51.7" r="1.6" fill="none" stroke="#c4c2c2" stroke-width="0.7"/><circle cx="228.4" cy="88.2" r="1.8" fill="none" stroke="#c4c2c2" stroke-width="0.7"/><circle cx="251.3" cy="83.4" r="0.9" fill="#a8a4a4"/><circle cx="289.1" cy="53.4" r="1.7" fill="none" stroke="#c4c2c2" stroke-width="0.7"/><circle cx="282.7" cy="41" r="1.8" fill="none" stroke="#c4c2c2" stroke-width="0.7"/><circle cx="253.5" cy="50.6" r="2" fill="none" stroke="#c4c2c2" stroke-width="0.7"/><circle cx="275.1" cy="44" r="0.9" fill="#a8a4a4"/><circle cx="249.1" cy="40.1" r="1.9" fill="none" stroke="#c4c2c2" stroke-width="0.7"/><circle cx="249.6" cy="52" r="2.1" fill="none" stroke="#c4c2c2" stroke-width="0.7"/><circle cx="264.5" cy="93" r="1.9" fill="none" stroke="#c4c2c2" stroke-width="0.7"/><circle cx="250.7" cy="48.7" r="1.5" fill="none" stroke="#c4c2c2" stroke-width="0.7"/><circle cx="269.2" cy="74.2" r="0.8" fill="#504c4c"/><circle cx="275.7" cy="60.2" r="1.4" fill="none" stroke="#c4c2c2" stroke-width="0.7"/><circle cx="251.5" cy="75.2" r="1.7" fill="none" stroke="#c4c2c2" stroke-width="0.7"/><circle cx="254.4" cy="42.3" r="0.8" fill="#504c4c"/><circle cx="249.7" cy="45.5" r="1.6" fill="none" stroke="#c4c2c2" stroke-width="0.7"/><circle cx="277.2" cy="37.1" r="0.8" fill="#504c4c"/><circle cx="273.9" cy="53.8" r="2" fill="none" stroke="#c4c2c2" stroke-width="0.7"/><circle cx="274.5" cy="71.4" r="1.9" fill="none" stroke="#c4c2c2" stroke-width="0.7"/><circle cx="277.8" cy="37.5" r="0.8" fill="#504c4c"/><circle cx="232.6" cy="95" r="2.1" fill="none" stroke="#c4c2c2" stroke-width="0.7"/><circle cx="251.1" cy="39" r="1.4" fill="none" stroke="#c4c2c2" stroke-width="0.7"/><circle cx="258.5" cy="42.2" r="1.4" fill="none" stroke="#c4c2c2" stroke-width="0.7"/><circle cx="261.7" cy="73.3" r="0.9" fill="#a8a4a4"/><circle cx="254.7" cy="75.2" r="1.7" fill="none" stroke="#c4c2c2" stroke-width="0.7"/><circle cx="281" cy="55.2" r="2" fill="none" stroke="#c4c2c2" stroke-width="0.7"/><circle cx="277.9" cy="52.5" r="1.6" fill="none" stroke="#c4c2c2" stroke-width="0.7"/><circle cx="279.4" cy="66.2" r="0.9" fill="#a8a4a4"/><circle cx="268.1" cy="64.6" r="2" fill="none" stroke="#c4c2c2" stroke-width="0.7"/><circle cx="267.3" cy="68.2" r="2" fill="none" stroke="#c4c2c2" stroke-width="0.7"/><circle cx="253.2" cy="44.9" r="1.6" fill="none" stroke="#c4c2c2" stroke-width="0.7"/><circle cx="273.9" cy="44" r="0.9" fill="#a8a4a4"/><circle cx="236.7" cy="43.5" r="1.9" fill="none" stroke="#c4c2c2" stroke-width="0.7"/><circle cx="272.1" cy="48.2" r="0.9" fill="#a8a4a4"/><circle cx="276.3" cy="49.3" r="0.8" fill="#504c4c"/><circle cx="232" cy="85.6" r="1.8" fill="none" stroke="#c4c2c2" stroke-width="0.7"/><circle cx="286.4" cy="50.4" r="1.5" fill="none" stroke="#c4c2c2" stroke-width="0.7"/><circle cx="287.6" cy="52.8" r="1.4" fill="none" stroke="#c4c2c2" stroke-width="0.7"/><circle cx="241.5" cy="82.9" r="2.1" fill="none" stroke="#c4c2c2" stroke-width="0.7"/><circle cx="288.9" cy="33.9" r="1.9" fill="none" stroke="#c4c2c2" stroke-width="0.7"/><circle cx="289" cy="39.5" r="0.9" fill="#a8a4a4"/><circle cx="243.1" cy="71.2" r="0.9" fill="#a8a4a4"/><circle cx="288" cy="41.1" r="1.9" fill="none" stroke="#c4c2c2" stroke-width="0.7"/><circle cx="232.9" cy="89.2" r="0.9" fill="#a8a4a4"/><circle cx="283.4" cy="56.9" r="1.7" fill="none" stroke="#c4c2c2" stroke-width="0.7"/><circle cx="251.1" cy="46.3" r="0.8" fill="#504c4c"/><circle cx="261.4" cy="75.5" r="0.9" fill="#a8a4a4"/><circle cx="291.2" cy="44.2" r="1.7" fill="none" stroke="#c4c2c2" stroke-width="0.7"/><circle cx="285.8" cy="48.9" r="1.5" fill="none" stroke="#c4c2c2" stroke-width="0.7"/><circle cx="256.7" cy="44.1" r="1.8" fill="none" stroke="#c4c2c2" stroke-width="0.7"/><circle cx="279.3" cy="66.1" r="1.4" fill="none" stroke="#c4c2c2" stroke-width="0.7"/><circle cx="236.2" cy="69.8" r="1.9" fill="none" stroke="#c4c2c2" stroke-width="0.7"/><circle cx="289.5" cy="35.4" r="1.8" fill="none" stroke="#c4c2c2" stroke-width="0.7"/><circle cx="267.8" cy="86.4" r="0.9" fill="#a8a4a4"/><circle cx="256.5" cy="83" r="1.9" fill="none" stroke="#c4c2c2" stroke-width="0.7"/><circle cx="276.8" cy="54.8" r="1.4" fill="none" stroke="#c4c2c2" stroke-width="0.7"/><circle cx="249.8" cy="49.6" r="1.4" fill="none" stroke="#c4c2c2" stroke-width="0.7"/><circle cx="256.6" cy="74.4" r="0.9" fill="#a8a4a4"/><circle cx="267.3" cy="74.7" r="0.9" fill="#a8a4a4"/><circle cx="269.6" cy="73" r="2" fill="none" stroke="#c4c2c2" stroke-width="0.7"/><circle cx="290.6" cy="48.1" r="1.3" fill="none" stroke="#c4c2c2" stroke-width="0.7"/><circle cx="251" cy="70.4" r="1.8" fill="none" stroke="#c4c2c2" stroke-width="0.7"/><circle cx="268.7" cy="68.2" r="0.9" fill="#a8a4a4"/><circle cx="275.4" cy="36.4" r="0.9" fill="#a8a4a4"/><circle cx="269.5" cy="65.9" r="0.9" fill="#a8a4a4"/><circle cx="255.1" cy="77.7" r="1.6" fill="none" stroke="#c4c2c2" stroke-width="0.7"/><circle cx="268.1" cy="61.1" r="1.6" fill="none" stroke="#c4c2c2" stroke-width="0.7"/><circle cx="269.4" cy="55.7" r="0.9" fill="#a8a4a4"/><circle cx="287.1" cy="39.1" r="0.9" fill="#a8a4a4"/><circle cx="267.7" cy="64.6" r="1.5" fill="none" stroke="#c4c2c2" stroke-width="0.7"/><circle cx="255.5" cy="40.5" r="0.9" fill="#a8a4a4"/><circle cx="243.7" cy="79.5" r="0.8" fill="#504c4c"/><circle cx="242.3" cy="50.2" r="0.8" fill="#504c4c"/><circle cx="266.4" cy="64.2" r="2" fill="none" stroke="#c4c2c2" stroke-width="0.7"/><circle cx="239.8" cy="69.2" r="1.5" fill="none" stroke="#c4c2c2" stroke-width="0.7"/><circle cx="288.6" cy="35.8" r="1.5" fill="none" stroke="#c4c2c2" stroke-width="0.7"/><circle cx="260.1" cy="79.1" r="1.5" fill="none" stroke="#c4c2c2" stroke-width="0.7"/><circle cx="265.7" cy="63.3" r="1.5" fill="none" stroke="#c4c2c2" stroke-width="0.7"/><circle cx="270" cy="81.1" r="0.9" fill="#a8a4a4"/><circle cx="281.8" cy="52.6" r="1.3" fill="none" stroke="#c4c2c2" stroke-width="0.7"/><circle cx="237.2" cy="86.6" r="1.7" fill="none" stroke="#c4c2c2" stroke-width="0.7"/><circle cx="281.9" cy="33.9" r="1.5" fill="none" stroke="#c4c2c2" stroke-width="0.7"/><circle cx="280.4" cy="51.1" r="0.8" fill="#504c4c"/><circle cx="267.9" cy="71.8" r="0.8" fill="#504c4c"/><circle cx="269.7" cy="87.2" r="0.8" fill="#504c4c"/><circle cx="254.3" cy="47.1" r="0.8" fill="#504c4c"/><circle cx="231.4" cy="86.2" r="1.7" fill="none" stroke="#c4c2c2" stroke-width="0.7"/><circle cx="248.9" cy="77.8" r="0.8" fill="#504c4c"/><circle cx="236.6" cy="83.6" r="0.8" fill="#504c4c"/><circle cx="278.2" cy="61" r="1.8" fill="none" stroke="#c4c2c2" stroke-width="0.7"/><circle cx="233.9" cy="76.4" r="1.7" fill="none" stroke="#c4c2c2" stroke-width="0.7"/><circle cx="246" cy="39.3" r="0.8" fill="#504c4c"/><circle cx="272.2" cy="46.6" r="0.8" fill="#504c4c"/><circle cx="281.8" cy="53.6" r="0.8" fill="#504c4c"/><circle cx="245.6" cy="83.4" r="0.8" fill="#504c4c"/><circle cx="277.2" cy="52.4" r="1.3" fill="none" stroke="#c4c2c2" stroke-width="0.7"/><circle cx="249.8" cy="52.9" r="1.5" fill="none" stroke="#c4c2c2" stroke-width="0.7"/><circle cx="229.1" cy="85.6" r="1.8" fill="none" stroke="#c4c2c2" stroke-width="0.7"/><circle cx="265.2" cy="86.2" r="0.9" fill="#a8a4a4"/><circle cx="275.8" cy="41.6" r="1.5" fill="none" stroke="#c4c2c2" stroke-width="0.7"/><circle cx="266.8" cy="89.4" r="0.9" fill="#a8a4a4"/><circle cx="249.9" cy="52.6" r="2" fill="none" stroke="#c4c2c2" stroke-width="0.7"/><circle cx="277.9" cy="37" r="0.8" fill="#504c4c"/><circle cx="253.4" cy="47.1" r="1.9" fill="none" stroke="#c4c2c2" stroke-width="0.7"/><circle cx="283.8" cy="53.3" r="0.9" fill="#a8a4a4"/><circle cx="250.6" cy="49.8" r="1.9" fill="none" stroke="#c4c2c2" stroke-width="0.7"/><circle cx="280.2" cy="46.1" r="2" fill="none" stroke="#c4c2c2" stroke-width="0.7"/><circle cx="280.5" cy="65.2" r="1.9" fill="none" stroke="#c4c2c2" stroke-width="0.7"/><circle cx="238.9" cy="87.9" r="0.8" fill="#504c4c"/><circle cx="241.8" cy="82.4" r="1.7" fill="none" stroke="#c4c2c2" stroke-width="0.7"/><circle cx="269" cy="55" r="1.6" fill="none" stroke="#c4c2c2" stroke-width="0.7"/><circle cx="230.9" cy="85.9" r="1.3" fill="none" stroke="#c4c2c2" stroke-width="0.7"/><circle cx="270" cy="61.6" r="1.3" fill="none" stroke="#c4c2c2" stroke-width="0.7"/><circle cx="252.1" cy="46.2" r="0.9" fill="#a8a4a4"/><circle cx="240.2" cy="51.7" r="0.9" fill="#a8a4a4"/><circle cx="252.6" cy="75.2" r="1.8" fill="none" stroke="#c4c2c2" stroke-width="0.7"/><circle cx="281.4" cy="56.4" r="1.7" fill="none" stroke="#c4c2c2" stroke-width="0.7"/><circle cx="253.7" cy="72.9" r="2" fill="none" stroke="#c4c2c2" stroke-width="0.7"/><circle cx="282.4" cy="52.1" r="0.8" fill="#504c4c"/><circle cx="246.4" cy="47.6" r="0.9" fill="#a8a4a4"/><circle cx="246.4" cy="74.8" r="1.8" fill="none" stroke="#c4c2c2" stroke-width="0.7"/><circle cx="245.4" cy="49.2" r="2" fill="none" stroke="#c4c2c2" stroke-width="0.7"/><circle cx="238.7" cy="42" r="1.8" fill="none" stroke="#c4c2c2" stroke-width="0.7"/><circle cx="283.5" cy="48.9" r="0.9" fill="#a8a4a4"/><circle cx="271" cy="62.4" r="2" fill="none" stroke="#c4c2c2" stroke-width="0.7"/><circle cx="279.1" cy="51.1" r="1.5" fill="none" stroke="#c4c2c2" stroke-width="0.7"/><circle cx="287.7" cy="41.6" r="1.4" fill="none" stroke="#c4c2c2" stroke-width="0.7"/><circle cx="255.8" cy="45.8" r="1.8" fill="none" stroke="#c4c2c2" stroke-width="0.7"/><circle cx="246" cy="49.6" r="1.6" fill="none" stroke="#c4c2c2" stroke-width="0.7"/><circle cx="240.9" cy="76.3" r="1.5" fill="none" stroke="#c4c2c2" stroke-width="0.7"/><circle cx="266.4" cy="68.9" r="0.9" fill="#a8a4a4"/><circle cx="267.8" cy="71" r="1.8" fill="none" stroke="#c4c2c2" stroke-width="0.7"/><circle cx="279" cy="61.9" r="1.3" fill="none" stroke="#c4c2c2" stroke-width="0.7"/><circle cx="252.5" cy="73" r="2" fill="none" stroke="#c4c2c2" stroke-width="0.7"/><circle cx="259.4" cy="78.2" r="0.8" fill="#504c4c"/><circle cx="282.9" cy="44.1" r="1.8" fill="none" stroke="#c4c2c2" stroke-width="0.7"/><circle cx="286.1" cy="47.6" r="1.5" fill="none" stroke="#c4c2c2" stroke-width="0.7"/><circle cx="248.7" cy="44.9" r="1.5" fill="none" stroke="#c4c2c2" stroke-width="0.7"/><circle cx="248" cy="43.9" r="1.7" fill="none" stroke="#c4c2c2" stroke-width="0.7"/><circle cx="287.6" cy="33.3" r="1.9" fill="none" stroke="#c4c2c2" stroke-width="0.7"/><circle cx="267.7" cy="83.4" r="0.9" fill="#a8a4a4"/><circle cx="271.4" cy="67.7" r="0.9" fill="#a8a4a4"/><circle cx="234.6" cy="92.8" r="0.9" fill="#a8a4a4"/><circle cx="234.7" cy="92.2" r="0.9" fill="#a8a4a4"/><circle cx="280.9" cy="41.2" r="0.9" fill="#a8a4a4"/><circle cx="277.8" cy="35.7" r="0.9" fill="#a8a4a4"/><circle cx="248" cy="38.8" r="0.9" fill="#a8a4a4"/><circle cx="238.9" cy="44.3" r="2" fill="none" stroke="#c4c2c2" stroke-width="0.7"/><circle cx="279.7" cy="65.7" r="0.9" fill="#a8a4a4"/><circle cx="238.7" cy="81.5" r="1.7" fill="none" stroke="#c4c2c2" stroke-width="0.7"/><circle cx="274.5" cy="43.4" r="1.3" fill="none" stroke="#c4c2c2" stroke-width="0.7"/><circle cx="274.4" cy="49.4" r="0.9" fill="#a8a4a4"/><circle cx="261.1" cy="75.7" r="0.9" fill="#a8a4a4"/><circle cx="255.1" cy="83.4" r="0.9" fill="#a8a4a4"/><circle cx="283.8" cy="35.4" r="1.8" fill="none" stroke="#c4c2c2" stroke-width="0.7"/><circle cx="270.4" cy="57.6" r="1.6" fill="none" stroke="#c4c2c2" stroke-width="0.7"/><circle cx="290.1" cy="39.8" r="0.8" fill="#504c4c"/><circle cx="291.4" cy="37.8" r="1.9" fill="none" stroke="#c4c2c2" stroke-width="0.7"/><circle cx="279" cy="48.1" r="0.9" fill="#a8a4a4"/><circle cx="286.9" cy="48.4" r="0.9" fill="#a8a4a4"/><circle cx="270.6" cy="83.1" r="0.9" fill="#a8a4a4"/><circle cx="238.6" cy="46.8" r="1.3" fill="none" stroke="#c4c2c2" stroke-width="0.7"/><circle cx="245.5" cy="77.4" r="1.6" fill="none" stroke="#c4c2c2" stroke-width="0.7"/><circle cx="277.9" cy="43.7" r="0.8" fill="#504c4c"/><circle cx="231.4" cy="93.8" r="1.4" fill="none" stroke="#c4c2c2" stroke-width="0.7"/><circle cx="227.7" cy="94.4" r="1.7" fill="none" stroke="#c4c2c2" stroke-width="0.7"/><circle cx="271.3" cy="55.6" r="0.9" fill="#a8a4a4"/><circle cx="261.4" cy="87.9" r="0.9" fill="#a8a4a4"/><circle cx="290.1" cy="49.9" r="0.9" fill="#a8a4a4"/><circle cx="274.9" cy="64.1" r="2" fill="none" stroke="#c4c2c2" stroke-width="0.7"/><circle cx="233" cy="86.5" r="0.8" fill="#504c4c"/><circle cx="263.9" cy="75.4" r="0.8" fill="#504c4c"/><circle cx="283.6" cy="47.6" r="0.9" fill="#a8a4a4"/><circle cx="268.3" cy="61.8" r="0.8" fill="#504c4c"/><circle cx="265.6" cy="73.5" r="0.9" fill="#a8a4a4"/><circle cx="238.3" cy="44.6" r="2" fill="none" stroke="#c4c2c2" stroke-width="0.7"/><circle cx="274.1" cy="58.8" r="0.9" fill="#a8a4a4"/><circle cx="251.9" cy="75.1" r="1.5" fill="none" stroke="#c4c2c2" stroke-width="0.7"/><circle cx="257.8" cy="43.8" r="0.9" fill="#a8a4a4"/><circle cx="273.8" cy="59.8" r="1.5" fill="none" stroke="#c4c2c2" stroke-width="0.7"/><circle cx="241.2" cy="42.9" r="0.8" fill="#504c4c"/><circle cx="276.9" cy="33.9" r="0.9" fill="#a8a4a4"/><circle cx="263.1" cy="92.8" r="0.9" fill="#a8a4a4"/><circle cx="282.7" cy="58.2" r="2" fill="none" stroke="#c4c2c2" stroke-width="0.7"/><circle cx="266.8" cy="91.4" r="1.6" fill="none" stroke="#c4c2c2" stroke-width="0.7"/><circle cx="245.7" cy="37.7" r="1.9" fill="none" stroke="#c4c2c2" stroke-width="0.7"/><circle cx="266.4" cy="68.1" r="2.1" fill="none" stroke="#c4c2c2" stroke-width="0.7"/><circle cx="252.2" cy="72.1" r="1.9" fill="none" stroke="#c4c2c2" stroke-width="0.7"/><circle cx="280.8" cy="39" r="1.4" fill="none" stroke="#c4c2c2" stroke-width="0.7"/><circle cx="285.1" cy="49.4" r="2.1" fill="none" stroke="#c4c2c2" stroke-width="0.7"/><circle cx="245.5" cy="75" r="1.8" fill="none" stroke="#c4c2c2" stroke-width="0.7"/><circle cx="251" cy="39.3" r="1.4" fill="none" stroke="#c4c2c2" stroke-width="0.7"/><circle cx="291.1" cy="36.8" r="0.8" fill="#504c4c"/><circle cx="263.2" cy="63.8" r="1.9" fill="none" stroke="#c4c2c2" stroke-width="0.7"/><circle cx="263.5" cy="77.2" r="2" fill="none" stroke="#c4c2c2" stroke-width="0.7"/><circle cx="242.4" cy="71.7" r="1.6" fill="none" stroke="#c4c2c2" stroke-width="0.7"/><circle cx="267.7" cy="63.7" r="2" fill="none" stroke="#c4c2c2" stroke-width="0.7"/><circle cx="247.6" cy="80.9" r="1.7" fill="none" stroke="#c4c2c2" stroke-width="0.7"/><circle cx="290.4" cy="50.4" r="2" fill="none" stroke="#c4c2c2" stroke-width="0.7"/><circle cx="281" cy="61.8" r="0.8" fill="#504c4c"/><circle cx="264.4" cy="87.8" r="1.8" fill="none" stroke="#c4c2c2" stroke-width="0.7"/><circle cx="235.3" cy="47.5" r="0.9" fill="#a8a4a4"/><circle cx="269.7" cy="86.2" r="0.9" fill="#a8a4a4"/><circle cx="240.7" cy="78.1" r="1.9" fill="none" stroke="#c4c2c2" stroke-width="0.7"/><circle cx="265.5" cy="62.5" r="0.8" fill="#504c4c"/><circle cx="277.6" cy="66.3" r="0.9" fill="#a8a4a4"/><circle cx="244.2" cy="70.4" r="0.9" fill="#a8a4a4"/><circle cx="235.2" cy="96.2" r="1.5" fill="none" stroke="#c4c2c2" stroke-width="0.7"/><circle cx="230.4" cy="78.5" r="1.6" fill="none" stroke="#c4c2c2" stroke-width="0.7"/><circle cx="243.7" cy="42.5" r="0.8" fill="#504c4c"/><circle cx="250.4" cy="81.6" r="0.8" fill="#504c4c"/><circle cx="237" cy="47.1" r="0.9" fill="#a8a4a4"/><circle cx="242.5" cy="50.2" r="1.5" fill="none" stroke="#c4c2c2" stroke-width="0.7"/><circle cx="270.4" cy="65.3" r="0.8" fill="#504c4c"/><circle cx="281.8" cy="44.3" r="0.8" fill="#504c4c"/><circle cx="285.5" cy="54.9" r="1.6" fill="none" stroke="#c4c2c2" stroke-width="0.7"/><circle cx="253.1" cy="82.5" r="0.8" fill="#504c4c"/><circle cx="263.9" cy="92.1" r="2.1" fill="none" stroke="#c4c2c2" stroke-width="0.7"/><circle cx="243.3" cy="74.5" r="1.9" fill="none" stroke="#c4c2c2" stroke-width="0.7"/><circle cx="269.4" cy="85.3" r="2.1" fill="none" stroke="#c4c2c2" stroke-width="0.7"/><circle cx="282.8" cy="39.8" r="2" fill="none" stroke="#c4c2c2" stroke-width="0.7"/><circle cx="275.9" cy="59.8" r="1.8" fill="none" stroke="#c4c2c2" stroke-width="0.7"/><circle cx="239.5" cy="68.6" r="2" fill="none" stroke="#c4c2c2" stroke-width="0.7"/><circle cx="250.1" cy="51.1" r="1.7" fill="none" stroke="#c4c2c2" stroke-width="0.7"/><circle cx="267.7" cy="57.1" r="2" fill="none" stroke="#c4c2c2" stroke-width="0.7"/><circle cx="289.3" cy="52.3" r="2.1" fill="none" stroke="#c4c2c2" stroke-width="0.7"/><circle cx="238.9" cy="90.2" r="0.9" fill="#a8a4a4"/><circle cx="261.1" cy="72.5" r="1.6" fill="none" stroke="#c4c2c2" stroke-width="0.7"/><circle cx="232.3" cy="83.3" r="0.9" fill="#a8a4a4"/><circle cx="278.9" cy="42.4" r="2" fill="none" stroke="#c4c2c2" stroke-width="0.7"/><circle cx="242.1" cy="80.5" r="0.9" fill="#a8a4a4"/><circle cx="276.2" cy="36.2" r="0.8" fill="#504c4c"/><circle cx="237.4" cy="78.8" r="1.7" fill="none" stroke="#c4c2c2" stroke-width="0.7"/><circle cx="268.8" cy="67.6" r="0.8" fill="#504c4c"/><circle cx="288.9" cy="33.1" r="1.6" fill="none" stroke="#c4c2c2" stroke-width="0.7"/><circle cx="230.5" cy="80.7" r="1.6" fill="none" stroke="#c4c2c2" stroke-width="0.7"/><circle cx="270.2" cy="54.1" r="1.6" fill="none" stroke="#c4c2c2" stroke-width="0.7"/><circle cx="281.6" cy="53.2" r="1.5" fill="none" stroke="#c4c2c2" stroke-width="0.7"/><circle cx="279.9" cy="62.6" r="1.6" fill="none" stroke="#c4c2c2" stroke-width="0.7"/><circle cx="264.5" cy="90.5" r="1.5" fill="none" stroke="#c4c2c2" stroke-width="0.7"/><circle cx="250.7" cy="52.4" r="1.7" fill="none" stroke="#c4c2c2" stroke-width="0.7"/><circle cx="261.5" cy="88.3" r="1.6" fill="none" stroke="#c4c2c2" stroke-width="0.7"/><circle cx="271" cy="72.5" r="1.8" fill="none" stroke="#c4c2c2" stroke-width="0.7"/><circle cx="235.5" cy="51.4" r="1.7" fill="none" stroke="#c4c2c2" stroke-width="0.7"/><circle cx="239.8" cy="81.3" r="0.8" fill="#504c4c"/><circle cx="241.2" cy="51.6" r="1.9" fill="none" stroke="#c4c2c2" stroke-width="0.7"/><circle cx="282" cy="57.6" r="1.6" fill="none" stroke="#c4c2c2" stroke-width="0.7"/><circle cx="246.8" cy="50.6" r="2" fill="none" stroke="#c4c2c2" stroke-width="0.7"/><circle cx="270" cy="89.8" r="0.8" fill="#504c4c"/><circle cx="262" cy="78.2" r="0.8" fill="#504c4c"/><circle cx="248.5" cy="83.1" r="1.4" fill="none" stroke="#c4c2c2" stroke-width="0.7"/><circle cx="238.8" cy="81.6" r="1.1" fill="#c07058"/><circle cx="229.2" cy="81.7" r="1.1" fill="#b05a40"/><circle cx="233.3" cy="84.1" r="1.1" fill="#984838"/><circle cx="235.9" cy="86" r="1.1" fill="#984838"/><circle cx="232.1" cy="93.3" r="1.1" fill="#c07058"/><circle cx="236.3" cy="82.3" r="1.1" fill="#b05a40"/><circle cx="236.6" cy="90.8" r="1.1" fill="#984838"/><circle cx="235.8" cy="94.6" r="1.1" fill="#c07058"/><circle cx="228.4" cy="86.1" r="1.1" fill="#c07058"/><circle cx="235.2" cy="81.7" r="1.1" fill="#b05a40"/><circle cx="235.6" cy="87.3" r="1.1" fill="#b05a40"/><circle cx="235.2" cy="89.1" r="1.1" fill="#b05a40"/><circle cx="233.4" cy="95.3" r="1.1" fill="#c07058"/><circle cx="228.7" cy="83.5" r="1.1" fill="#984838"/><circle cx="235.1" cy="87.7" r="1.1" fill="#c07058"/><circle cx="239" cy="84.5" r="1.1" fill="#c07058"/><circle cx="237.8" cy="90.2" r="1.1" fill="#984838"/><circle cx="233" cy="95.4" r="1.1" fill="#b05a40"/><circle cx="231.6" cy="83.7" r="1.1" fill="#b05a40"/><circle cx="235.7" cy="84.7" r="1.1" fill="#c07058"/><circle cx="229" cy="90.7" r="1.1" fill="#984838"/><circle cx="235.8" cy="84" r="1.1" fill="#c07058"/><circle cx="287" cy="74" r="3.2" fill="none" stroke="#c8c6c6" stroke-width="0.9"/><circle cx="287" cy="74" r="2.0" fill="none" stroke="#5a5858" stroke-width="0.7"/><circle cx="244" cy="90" r="2.8" fill="none" stroke="#c8c6c6" stroke-width="0.9"/><circle cx="244" cy="90" r="1.5999999999999999" fill="none" stroke="#5a5858" stroke-width="0.7"/><circle cx="272" cy="92" r="2.5" fill="none" stroke="#c8c6c6" stroke-width="0.9"/><circle cx="272" cy="92" r="1.3" fill="none" stroke="#5a5858" stroke-width="0.7"/><circle cx="283" cy="95" r="2" fill="none" stroke="#c8c6c6" stroke-width="0.9"/><circle cx="283" cy="95" r="0.8" fill="none" stroke="#5a5858" stroke-width="0.7"/><path d="M275 80 L279 90 L277 96" stroke="#5a5858" stroke-width="1" fill="none"/></g></g><text x="121.8" y="23.5" text-anchor="middle" class="c" font-size="11.4">Medium</text><text x="190.5" y="9.4" text-anchor="middle" class="c" font-size="10.8">Isotype</text><text x="190" y="24" text-anchor="middle" class="c" font-size="10.8">control</text><text x="261.8" y="24" text-anchor="middle" class="c" font-size="10.9">BYON3521</text><polyline points="88.8,251.5 105.7,246.5 122.5,241.5 139.4,236.5 156.3,229 173.2,221 190.1,214.6 207,213.1 223.9,218.2 240.8,226.7 257.8,237 274.6,246.3 291.5,253 308.4,258.7 325.3,263.8 342.2,266.8 359.1,270.5 376,271.5 392.9,272.3 409.8,274 426.8,275.2 443.6,276.1 460.5,276.3 477.4,276.9 494.3,277.5" fill="none" stroke="#f5911f" stroke-width="1.6"/><g fill="#f7870f" stroke="#ee7c10" stroke-width="0.8"><ellipse cx="88.8" cy="251.5" rx="3.4" ry="4.0"/><ellipse cx="105.7" cy="246.5" rx="3.4" ry="4.0"/><ellipse cx="122.5" cy="241.5" rx="3.4" ry="4.0"/><ellipse cx="139.4" cy="236.5" rx="3.4" ry="4.0"/><ellipse cx="156.3" cy="229" rx="3.4" ry="4.0"/><ellipse cx="173.2" cy="221" rx="3.4" ry="4.0"/><ellipse cx="190.1" cy="214.6" rx="3.4" ry="4.0"/><ellipse cx="207" cy="213.1" rx="3.4" ry="4.0"/><ellipse cx="223.9" cy="218.2" rx="3.4" ry="4.0"/><ellipse cx="240.8" cy="226.7" rx="3.4" ry="4.0"/><ellipse cx="257.8" cy="237" rx="3.4" ry="4.0"/><ellipse cx="274.6" cy="246.3" rx="3.4" ry="4.0"/><ellipse cx="291.5" cy="253" rx="3.4" ry="4.0"/><ellipse cx="308.4" cy="258.7" rx="3.4" ry="4.0"/><ellipse cx="325.3" cy="263.8" rx="3.4" ry="4.0"/><ellipse cx="342.2" cy="266.8" rx="3.4" ry="4.0"/><ellipse cx="359.1" cy="270.5" rx="3.4" ry="4.0"/><ellipse cx="376" cy="271.5" rx="3.4" ry="4.0"/><ellipse cx="392.9" cy="272.3" rx="3.4" ry="4.0"/><ellipse cx="409.8" cy="274" rx="3.4" ry="4.0"/><ellipse cx="426.8" cy="275.2" rx="3.4" ry="4.0"/><ellipse cx="443.6" cy="276.1" rx="3.4" ry="4.0"/><ellipse cx="460.5" cy="276.3" rx="3.4" ry="4.0"/><ellipse cx="477.4" cy="276.9" rx="3.4" ry="4.0"/><ellipse cx="494.3" cy="277.5" rx="3.4" ry="4.0"/></g><polyline points="88.8,251 105.7,246.5 122.5,241.5 139.4,237 156.3,229.5 173.2,221 190.1,209 207,194 223.9,179.6 240.8,169.7 257.8,161.8 274.6,154.9 291.5,146.4 308.4,139.7 325.3,133.5 342.2,129.5 359.1,132.3 376,130.2 392.9,129.4 409.8,133.4 426.8,139.6 443.6,141 460.5,145.8 477.4,145.5 494.3,148.2" fill="none" stroke="#cecece" stroke-width="1.6"/><g fill="#cbcbcb" stroke="#c4c4c4" stroke-width="0.8"><ellipse cx="88.8" cy="251" rx="3.4" ry="4.0"/><ellipse cx="105.7" cy="246.5" rx="3.4" ry="4.0"/><ellipse cx="122.5" cy="241.5" rx="3.4" ry="4.0"/><ellipse cx="139.4" cy="237" rx="3.4" ry="4.0"/><ellipse cx="156.3" cy="229.5" rx="3.4" ry="4.0"/><ellipse cx="173.2" cy="221" rx="3.4" ry="4.0"/><ellipse cx="190.1" cy="209" rx="3.4" ry="4.0"/><ellipse cx="207" cy="194" rx="3.4" ry="4.0"/><ellipse cx="223.9" cy="179.6" rx="3.4" ry="4.0"/><ellipse cx="240.8" cy="169.7" rx="3.4" ry="4.0"/><ellipse cx="257.8" cy="161.8" rx="3.4" ry="4.0"/><ellipse cx="274.6" cy="154.9" rx="3.4" ry="4.0"/><ellipse cx="291.5" cy="146.4" rx="3.4" ry="4.0"/><ellipse cx="308.4" cy="139.7" rx="3.4" ry="4.0"/><ellipse cx="325.3" cy="133.5" rx="3.4" ry="4.0"/><ellipse cx="342.2" cy="129.5" rx="3.4" ry="4.0"/><ellipse cx="359.1" cy="132.3" rx="3.4" ry="4.0"/><ellipse cx="376" cy="130.2" rx="3.4" ry="4.0"/><ellipse cx="392.9" cy="129.4" rx="3.4" ry="4.0"/><ellipse cx="409.8" cy="133.4" rx="3.4" ry="4.0"/><ellipse cx="426.8" cy="139.6" rx="3.4" ry="4.0"/><ellipse cx="443.6" cy="141" rx="3.4" ry="4.0"/><ellipse cx="460.5" cy="145.8" rx="3.4" ry="4.0"/><ellipse cx="477.4" cy="145.5" rx="3.4" ry="4.0"/><ellipse cx="494.3" cy="148.2" rx="3.4" ry="4.0"/></g><polyline points="88.8,251 105.7,246 122.5,240.5 139.4,235.5 156.3,227 173.2,214.2 190.1,200.8 207,183.5 223.9,169.9 240.8,161.2 257.8,151.2 274.6,143.4 291.5,135 308.4,127.2 325.3,121.9 342.2,116.6 359.1,115.8 376,117.3 392.9,117.4 409.8,125.6 426.8,130.2 443.6,132.9 460.5,137.5 477.4,137.7 494.3,135" fill="none" stroke="#111" stroke-width="1.6"/><g fill="#000" stroke="#000" stroke-width="0.8"><ellipse cx="88.8" cy="251" rx="3.4" ry="4.0"/><ellipse cx="105.7" cy="246" rx="3.4" ry="4.0"/><ellipse cx="122.5" cy="240.5" rx="3.4" ry="4.0"/><ellipse cx="139.4" cy="235.5" rx="3.4" ry="4.0"/><ellipse cx="156.3" cy="227" rx="3.4" ry="4.0"/><ellipse cx="173.2" cy="214.2" rx="3.4" ry="4.0"/><ellipse cx="190.1" cy="200.8" rx="3.4" ry="4.0"/><ellipse cx="207" cy="183.5" rx="3.4" ry="4.0"/><ellipse cx="223.9" cy="169.9" rx="3.4" ry="4.0"/><ellipse cx="240.8" cy="161.2" rx="3.4" ry="4.0"/><ellipse cx="257.8" cy="151.2" rx="3.4" ry="4.0"/><ellipse cx="274.6" cy="143.4" rx="3.4" ry="4.0"/><ellipse cx="291.5" cy="135" rx="3.4" ry="4.0"/><ellipse cx="308.4" cy="127.2" rx="3.4" ry="4.0"/><ellipse cx="325.3" cy="121.9" rx="3.4" ry="4.0"/><ellipse cx="342.2" cy="116.6" rx="3.4" ry="4.0"/><ellipse cx="359.1" cy="115.8" rx="3.4" ry="4.0"/><ellipse cx="376" cy="117.3" rx="3.4" ry="4.0"/><ellipse cx="392.9" cy="117.4" rx="3.4" ry="4.0"/><ellipse cx="409.8" cy="125.6" rx="3.4" ry="4.0"/><ellipse cx="426.8" cy="130.2" rx="3.4" ry="4.0"/><ellipse cx="443.6" cy="132.9" rx="3.4" ry="4.0"/><ellipse cx="460.5" cy="137.5" rx="3.4" ry="4.0"/><ellipse cx="477.4" cy="137.7" rx="3.4" ry="4.0"/><ellipse cx="494.3" cy="135" rx="3.4" ry="4.0"/></g><polyline points="88.8,251.2 105.7,246.3 122.5,241 139.4,236.2 156.3,228.1 173.2,219.8 190.1,207.8 207,192.3 223.9,174.3 240.8,154.7 257.8,137.6 274.6,123.1 291.5,111.3 308.4,99.5 325.3,88.5 342.2,75.8 359.1,70 376,61.5 392.9,55.5 409.8,54.3 426.8,60.2 443.6,63.4 460.5,66.9 477.4,70.2 494.3,80.4" fill="none" stroke="#2a20d8" stroke-width="1.7"/><g fill="#1a10e0" stroke="#1008d0" stroke-width="0.8"><ellipse cx="88.8" cy="251.2" rx="3.4" ry="4.0"/><ellipse cx="105.7" cy="246.3" rx="3.4" ry="4.0"/><ellipse cx="122.5" cy="241" rx="3.4" ry="4.0"/><ellipse cx="139.4" cy="236.2" rx="3.4" ry="4.0"/><ellipse cx="156.3" cy="228.1" rx="3.4" ry="4.0"/><ellipse cx="173.2" cy="219.8" rx="3.4" ry="4.0"/><ellipse cx="190.1" cy="207.8" rx="3.4" ry="4.0"/><ellipse cx="207" cy="192.3" rx="3.4" ry="4.0"/><ellipse cx="223.9" cy="174.3" rx="3.4" ry="4.0"/><ellipse cx="240.8" cy="154.7" rx="3.4" ry="4.0"/><ellipse cx="257.8" cy="137.6" rx="3.4" ry="4.0"/><ellipse cx="274.6" cy="123.1" rx="3.4" ry="4.0"/><ellipse cx="291.5" cy="111.3" rx="3.4" ry="4.0"/><ellipse cx="308.4" cy="99.5" rx="3.4" ry="4.0"/><ellipse cx="325.3" cy="88.5" rx="3.4" ry="4.0"/><ellipse cx="342.2" cy="75.8" rx="3.4" ry="4.0"/><ellipse cx="359.1" cy="70" rx="3.4" ry="4.0"/><ellipse cx="376" cy="61.5" rx="3.4" ry="4.0"/><ellipse cx="392.9" cy="55.5" rx="3.4" ry="4.0"/><ellipse cx="409.8" cy="54.3" rx="3.4" ry="4.0"/><ellipse cx="426.8" cy="60.2" rx="3.4" ry="4.0"/><ellipse cx="443.6" cy="63.4" rx="3.4" ry="4.0"/><ellipse cx="460.5" cy="66.9" rx="3.4" ry="4.0"/><ellipse cx="477.4" cy="70.2" rx="3.4" ry="4.0"/><ellipse cx="494.3" cy="80.4" rx="3.4" ry="4.0"/></g><path d="M74.8 30.5V281" stroke="#888" stroke-width="1.3" fill="none"/><path d="M74.2 280.9H505" stroke="#5a6470" stroke-width="1.6" fill="none"/><path d="M74.8 348.2V612" stroke="#888" stroke-width="1.3" fill="none"/><path d="M74.2 611.9H518.5" stroke="#5a5a5a" stroke-width="1.6" fill="none"/><path d="M304.2 171H319.7" stroke="#f5911f" stroke-width="1.8"/><circle cx="311.8" cy="171" r="3.5" fill="#f7870f"/><text x="325" y="175.9" class="b" font-size="12.5">BYON3521</text><path d="M304.2 191.6H319.7" stroke="#cecece" stroke-width="1.8"/><circle cx="311.8" cy="191.6" r="3.5" fill="#cbcbcb"/><text x="325" y="196.5" class="b" font-size="12.5">Nonbinding isotype control ADC</text><path d="M304.2 212.8H319.7" stroke="#000" stroke-width="1.8"/><circle cx="311.8" cy="212.8" r="3.5" fill="#000"/><text x="325" y="217.7" class="b" font-size="12.5">Medium</text><path d="M304.2 233.9H319.7" stroke="#2a20d8" stroke-width="1.8"/><circle cx="311.8" cy="233.9" r="3.5" fill="#1a10e0"/><text x="325" y="238.8" class="b" font-size="12.5">SYD2884-mcMMAF</text><polyline points="100.6,583.6 117.8,583 135.1,581.9 152.3,581 169.5,579.2 186.8,576.5 204,573.8 221.2,573.1 238.4,573.8 255.7,575.5 272.9,578.1 290.1,580.5 307.4,583.1 324.6,584.7 341.8,586.5 359,588.9 376.3,589.5 393.5,590 410.7,591.2 428,591.2 445.2,591.9 462.4,591.9 479.7,592.3 496.9,591.9" fill="none" stroke="#6a4a3a" stroke-width="1.6"/><g fill="#6c3210" stroke="#4a1e08" stroke-width="1"><ellipse cx="100.6" cy="583.6" rx="4.25" ry="4.25"/><ellipse cx="117.8" cy="583" rx="4.25" ry="4.25"/><ellipse cx="135.1" cy="581.9" rx="4.25" ry="4.25"/><ellipse cx="152.3" cy="581" rx="4.25" ry="4.25"/><ellipse cx="169.5" cy="579.2" rx="4.25" ry="4.25"/><ellipse cx="186.8" cy="576.5" rx="4.25" ry="4.25"/><ellipse cx="204" cy="573.8" rx="4.25" ry="4.25"/><ellipse cx="221.2" cy="573.1" rx="4.25" ry="4.25"/><ellipse cx="238.4" cy="573.8" rx="4.25" ry="4.25"/><ellipse cx="255.7" cy="575.5" rx="4.25" ry="4.25"/><ellipse cx="272.9" cy="578.1" rx="4.25" ry="4.25"/><ellipse cx="290.1" cy="580.5" rx="4.25" ry="4.25"/><ellipse cx="307.4" cy="583.1" rx="4.25" ry="4.25"/><ellipse cx="324.6" cy="584.7" rx="4.25" ry="4.25"/><ellipse cx="341.8" cy="586.5" rx="4.25" ry="4.25"/><ellipse cx="359" cy="588.9" rx="4.25" ry="4.25"/><ellipse cx="376.3" cy="589.5" rx="4.25" ry="4.25"/><ellipse cx="393.5" cy="590" rx="4.25" ry="4.25"/><ellipse cx="410.7" cy="591.2" rx="4.25" ry="4.25"/><ellipse cx="428" cy="591.2" rx="4.25" ry="4.25"/><ellipse cx="445.2" cy="591.9" rx="4.25" ry="4.25"/><ellipse cx="462.4" cy="591.9" rx="4.25" ry="4.25"/><ellipse cx="479.7" cy="592.3" rx="4.25" ry="4.25"/><ellipse cx="496.9" cy="591.9" rx="4.25" ry="4.25"/></g><polyline points="100.6,574.9 117.8,572.7 135.1,570.9 152.3,568.6 169.5,566.1 186.8,560.6 204,553 221.2,548 238.4,546.9 255.7,550 272.9,555.2 290.1,559.6 307.4,564.9 324.6,569.7 341.8,574.3 359,578 376.3,581.2 393.5,583.1 410.7,585.2 428,586.5 445.2,587.7 462.4,588.2 479.7,588.9 496.9,588.9" fill="none" stroke="#a06040" stroke-width="1.6"/><g fill="#b44c12" stroke="#9a4010" stroke-width="1"><ellipse cx="100.6" cy="574.9" rx="4.25" ry="4.25"/><ellipse cx="117.8" cy="572.7" rx="4.25" ry="4.25"/><ellipse cx="135.1" cy="570.9" rx="4.25" ry="4.25"/><ellipse cx="152.3" cy="568.6" rx="4.25" ry="4.25"/><ellipse cx="169.5" cy="566.1" rx="4.25" ry="4.25"/><ellipse cx="186.8" cy="560.6" rx="4.25" ry="4.25"/><ellipse cx="204" cy="553" rx="4.25" ry="4.25"/><ellipse cx="221.2" cy="548" rx="4.25" ry="4.25"/><ellipse cx="238.4" cy="546.9" rx="4.25" ry="4.25"/><ellipse cx="255.7" cy="550" rx="4.25" ry="4.25"/><ellipse cx="272.9" cy="555.2" rx="4.25" ry="4.25"/><ellipse cx="290.1" cy="559.6" rx="4.25" ry="4.25"/><ellipse cx="307.4" cy="564.9" rx="4.25" ry="4.25"/><ellipse cx="324.6" cy="569.7" rx="4.25" ry="4.25"/><ellipse cx="341.8" cy="574.3" rx="4.25" ry="4.25"/><ellipse cx="359" cy="578" rx="4.25" ry="4.25"/><ellipse cx="376.3" cy="581.2" rx="4.25" ry="4.25"/><ellipse cx="393.5" cy="583.1" rx="4.25" ry="4.25"/><ellipse cx="410.7" cy="585.2" rx="4.25" ry="4.25"/><ellipse cx="428" cy="586.5" rx="4.25" ry="4.25"/><ellipse cx="445.2" cy="587.7" rx="4.25" ry="4.25"/><ellipse cx="462.4" cy="588.2" rx="4.25" ry="4.25"/><ellipse cx="479.7" cy="588.9" rx="4.25" ry="4.25"/><ellipse cx="496.9" cy="588.9" rx="4.25" ry="4.25"/></g><polyline points="100.6,564.6 117.8,562 135.1,559.6 152.3,556.6 169.5,553.4 186.8,548 204,537.9 221.2,528.2 238.4,524.4 255.7,524.3 272.9,528.1 290.1,534 307.4,541.6 324.6,549.6 341.8,558.2 359,564.6 376.3,569.9 393.5,575 410.7,577.5 428,579.6 445.2,582.6 462.4,584.2 479.7,585.4 496.9,586.1" fill="none" stroke="#f0a070" stroke-width="1.6"/><g fill="#f58a40" stroke="#e88040" stroke-width="1"><ellipse cx="100.6" cy="564.6" rx="4.25" ry="4.25"/><ellipse cx="117.8" cy="562" rx="4.25" ry="4.25"/><ellipse cx="135.1" cy="559.6" rx="4.25" ry="4.25"/><ellipse cx="152.3" cy="556.6" rx="4.25" ry="4.25"/><ellipse cx="169.5" cy="553.4" rx="4.25" ry="4.25"/><ellipse cx="186.8" cy="548" rx="4.25" ry="4.25"/><ellipse cx="204" cy="537.9" rx="4.25" ry="4.25"/><ellipse cx="221.2" cy="528.2" rx="4.25" ry="4.25"/><ellipse cx="238.4" cy="524.4" rx="4.25" ry="4.25"/><ellipse cx="255.7" cy="524.3" rx="4.25" ry="4.25"/><ellipse cx="272.9" cy="528.1" rx="4.25" ry="4.25"/><ellipse cx="290.1" cy="534" rx="4.25" ry="4.25"/><ellipse cx="307.4" cy="541.6" rx="4.25" ry="4.25"/><ellipse cx="324.6" cy="549.6" rx="4.25" ry="4.25"/><ellipse cx="341.8" cy="558.2" rx="4.25" ry="4.25"/><ellipse cx="359" cy="564.6" rx="4.25" ry="4.25"/><ellipse cx="376.3" cy="569.9" rx="4.25" ry="4.25"/><ellipse cx="393.5" cy="575" rx="4.25" ry="4.25"/><ellipse cx="410.7" cy="577.5" rx="4.25" ry="4.25"/><ellipse cx="428" cy="579.6" rx="4.25" ry="4.25"/><ellipse cx="445.2" cy="582.6" rx="4.25" ry="4.25"/><ellipse cx="462.4" cy="584.2" rx="4.25" ry="4.25"/><ellipse cx="479.7" cy="585.4" rx="4.25" ry="4.25"/><ellipse cx="496.9" cy="586.1" rx="4.25" ry="4.25"/></g><polyline points="100.6,556.4 117.8,554 135.1,550.6 152.3,546.9 169.5,544.3 186.8,538.5 204,530.3 221.2,519.3 238.4,506.6 255.7,495 272.9,489 290.1,487.5 307.4,490.2 324.6,498.8 341.8,510 359,522.6 376.3,533.5 393.5,543.8 410.7,552.2 428,558.2 445.2,564.2 462.4,568.1 479.7,572.2 496.9,575" fill="none" stroke="#f2c8b0" stroke-width="1.8"/><g fill="#f7bc90" stroke="#f0bc9c" stroke-width="1"><ellipse cx="100.6" cy="556.4" rx="4.25" ry="4.25"/><ellipse cx="117.8" cy="554" rx="4.25" ry="4.25"/><ellipse cx="135.1" cy="550.6" rx="4.25" ry="4.25"/><ellipse cx="152.3" cy="546.9" rx="4.25" ry="4.25"/><ellipse cx="169.5" cy="544.3" rx="4.25" ry="4.25"/><ellipse cx="186.8" cy="538.5" rx="4.25" ry="4.25"/><ellipse cx="204" cy="530.3" rx="4.25" ry="4.25"/><ellipse cx="221.2" cy="519.3" rx="4.25" ry="4.25"/><ellipse cx="238.4" cy="506.6" rx="4.25" ry="4.25"/><ellipse cx="255.7" cy="495" rx="4.25" ry="4.25"/><ellipse cx="272.9" cy="489" rx="4.25" ry="4.25"/><ellipse cx="290.1" cy="487.5" rx="4.25" ry="4.25"/><ellipse cx="307.4" cy="490.2" rx="4.25" ry="4.25"/><ellipse cx="324.6" cy="498.8" rx="4.25" ry="4.25"/><ellipse cx="341.8" cy="510" rx="4.25" ry="4.25"/><ellipse cx="359" cy="522.6" rx="4.25" ry="4.25"/><ellipse cx="376.3" cy="533.5" rx="4.25" ry="4.25"/><ellipse cx="393.5" cy="543.8" rx="4.25" ry="4.25"/><ellipse cx="410.7" cy="552.2" rx="4.25" ry="4.25"/><ellipse cx="428" cy="558.2" rx="4.25" ry="4.25"/><ellipse cx="445.2" cy="564.2" rx="4.25" ry="4.25"/><ellipse cx="462.4" cy="568.1" rx="4.25" ry="4.25"/><ellipse cx="479.7" cy="572.2" rx="4.25" ry="4.25"/><ellipse cx="496.9" cy="575" rx="4.25" ry="4.25"/></g><polyline points="100.6,570.7 117.8,568.5 135.1,566.6 152.3,564 169.5,561.3 186.8,557.7 204,552.4 221.2,547.3 238.4,537.4 255.7,524.3 272.9,508.5 290.1,486.6 307.4,462.7 324.6,441 341.8,422.6 359,408.6 376.3,397.2 393.5,388.8 410.7,381.2 428,380.8 445.2,385.4 462.4,394.7 479.7,401.5 496.9,407.4" fill="none" stroke="#222" stroke-width="1.6"/><g fill="#000" stroke="#000" stroke-width="0.5"><ellipse cx="100.6" cy="570.7" rx="4.5" ry="4.5"/><ellipse cx="117.8" cy="568.5" rx="4.5" ry="4.5"/><ellipse cx="135.1" cy="566.6" rx="4.5" ry="4.5"/><ellipse cx="152.3" cy="564" rx="4.5" ry="4.5"/><ellipse cx="169.5" cy="561.3" rx="4.5" ry="4.5"/><ellipse cx="186.8" cy="557.7" rx="4.5" ry="4.5"/><ellipse cx="204" cy="552.4" rx="4.5" ry="4.5"/><ellipse cx="221.2" cy="547.3" rx="4.5" ry="4.5"/><ellipse cx="238.4" cy="537.4" rx="4.5" ry="4.5"/><ellipse cx="255.7" cy="524.3" rx="4.5" ry="4.5"/><ellipse cx="272.9" cy="508.5" rx="4.5" ry="4.5"/><ellipse cx="290.1" cy="486.6" rx="4.5" ry="4.5"/><ellipse cx="307.4" cy="462.7" rx="4.5" ry="4.5"/><ellipse cx="324.6" cy="441" rx="4.5" ry="4.5"/><ellipse cx="341.8" cy="422.6" rx="4.5" ry="4.5"/><ellipse cx="359" cy="408.6" rx="4.5" ry="4.5"/><ellipse cx="376.3" cy="397.2" rx="4.5" ry="4.5"/><ellipse cx="393.5" cy="388.8" rx="4.5" ry="4.5"/><ellipse cx="410.7" cy="381.2" rx="4.5" ry="4.5"/><ellipse cx="428" cy="380.8" rx="4.5" ry="4.5"/><ellipse cx="445.2" cy="385.4" rx="4.5" ry="4.5"/><ellipse cx="462.4" cy="394.7" rx="4.5" ry="4.5"/><ellipse cx="479.7" cy="401.5" rx="4.5" ry="4.5"/><ellipse cx="496.9" cy="407.4" rx="4.5" ry="4.5"/></g><text x="102" y="370" class="b" font-size="14">Coculture</text><text x="102" y="386.9" class="b" font-size="14.35">MET-pos + MET-neg cells</text><path d="M103 394H246.2" stroke="#000" stroke-width="1.8"/><circle cx="110.9" cy="412.9" r="5.2" fill="#6c3210" stroke="#4a1e08" stroke-width="1"/><text x="120.5" y="416.9" class="c" font-size="12">80%</text><text x="163.8" y="416.9" text-anchor="middle" class="c" font-size="12">+</text><text x="184.5" y="416.9" class="c" font-size="12">20%</text><circle cx="110.9" cy="433.6" r="5.2" fill="#b44c12" stroke="#9a4010" stroke-width="1"/><text x="120.5" y="437.6" class="c" font-size="12">60%</text><text x="163.8" y="437.6" text-anchor="middle" class="c" font-size="12">+</text><text x="184.5" y="437.6" class="c" font-size="12">40%</text><circle cx="110.9" cy="454.6" r="5.2" fill="#f58a40" stroke="#e88040" stroke-width="1"/><text x="120.5" y="458.6" class="c" font-size="12">40%</text><text x="163.8" y="458.6" text-anchor="middle" class="c" font-size="12">+</text><text x="184.5" y="458.6" class="c" font-size="12">60%</text><circle cx="110.9" cy="475.7" r="5.2" fill="#f7bc90" stroke="#f0bc9c" stroke-width="1"/><text x="120.5" y="479.7" class="c" font-size="12">20%</text><text x="163.8" y="479.7" text-anchor="middle" class="c" font-size="12">+</text><text x="184.5" y="479.7" class="c" font-size="12">80%</text><circle cx="110.9" cy="496.9" r="5.2" fill="#000" stroke="#000" stroke-width="1"/><text x="120.5" y="500.9" class="c" font-size="12">0%</text><text x="163.8" y="500.9" text-anchor="middle" class="c" font-size="12">+</text><text x="184.5" y="500.9" class="c" font-size="12">100%</text></svg>
</body></html>
